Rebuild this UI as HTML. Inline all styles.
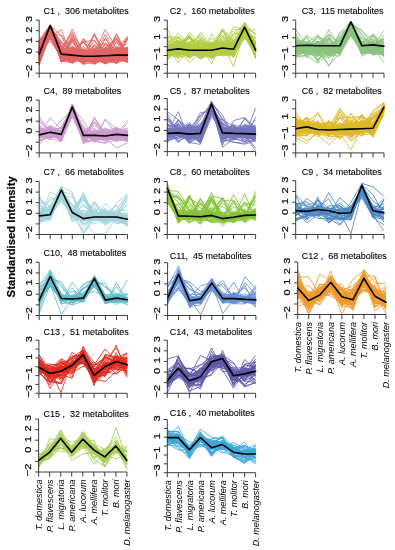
<!DOCTYPE html>
<html><head><meta charset="utf-8"><style>
html,body{margin:0;padding:0;background:#fff;}
svg{display:block;filter:blur(0.35px);}
text{font-family:"Liberation Sans",sans-serif;fill:#000;stroke:#000;stroke-width:0.2px;}
.tt{font-size:9px;stroke-width:0.1px;}
.yl{font-size:9.6px;text-anchor:middle;}
.xl{font-size:9px;font-style:italic;text-anchor:end;stroke:none;}
.ylab{font-size:11.3px;font-weight:bold;text-anchor:middle;}
</style></head><body>
<svg width="395" height="550" viewBox="0 0 395 550">
<rect width="395" height="550" fill="#fff"/>
<g>
<g fill="none" stroke="#E06563" stroke-width="0.85" stroke-linejoin="round"><polyline points="39.2,50.9 50.2,28.7 61.3,57.2 72.3,40.4 83.4,58.4 94.4,55 105.4,58.9 116.5,52.7 127.5,56.7"/><polyline points="39.2,62.3 50.2,25.2 61.3,58.5 72.3,54.6 83.4,64.3 94.4,56.4 105.4,61 116.5,54.6 127.5,58"/><polyline points="39.2,52.7 50.2,29.2 61.3,56.1 72.3,54.8 83.4,60.5 94.4,51.4 105.4,52.7 116.5,57.4 127.5,52.5"/><polyline points="39.2,49.4 50.2,31.5 61.3,51.7 72.3,52.8 83.4,58.6 94.4,57.8 105.4,59.8 116.5,55.8 127.5,51.1"/><polyline points="39.2,49.1 50.2,32.2 61.3,55.7 72.3,50.7 83.4,57.4 94.4,57.1 105.4,57.2 116.5,53.9 127.5,55.8"/><polyline points="39.2,54.8 50.2,28.4 61.3,51.8 72.3,52.8 83.4,52.5 94.4,54.2 105.4,54.5 116.5,62.3 127.5,58.3"/><polyline points="39.2,56.9 50.2,26.4 61.3,53.4 72.3,55.8 83.4,53.7 94.4,41.5 105.4,54.8 116.5,33.5 127.5,55.6"/><polyline points="39.2,50.6 50.2,38.2 61.3,51.1 72.3,52.5 83.4,53.5 94.4,61.6 105.4,50.6 116.5,56.1 127.5,58.6"/><polyline points="39.2,52.8 50.2,32.5 61.3,56.3 72.3,50.7 83.4,52.8 94.4,58.6 105.4,57.6 116.5,50 127.5,56.2"/><polyline points="39.2,43.7 50.2,37 61.3,57.8 72.3,57.8 83.4,61.3 94.4,58.4 105.4,53.1 116.5,54.9 127.5,53.6"/><polyline points="39.2,58.4 50.2,29.2 61.3,49.4 72.3,54.1 83.4,57.8 94.4,54 105.4,56.2 116.5,51 127.5,53.8"/><polyline points="39.2,47.4 50.2,26.2 61.3,54.6 72.3,52.4 83.4,53 94.4,50.9 105.4,52.7 116.5,52.1 127.5,49.9"/><polyline points="39.2,48.2 50.2,34.1 61.3,54.1 72.3,60.9 83.4,55.3 94.4,57.1 105.4,58.7 116.5,55.7 127.5,60.9"/><polyline points="39.2,50.3 50.2,30.3 61.3,56.4 72.3,58.3 83.4,46.3 94.4,61.1 105.4,56 116.5,60.2 127.5,52.5"/><polyline points="39.2,54 50.2,31.6 61.3,54.2 72.3,57.6 83.4,64.3 94.4,51.5 105.4,59.8 116.5,51.2 127.5,55"/><polyline points="39.2,48.2 50.2,33 61.3,53.3 72.3,53.4 83.4,52.4 94.4,56.7 105.4,60.3 116.5,50 127.5,52.4"/><polyline points="39.2,51.2 50.2,31.5 61.3,53.8 72.3,56.1 83.4,52 94.4,56.2 105.4,57.6 116.5,61.5 127.5,51.8"/><polyline points="39.2,51.9 50.2,25.6 61.3,55 72.3,55 83.4,54.3 94.4,58.2 105.4,50.1 116.5,54.9 127.5,59"/><polyline points="39.2,54.6 50.2,26 61.3,54.9 72.3,60.7 83.4,59.2 94.4,58.9 105.4,60.5 116.5,56.2 127.5,54.5"/><polyline points="39.2,50 50.2,28.8 61.3,55 72.3,58.8 83.4,60.6 94.4,51.7 105.4,51.9 116.5,54.2 127.5,48.3"/><polyline points="39.2,59.7 50.2,33 61.3,48.9 72.3,58.4 83.4,58 94.4,56.9 105.4,54.6 116.5,55.3 127.5,55.4"/><polyline points="39.2,49.3 50.2,25.2 61.3,60 72.3,62 83.4,53.2 94.4,56.7 105.4,57 116.5,52.9 127.5,54.4"/><polyline points="39.2,52.8 50.2,30.5 61.3,58.1 72.3,59.2 83.4,52.5 94.4,57.9 105.4,56.1 116.5,56.3 127.5,60.2"/><polyline points="39.2,51.3 50.2,31.7 61.3,60.2 72.3,54.5 83.4,57.5 94.4,55.5 105.4,58.9 116.5,53.5 127.5,50.4"/><polyline points="39.2,54.5 50.2,34.1 61.3,58 72.3,55.8 83.4,58.5 94.4,62.1 105.4,52.2 116.5,51.4 127.5,58.8"/><polyline points="39.2,52.8 50.2,31.5 61.3,57 72.3,58.7 83.4,56.4 94.4,61.6 105.4,58 116.5,52.2 127.5,49.9"/><polyline points="39.2,53.7 50.2,29.2 61.3,52 72.3,53 83.4,60 94.4,56 105.4,58.9 116.5,61.2 127.5,58.9"/><polyline points="39.2,52 50.2,32.9 61.3,59.4 72.3,57.8 83.4,54.9 94.4,58.7 105.4,58.3 116.5,58.6 127.5,61.6"/><polyline points="39.2,51.2 50.2,25.2 61.3,53.5 72.3,48.5 83.4,61.7 94.4,60.6 105.4,60.4 116.5,52.3 127.5,60"/><polyline points="39.2,64.7 50.2,28.9 61.3,57.9 72.3,58.9 83.4,61.5 94.4,51.4 105.4,57.1 116.5,61.8 127.5,55.3"/><polyline points="39.2,58.4 50.2,32.9 61.3,54.2 72.3,48.6 83.4,58.9 94.4,58.3 105.4,55.9 116.5,53 127.5,54.3"/><polyline points="39.2,57.5 50.2,30.4 61.3,56 72.3,55.2 83.4,56 94.4,58.4 105.4,63 116.5,54.6 127.5,56.6"/><polyline points="39.2,53.9 50.2,25.2 61.3,53.8 72.3,54.3 83.4,54.7 94.4,57.7 105.4,61.5 116.5,54.3 127.5,53.8"/><polyline points="39.2,49.1 50.2,25.2 61.3,53.4 72.3,53.3 83.4,52.7 94.4,61.7 105.4,56.2 116.5,53.8 127.5,59.7"/><polyline points="39.2,54.5 50.2,26.7 61.3,48 72.3,38.3 83.4,54.7 94.4,55.8 105.4,58.4 116.5,52.6 127.5,51.4"/><polyline points="39.2,50.6 50.2,34.9 61.3,59.8 72.3,55.3 83.4,62.2 94.4,58.3 105.4,63.6 116.5,52 127.5,57.3"/><polyline points="39.2,64.7 50.2,25.9 61.3,52.2 72.3,49.2 83.4,55.1 94.4,53.5 105.4,55.8 116.5,48.3 127.5,55.3"/><polyline points="39.2,52.7 50.2,25.2 61.3,57.5 72.3,55.8 83.4,52.5 94.4,59.4 105.4,58 116.5,51.5 127.5,53.4"/><polyline points="39.2,53.8 50.2,30.6 61.3,57.3 72.3,54.4 83.4,53.8 94.4,59.4 105.4,56.9 116.5,54.4 127.5,57.4"/><polyline points="39.2,40.6 50.2,25.2 61.3,53.9 72.3,49.8 83.4,59.6 94.4,54.6 105.4,61.4 116.5,52.8 127.5,55.6"/><polyline points="39.2,54.3 50.2,33.8 61.3,57.2 72.3,58.7 83.4,56.3 94.4,57.4 105.4,53.2 116.5,58.8 127.5,47.1"/><polyline points="39.2,48.7 50.2,29.4 61.3,54.9 72.3,50.9 83.4,53.9 94.4,49.5 105.4,53.7 116.5,62.3 127.5,55.8"/><polyline points="39.2,54.3 50.2,35.8 61.3,52.8 72.3,56.3 83.4,57.4 94.4,51.9 105.4,51.8 116.5,55.1 127.5,58.3"/><polyline points="39.2,52.1 50.2,30.9 61.3,52.9 72.3,54.1 83.4,57.3 94.4,58.1 105.4,61.6 116.5,48.7 127.5,50.5"/><polyline points="39.2,44.8 50.2,35.7 61.3,54.3 72.3,54.8 83.4,56.5 94.4,57.5 105.4,55.9 116.5,53.3 127.5,59"/><polyline points="39.2,51.1 50.2,26.7 61.3,48.6 72.3,54.9 83.4,51 94.4,58.6 105.4,53.4 116.5,50.3 127.5,52.5"/><polyline points="39.2,49.6 50.2,31 61.3,61.4 72.3,60.4 83.4,54.9 94.4,50.6 105.4,61.1 116.5,58.4 127.5,53.6"/><polyline points="39.2,52.8 50.2,36 61.3,51.6 72.3,53.9 83.4,54 94.4,51.9 105.4,54.3 116.5,60.3 127.5,56.1"/><polyline points="39.2,43.8 50.2,31 61.3,58.3 72.3,56.1 83.4,58.7 94.4,58.5 105.4,58.2 116.5,51.7 127.5,58.7"/><polyline points="39.2,48.3 50.2,29.8 61.3,55.8 72.3,58.6 83.4,57.9 94.4,61.3 105.4,55.2 116.5,61.4 127.5,52.3"/><polyline points="39.2,57.2 50.2,34.5 61.3,56.1 72.3,58 83.4,55.4 94.4,57.9 105.4,38 116.5,56.9 127.5,54"/><polyline points="39.2,61.7 50.2,36.3 61.3,54 72.3,50.5 83.4,53.4 94.4,53.2 105.4,53 116.5,54.6 127.5,58.4"/><polyline points="39.2,48.5 50.2,29.6 61.3,53 72.3,54.7 83.4,60.2 94.4,53.1 105.4,56.5 116.5,58.9 127.5,58.9"/><polyline points="39.2,41.8 50.2,33.4 61.3,51.5 72.3,54.8 83.4,60.8 94.4,56.4 105.4,55 116.5,54.2 127.5,55"/><polyline points="39.2,63.8 50.2,33.3 61.3,51.6 72.3,54.9 83.4,57.8 94.4,56.9 105.4,60.5 116.5,57.4 127.5,38.3"/><polyline points="39.2,46.2 50.2,31 61.3,52.7 72.3,57.4 83.4,42.1 94.4,56.1 105.4,57.2 116.5,54.4 127.5,50.9"/><polyline points="39.2,56.9 50.2,25.2 61.3,55.2 72.3,49.2 83.4,59.6 94.4,53.4 105.4,55.9 116.5,52.9 127.5,51.5"/><polyline points="39.2,58 50.2,25.2 61.3,54.9 72.3,53.8 83.4,59.4 94.4,56.3 105.4,56.2 116.5,55.6 127.5,55.1"/><polyline points="39.2,46.9 50.2,26.6 61.3,54.9 72.3,54.9 83.4,52.6 94.4,54.6 105.4,54.4 116.5,56.6 127.5,53.8"/><polyline points="39.2,56 50.2,27.8 61.3,52.6 72.3,55 83.4,62.5 94.4,44.2 105.4,56.4 116.5,60.2 127.5,58.9"/><polyline points="39.2,44 50.2,34.5 61.3,51.8 72.3,54.1 83.4,56.4 94.4,50.1 105.4,55.2 116.5,53.1 127.5,52.2"/><polyline points="39.2,63 50.2,25.2 61.3,51 72.3,57.9 83.4,61 94.4,48.1 105.4,59.6 116.5,56.6 127.5,58"/><polyline points="39.2,47.9 50.2,25.2 61.3,58 72.3,57.6 83.4,53.6 94.4,54.5 105.4,51.6 116.5,52.1 127.5,57.8"/><polyline points="39.2,61 50.2,32.4 61.3,62.1 72.3,56.1 83.4,55.6 94.4,57 105.4,63.2 116.5,57.7 127.5,54.4"/><polyline points="39.2,48.3 50.2,28.2 61.3,56.5 72.3,47.1 83.4,55.2 94.4,53.5 105.4,56.4 116.5,55.9 127.5,52.5"/><polyline points="39.2,58.9 50.2,32 61.3,43.1 72.3,53.4 83.4,56 94.4,57.3 105.4,59.5 116.5,55 127.5,56.9"/><polyline points="39.2,56.3 50.2,28.4 61.3,56.8 72.3,57.7 83.4,56.3 94.4,53.9 105.4,58.3 116.5,54 127.5,56.9"/><polyline points="39.2,45.6 50.2,25.2 61.3,52.8 72.3,57.3 83.4,56 94.4,56.4 105.4,47.6 116.5,60.3 127.5,55.6"/><polyline points="39.2,46.9 50.2,25.5 61.3,57 72.3,58.4 83.4,56 94.4,57.5 105.4,53.9 116.5,56 127.5,59.2"/><polyline points="39.2,54.3 50.2,26.4 61.3,55.4 72.3,35.5 83.4,56.7 94.4,58.1 105.4,53.4 116.5,56.9 127.5,51"/><polyline points="39.2,53.3 50.2,27.2 61.3,51.2 72.3,54.4 83.4,57.5 94.4,58.2 105.4,58.8 116.5,52 127.5,55.4"/><polyline points="39.2,50.4 50.2,29 61.3,52 72.3,55.9 83.4,61.5 94.4,61.3 105.4,51.1 116.5,60.5 127.5,50.7"/><polyline points="39.2,54.3 50.2,33.2 61.3,51.8 72.3,50.9 83.4,51.4 94.4,49.3 105.4,52.5 116.5,58.4 127.5,52.8"/><polyline points="39.2,46.8 50.2,26.1 61.3,62.1 72.3,56.7 83.4,55.5 94.4,57.9 105.4,48.6 116.5,59.5 127.5,53.7"/><polyline points="39.2,55.1 50.2,32.6 61.3,53.5 72.3,57.4 83.4,56.5 94.4,58.7 105.4,55.9 116.5,52.6 127.5,50.7"/><polyline points="39.2,55.3 50.2,25.2 61.3,52 72.3,53.7 83.4,50.9 94.4,61.4 105.4,60.7 116.5,58.1 127.5,53.1"/><polyline points="39.2,53 50.2,25.2 61.3,53.8 72.3,57 83.4,50.6 94.4,55.3 105.4,55 116.5,55.3 127.5,60.7"/><polyline points="39.2,49.2 50.2,29.7 61.3,62.1 72.3,54.4 83.4,55.2 94.4,61.2 105.4,49.3 116.5,55.9 127.5,52.1"/><polyline points="39.2,45.8 50.2,33.2 61.3,57.5 72.3,59.5 83.4,55.2 94.4,54.8 105.4,58.3 116.5,54.9 127.5,59.7"/><polyline points="39.2,62.3 50.2,31.5 61.3,59.8 72.3,53.7 83.4,61.5 94.4,53 105.4,56.8 116.5,56.3 127.5,59.8"/><polyline points="39.2,59.8 50.2,29.8 61.3,52.2 72.3,57.4 83.4,54.2 94.4,57.3 105.4,57.7 116.5,56.1 127.5,49.6"/><polyline points="39.2,58.5 50.2,25.2 61.3,49.8 72.3,54.6 83.4,54 94.4,64.3 105.4,53.2 116.5,58.3 127.5,49.6"/><polyline points="39.2,58.9 50.2,30 61.3,61.8 72.3,54.8 83.4,56.8 94.4,49.4 105.4,55.8 116.5,57.9 127.5,52"/><polyline points="39.2,59.5 50.2,32.8 61.3,48.4 72.3,54.4 83.4,60.2 94.4,51.1 105.4,54 116.5,52.7 127.5,52.3"/><polyline points="39.2,49.3 50.2,36.9 61.3,55.5 72.3,56.7 83.4,56.7 94.4,55.9 105.4,60.7 116.5,58.5 127.5,49.2"/><polyline points="39.2,44.7 50.2,38.8 61.3,48.8 72.3,63.2 83.4,50.7 94.4,55.6 105.4,55.3 116.5,57.5 127.5,54.4"/><polyline points="39.2,40.3 50.2,34.2 61.3,53.2 72.3,59.5 83.4,59.5 94.4,56.4 105.4,56.9 116.5,56.9 127.5,52.9"/><polyline points="39.2,51 50.2,31.8 61.3,50.5 72.3,33.4 83.4,59.4 94.4,57.6 105.4,53.1 116.5,55.8 127.5,49.4"/><polyline points="39.2,48.3 50.2,25.2 61.3,55 72.3,47.1 83.4,52.1 94.4,54.7 105.4,51.2 116.5,53.7 127.5,57.6"/><polyline points="39.2,51.7 50.2,29.3 61.3,59.2 72.3,51 83.4,57.5 94.4,54.2 105.4,61.7 116.5,47.1 127.5,51.6"/><polyline points="39.2,45 50.2,35.6 61.3,53.5 72.3,55.9 83.4,55.8 94.4,50.6 105.4,52.5 116.5,52.7 127.5,49.9"/><polyline points="39.2,58.6 50.2,37.6 61.3,29.7 72.3,58.3 83.4,51.8 94.4,56.2 105.4,56.1 116.5,48.2 127.5,48.6"/><polyline points="39.2,48.5 50.2,29.3 61.3,54.6 72.3,55.1 83.4,60.9 94.4,57.9 105.4,51.3 116.5,55.1 127.5,52.7"/><polyline points="39.2,50.3 50.2,28.9 61.3,53.8 72.3,62.2 83.4,57.2 94.4,62.1 105.4,55.8 116.5,59.2 127.5,59.5"/><polyline points="39.2,56.3 50.2,31.4 61.3,50.2 72.3,56.2 83.4,52.4 94.4,59.2 105.4,59.6 116.5,58.2 127.5,58.3"/><polyline points="39.2,56.5 50.2,29.1 61.3,48.2 72.3,57.4 83.4,59.4 94.4,55.2 105.4,58.6 116.5,51.2 127.5,54.5"/><polyline points="39.2,55.3 50.2,28.5 61.3,55.5 72.3,57.1 83.4,38.4 94.4,51.1 105.4,53.6 116.5,55.6 127.5,56"/><polyline points="39.2,54.5 50.2,34.2 61.3,55 72.3,53.7 83.4,59.5 94.4,55.7 105.4,57.7 116.5,55.4 127.5,58.9"/><polyline points="39.2,54.9 50.2,28.1 61.3,59.2 72.3,59.7 83.4,57.3 94.4,55.9 105.4,53.9 116.5,57.5 127.5,59.2"/><polyline points="39.2,52.6 50.2,29.9 61.3,52.1 72.3,57.9 83.4,54.6 94.4,51.9 105.4,58.4 116.5,51.5 127.5,51.5"/><polyline points="39.2,45.9 50.2,28.7 61.3,49 72.3,54.8 83.4,57.2 94.4,60.8 105.4,54.5 116.5,50.3 127.5,54.8"/><polyline points="39.2,56 50.2,33 61.3,60.5 72.3,56 83.4,59.5 94.4,48.3 105.4,58.2 116.5,58.7 127.5,49.1"/><polyline points="39.2,46.3 50.2,30.4 61.3,51.2 72.3,58.2 83.4,61.1 94.4,52.8 105.4,29.2 116.5,48.8 127.5,59.4"/><polyline points="39.2,55.1 50.2,30.3 61.3,50.5 72.3,59 83.4,58.9 94.4,55.8 105.4,53.2 116.5,53.7 127.5,53.5"/><polyline points="39.2,57.5 50.2,26.4 61.3,57.8 72.3,51.6 83.4,57.3 94.4,60.9 105.4,56.9 116.5,63.2 127.5,59.3"/><polyline points="39.2,52.9 50.2,29.8 61.3,47.6 72.3,54.3 83.4,51.3 94.4,52.7 105.4,51.7 116.5,56.4 127.5,54"/><polyline points="39.2,53.9 50.2,25.2 61.3,52.8 72.3,52.6 83.4,52.3 94.4,58.2 105.4,55.1 116.5,58.6 127.5,62.3"/><polyline points="39.2,53.9 50.2,28.4 61.3,58.4 72.3,55.8 83.4,61 94.4,54.9 105.4,55.5 116.5,51.5 127.5,56.2"/><polyline points="39.2,50.8 50.2,26.1 61.3,54 72.3,52.2 83.4,54.4 94.4,55.4 105.4,52.2 116.5,49.1 127.5,60.6"/><polyline points="39.2,53 50.2,26.2 61.3,47 72.3,59.6 83.4,57.3 94.4,55.5 105.4,59.2 116.5,52.8 127.5,57.6"/><polyline points="39.2,57.9 50.2,26.3 61.3,55 72.3,53 83.4,57.7 94.4,51 105.4,52.1 116.5,57 127.5,56"/><polyline points="39.2,52.5 50.2,25.2 61.3,53.7 72.3,56.1 83.4,59.3 94.4,56.4 105.4,56.1 116.5,48.1 127.5,53.6"/><polyline points="39.2,50.8 50.2,26.8 61.3,53 72.3,50.2 83.4,48.9 94.4,53.8 105.4,49.3 116.5,55.3 127.5,50.7"/><polyline points="39.2,59.9 50.2,27.4 61.3,54.4 72.3,57.5 83.4,58.8 94.4,50.9 105.4,56.1 116.5,53.4 127.5,55.7"/><polyline points="39.2,52 50.2,34.2 61.3,52.8 72.3,60.6 83.4,55.2 94.4,52.8 105.4,59.5 116.5,49.7 127.5,57.7"/><polyline points="39.2,55.1 50.2,32.6 61.3,54 72.3,59.4 83.4,58.6 94.4,54 105.4,56.9 116.5,58 127.5,52.9"/><polyline points="39.2,48.7 50.2,26.9 61.3,47.7 72.3,57 83.4,60.7 94.4,55.7 105.4,55.3 116.5,57.5 127.5,59.5"/><polyline points="39.2,50.7 50.2,31.3 61.3,57.2 72.3,57 83.4,61 94.4,53.9 105.4,55.9 116.5,38.8 127.5,51.3"/><polyline points="39.2,58 50.2,25.2 61.3,48.1 72.3,50.8 83.4,56.9 94.4,54.7 105.4,52.4 116.5,59.2 127.5,53.9"/><polyline points="39.2,48.2 50.2,34.2 61.3,55.8 72.3,54.7 83.4,55.9 94.4,58.9 105.4,57.6 116.5,49.3 127.5,52.3"/><polyline points="39.2,44.8 50.2,32.4 61.3,47.6 72.3,56 83.4,57.4 94.4,51.1 105.4,55.7 116.5,57.7 127.5,54.9"/><polyline points="39.2,52.4 50.2,29.5 61.3,57.6 72.3,48.6 83.4,50.7 94.4,57.5 105.4,52 116.5,58.4 127.5,39.1"/><polyline points="39.2,59.1 50.2,25.2 61.3,56.6 72.3,55.6 83.4,49.5 94.4,56.3 105.4,50.1 116.5,51.5 127.5,56.2"/><polyline points="39.2,57.4 50.2,25.2 61.3,58.9 72.3,51.8 83.4,58.9 94.4,54.6 105.4,54.7 116.5,57.1 127.5,60.6"/><polyline points="39.2,54.7 50.2,25.2 61.3,51.7 72.3,55 83.4,52.5 94.4,58 105.4,56.6 116.5,52.9 127.5,58.6"/><polyline points="39.2,51 50.2,25.2 61.3,51.6 72.3,57.6 83.4,56.4 94.4,60.7 105.4,53.5 116.5,53.5 127.5,53.4"/><polyline points="39.2,43 50.2,37 61.3,49.6 72.3,56.1 83.4,62.8 94.4,58.6 105.4,60.8 116.5,54.2 127.5,57.6"/><polyline points="39.2,55.4 50.2,29.9 61.3,54.7 72.3,56.1 83.4,55.6 94.4,54 105.4,61.4 116.5,61.1 127.5,57.8"/><polyline points="39.2,52 50.2,25.2 61.3,56.5 72.3,58 83.4,59.8 94.4,61.1 105.4,54 116.5,58.6 127.5,54.3"/><polyline points="39.2,53.7 50.2,29.5 61.3,47.3 72.3,53.8 83.4,58.2 94.4,53.1 105.4,54.2 116.5,62.3 127.5,47.2"/><polyline points="39.2,60 50.2,27.3 61.3,56.9 72.3,50.3 83.4,52.8 94.4,56.7 105.4,44.7 116.5,48.5 127.5,58.8"/><polyline points="39.2,41.3 50.2,28.9 61.3,56.6 72.3,51.4 83.4,51.1 94.4,56 105.4,53 116.5,58.8 127.5,56.5"/><polyline points="39.2,53.6 50.2,30.3 61.3,59.7 72.3,50.1 83.4,53.9 94.4,58 105.4,54.7 116.5,58.6 127.5,56.3"/><polyline points="39.2,53.9 50.2,31.4 61.3,54.1 72.3,54.7 83.4,58.5 94.4,53.6 105.4,51.2 116.5,56.5 127.5,54.5"/><polyline points="39.2,48.3 50.2,27.7 61.3,58.2 72.3,51.7 83.4,53.3 94.4,52.3 105.4,58.5 116.5,57.8 127.5,54.5"/><polyline points="39.2,64.7 50.2,33.6 61.3,60.7 72.3,51.2 83.4,57.6 94.4,56.7 105.4,57.7 116.5,51 127.5,51.8"/><polyline points="39.2,53.4 50.2,33.3 61.3,51.2 72.3,57.5 83.4,50.4 94.4,57.2 105.4,51.9 116.5,56.5 127.5,53.8"/><polyline points="39.2,60 50.2,34.2 61.3,35.4 72.3,60.2 83.4,61.3 94.4,52.2 105.4,52.6 116.5,58.2 127.5,56.5"/><polyline points="39.2,47.4 50.2,31.2 61.3,52 72.3,52.8 83.4,59.9 94.4,61.1 105.4,55.5 116.5,52.5 127.5,54.5"/><polyline points="39.2,53.5 50.2,31.5 61.3,55.5 72.3,54.3 83.4,56.6 94.4,53.4 105.4,54.6 116.5,60.4 127.5,58.9"/><polyline points="39.2,61.3 50.2,36.2 61.3,55.9 72.3,59.3 83.4,57 94.4,57.7 105.4,58.3 116.5,53.1 127.5,56.7"/><polyline points="39.2,50.7 50.2,27 61.3,56.8 72.3,47.1 83.4,55 94.4,64.3 105.4,58.2 116.5,56 127.5,55.9"/><polyline points="39.2,55.5 50.2,33 61.3,58.8 72.3,52.4 83.4,53.7 94.4,52.1 105.4,49.8 116.5,55.6 127.5,54.5"/><polyline points="39.2,56.6 50.2,33 61.3,56.4 72.3,54.9 83.4,62.1 94.4,34.3 105.4,59.9 116.5,53.6 127.5,51.9"/><polyline points="39.2,56.9 50.2,29.3 61.3,54.4 72.3,58.8 83.4,39 94.4,58.2 105.4,57.7 116.5,55.4 127.5,55.1"/><polyline points="39.2,46.5 50.2,25.9 61.3,35 72.3,51.8 83.4,53.1 94.4,51.8 105.4,62.9 116.5,54.8 127.5,55.8"/><polyline points="39.2,49.8 50.2,36.9 61.3,52.2 72.3,48.4 83.4,64.1 94.4,57.4 105.4,63.2 116.5,49.3 127.5,51"/><polyline points="39.2,50.2 50.2,28.7 61.3,50.2 72.3,57.2 83.4,58 94.4,49.1 105.4,57.8 116.5,60.6 127.5,56.9"/><polyline points="39.2,46.5 50.2,32.3 61.3,52.4 72.3,58.9 83.4,59.5 94.4,54.6 105.4,60.4 116.5,57.8 127.5,55.6"/><polyline points="39.2,48.7 50.2,31.5 61.3,50 72.3,56.2 83.4,58.8 94.4,56.8 105.4,50.4 116.5,49.5 127.5,53.8"/><polyline points="39.2,40.3 50.2,33.5 61.3,58.3 72.3,36.4 83.4,53.3 94.4,52.8 105.4,55.8 116.5,57.8 127.5,51.4"/><polyline points="39.2,50.6 50.2,30.4 61.3,41.8 72.3,59 83.4,61.5 94.4,54.1 105.4,60 116.5,54.7 127.5,57.4"/><polyline points="39.2,46.6 50.2,25.2 61.3,56.2 72.3,54.8 83.4,60.6 94.4,56.8 105.4,54.9 116.5,56.6 127.5,60.1"/><polyline points="39.2,51 50.2,25.2 61.3,58.3 72.3,54.3 83.4,48.8 94.4,59.3 105.4,58.6 116.5,47.1 127.5,52.6"/><polyline points="39.2,51 50.2,25.2 61.3,57.7 72.3,50.1 83.4,54.4 94.4,55.6 105.4,50.3 116.5,53.4 127.5,51.5"/><polyline points="39.2,58.7 50.2,29.2 61.3,46.4 72.3,55.6 83.4,52.9 94.4,61.9 105.4,59.8 116.5,53.2 127.5,52.3"/><polyline points="39.2,48.4 50.2,28.3 61.3,57.2 72.3,58.9 83.4,60 94.4,56.9 105.4,60.7 116.5,42.2 127.5,56.3"/><polyline points="39.2,40.4 50.2,30.6 61.3,54.8 72.3,53.8 83.4,58.9 94.4,55.9 105.4,52.3 116.5,54.1 127.5,58.1"/><polyline points="39.2,42.4 50.2,30.3 61.3,47.1 72.3,53 83.4,60.9 94.4,53.8 105.4,51.5 116.5,54.7 127.5,53.1"/><polyline points="39.2,49.5 50.2,30.9 61.3,57.7 72.3,59.9 83.4,57.4 94.4,58.1 105.4,56.8 116.5,50.4 127.5,55"/><polyline points="39.2,58.7 50.2,29.7 61.3,54.9 72.3,53.2 83.4,55.4 94.4,63.8 105.4,59 116.5,56.1 127.5,59"/><polyline points="39.2,56 50.2,29.9 61.3,54.9 72.3,55 83.4,58.6 94.4,51.4 105.4,58.6 116.5,54.7 127.5,56"/><polyline points="39.2,53.4 50.2,28.1 61.3,56.6 72.3,52.4 83.4,52.4 94.4,52.4 105.4,49.5 116.5,54.4 127.5,60.7"/><polyline points="39.2,55 50.2,35.2 61.3,51 72.3,51.7 83.4,56.4 94.4,58.5 105.4,52.8 116.5,59.2 127.5,60.2"/><polyline points="39.2,49.2 50.2,33 61.3,56.5 72.3,58.5 83.4,58.5 94.4,53.3 105.4,59.2 116.5,60.9 127.5,57.7"/><polyline points="39.2,56.7 50.2,35.5 61.3,58.2 72.3,55.9 83.4,58.4 94.4,55.3 105.4,62.7 116.5,52.5 127.5,54.4"/><polyline points="39.2,54.5 50.2,27.2 61.3,50.7 72.3,56 83.4,54.3 94.4,59.1 105.4,54.8 116.5,50 127.5,55.5"/><polyline points="39.2,55.9 50.2,33.9 61.3,49.8 72.3,52.8 83.4,59.6 94.4,55.3 105.4,49.5 116.5,52.1 127.5,52.6"/><polyline points="39.2,53 50.2,25.7 61.3,53.4 72.3,56.9 83.4,53.6 94.4,58.4 105.4,63.7 116.5,52.7 127.5,47.1"/><polyline points="39.2,44.2 50.2,25.2 61.3,54.9 72.3,58.3 83.4,60.1 94.4,52.7 105.4,45.2 116.5,54 127.5,55.3"/><polyline points="39.2,52.1 50.2,29.2 61.3,50.7 72.3,51.7 83.4,53.2 94.4,58 105.4,53.7 116.5,47.7 127.5,37.6"/><polyline points="39.2,47.5 50.2,32.4 61.3,56.5 72.3,54.1 83.4,52.1 94.4,57.2 105.4,62.6 116.5,59.4 127.5,57.8"/><polyline points="39.2,52.4 50.2,35.1 61.3,54.4 72.3,54.1 83.4,56.3 94.4,54.4 105.4,55.2 116.5,51.8 127.5,59.7"/><polyline points="39.2,47.4 50.2,31.4 61.3,58.4 72.3,48.8 83.4,61.2 94.4,57.5 105.4,63.7 116.5,54.2 127.5,56"/><polyline points="39.2,63.7 50.2,28.2 61.3,57 72.3,40.8 83.4,57.9 94.4,59.9 105.4,54.7 116.5,53.5 127.5,51.6"/><polyline points="39.2,55.7 50.2,27.5 61.3,51.6 72.3,55.2 83.4,55.9 94.4,61.1 105.4,53 116.5,56.2 127.5,56.9"/><polyline points="39.2,64.7 50.2,25.2 61.3,46 72.3,55.2 83.4,49.8 94.4,55.9 105.4,34.2 116.5,55 127.5,57.5"/><polyline points="39.2,58.7 50.2,27.4 61.3,54.6 72.3,51.3 83.4,41.3 94.4,58.2 105.4,48.6 116.5,54.9 127.5,58.8"/><polyline points="39.2,54.5 50.2,25.2 61.3,52.2 72.3,53.5 83.4,52.1 94.4,55.7 105.4,50.9 116.5,58.7 127.5,54"/><polyline points="39.2,57.6 50.2,36.4 61.3,52.6 72.3,55.1 83.4,56.5 94.4,52.7 105.4,57.4 116.5,55.7 127.5,53.5"/><polyline points="39.2,59.8 50.2,25.2 61.3,55 72.3,63.2 83.4,57.4 94.4,55.9 105.4,52.4 116.5,53.1 127.5,51.3"/><polyline points="39.2,59.8 50.2,25.2 61.3,51.6 72.3,56.7 83.4,56.1 94.4,58.7 105.4,54.9 116.5,59.7 127.5,56.1"/><polyline points="39.2,48.5 50.2,25.2 61.3,53.9 72.3,59 83.4,54.9 94.4,58.9 105.4,52.6 116.5,60 127.5,54.8"/><polyline points="39.2,47.2 50.2,25.2 61.3,53 72.3,56.6 83.4,54.3 94.4,56 105.4,56.8 116.5,58.7 127.5,53.6"/><polyline points="39.2,47.9 50.2,25.2 61.3,50.6 72.3,55.8 83.4,59.7 94.4,52.6 105.4,48.8 116.5,55.9 127.5,57.6"/><polyline points="39.2,43.7 50.2,34.6 61.3,52.2 72.3,60.1 83.4,59.2 94.4,56.3 105.4,53.1 116.5,54.3 127.5,52.9"/><polyline points="39.2,49.9 50.2,25.6 61.3,54.4 72.3,57.6 83.4,52 94.4,55.2 105.4,47.6 116.5,51.5 127.5,53.7"/><polyline points="39.2,44 50.2,34.5 61.3,52.9 72.3,52 83.4,55.1 94.4,54.4 105.4,58.7 116.5,41.2 127.5,55.1"/><polyline points="39.2,57.5 50.2,29.2 61.3,56.5 72.3,58.9 83.4,55.3 94.4,52.1 105.4,59.9 116.5,58.3 127.5,61.4"/><polyline points="39.2,53.3 50.2,32.6 61.3,57.4 72.3,57.4 83.4,52.6 94.4,52 105.4,50.4 116.5,56.7 127.5,57.9"/><polyline points="39.2,51.1 50.2,26.9 61.3,54.4 72.3,50.1 83.4,58.7 94.4,51.2 105.4,61.8 116.5,53 127.5,49.7"/><polyline points="39.2,55.8 50.2,25.2 61.3,54.3 72.3,57.4 83.4,60.1 94.4,59.8 105.4,51 116.5,58.8 127.5,57.6"/><polyline points="39.2,49.9 50.2,28.2 61.3,61.1 72.3,59.1 83.4,55.9 94.4,57.6 105.4,59 116.5,55.9 127.5,56.6"/><polyline points="39.2,61.9 50.2,25.2 61.3,53.9 72.3,52.9 83.4,56.9 94.4,52.7 105.4,56.1 116.5,54.8 127.5,36.2"/><polyline points="39.2,56.9 50.2,27.5 61.3,53.4 72.3,58.9 83.4,54.4 94.4,33.3 105.4,55.4 116.5,47.5 127.5,55.5"/><polyline points="39.2,53 50.2,33.9 61.3,46 72.3,55.3 83.4,55.9 94.4,54.8 105.4,54.1 116.5,51.6 127.5,54.1"/><polyline points="39.2,51.3 50.2,30.5 61.3,53.7 72.3,49.8 83.4,57.6 94.4,57 105.4,54.2 116.5,55.9 127.5,58.7"/><polyline points="39.2,49.7 50.2,25.4 61.3,50.2 72.3,51.6 83.4,54.1 94.4,35.4 105.4,54.5 116.5,50.9 127.5,58.7"/><polyline points="39.2,51.4 50.2,35.9 61.3,53.7 72.3,61.5 83.4,53.9 94.4,52.9 105.4,55.7 116.5,53.9 127.5,53.9"/><polyline points="39.2,56.5 50.2,30 61.3,58 72.3,42.6 83.4,54.9 94.4,60.1 105.4,54.2 116.5,58.4 127.5,51.7"/><polyline points="39.2,64.2 50.2,25.2 61.3,54.8 72.3,55.3 83.4,57.8 94.4,51.2 105.4,59 116.5,56.4 127.5,55.1"/><polyline points="39.2,55 50.2,30.3 61.3,55.7 72.3,58 83.4,56.7 94.4,54.9 105.4,53.8 116.5,51.3 127.5,57.1"/><polyline points="39.2,45.4 50.2,31.9 61.3,55.5 72.3,53.3 83.4,61.4 94.4,55 105.4,52.9 116.5,51.5 127.5,53.8"/><polyline points="39.2,55.6 50.2,30.9 61.3,57.3 72.3,53.6 83.4,53 94.4,58.4 105.4,57 116.5,54 127.5,55.1"/><polyline points="39.2,47.7 50.2,31.1 61.3,55.4 72.3,63 83.4,57.7 94.4,55.2 105.4,58.2 116.5,58.5 127.5,60.5"/><polyline points="39.2,52.2 50.2,25.2 61.3,54.6 72.3,55.3 83.4,59.8 94.4,51.8 105.4,61.2 116.5,60.8 127.5,53"/><polyline points="39.2,58.7 50.2,25.5 61.3,53.7 72.3,54.6 83.4,55.4 94.4,63.6 105.4,55.1 116.5,56.6 127.5,52.6"/><polyline points="39.2,57.6 50.2,27.9 61.3,53.5 72.3,59.6 83.4,52 94.4,51.1 105.4,52.2 116.5,60 127.5,50.1"/><polyline points="39.2,48.7 50.2,32.2 61.3,54.8 72.3,52.8 83.4,54.5 94.4,46.4 105.4,63 116.5,47.1 127.5,59.1"/><polyline points="39.2,53.3 50.2,28.7 61.3,53.7 72.3,47.1 83.4,58.1 94.4,54.9 105.4,53 116.5,60.2 127.5,56.2"/><polyline points="39.2,55.5 50.2,27 61.3,54.2 72.3,55 83.4,60.1 94.4,59.2 105.4,63.7 116.5,61 127.5,52.2"/><polyline points="39.2,57 50.2,25.2 61.3,50.9 72.3,59.8 83.4,52.4 94.4,57.1 105.4,60.1 116.5,55.1 127.5,57.5"/><polyline points="39.2,47.4 50.2,27.5 61.3,50.9 72.3,52.9 83.4,53.3 94.4,55.9 105.4,60.6 116.5,52.8 127.5,57.3"/><polyline points="39.2,57.2 50.2,26.5 61.3,53.9 72.3,51.7 83.4,61.2 94.4,57.2 105.4,57 116.5,53.4 127.5,47.8"/><polyline points="39.2,53.8 50.2,31.9 61.3,55.1 72.3,56.1 83.4,55.6 94.4,48.1 105.4,57.4 116.5,59.4 127.5,61.7"/><polyline points="39.2,58.7 50.2,30.9 61.3,50.8 72.3,53.8 83.4,58.4 94.4,53 105.4,59.6 116.5,58.4 127.5,54.3"/><polyline points="39.2,48.8 50.2,25.2 61.3,57.3 72.3,52.9 83.4,51.3 94.4,55.1 105.4,52.2 116.5,55.4 127.5,51.7"/><polyline points="39.2,60 50.2,29.7 61.3,57.7 72.3,60.7 83.4,57.6 94.4,59 105.4,57.4 116.5,54.1 127.5,59"/><polyline points="39.2,57.8 50.2,27.4 61.3,56.5 72.3,60.6 83.4,52.7 94.4,62.3 105.4,57.4 116.5,51.2 127.5,58.9"/><polyline points="39.2,57.4 50.2,26.8 61.3,53.3 72.3,49.1 83.4,53.2 94.4,57.6 105.4,57.1 116.5,53.6 127.5,53.9"/><polyline points="39.2,51.5 50.2,41.1 61.3,56.3 72.3,51.8 83.4,57.1 94.4,53.9 105.4,57.8 116.5,53.2 127.5,61"/><polyline points="39.2,50.6 50.2,34.7 61.3,49.9 72.3,57.2 83.4,60.7 94.4,54.7 105.4,56.8 116.5,49.8 127.5,43.4"/><polyline points="39.2,46.7 50.2,34.8 61.3,55.7 72.3,51.9 83.4,62.7 94.4,54.3 105.4,60 116.5,59.5 127.5,52.3"/><polyline points="39.2,51.2 50.2,25.2 61.3,43.9 72.3,52.1 83.4,56.1 94.4,56.3 105.4,48.3 116.5,39.6 127.5,53"/><polyline points="39.2,57.7 50.2,36 61.3,57.6 72.3,60 83.4,56.9 94.4,52.1 105.4,57.4 116.5,53.8 127.5,53.6"/><polyline points="39.2,53.1 50.2,32 61.3,55.4 72.3,51.7 83.4,53.5 94.4,57.6 105.4,54.6 116.5,56.9 127.5,55.9"/><polyline points="39.2,42.7 50.2,32.3 61.3,49.8 72.3,56.9 83.4,56.7 94.4,53.3 105.4,59.7 116.5,58.7 127.5,52.2"/><polyline points="39.2,61.2 50.2,31.6 61.3,57.7 72.3,55.9 83.4,60.2 94.4,60.7 105.4,56.6 116.5,57.5 127.5,50.6"/><polyline points="39.2,50.3 50.2,35.8 61.3,55.6 72.3,58 83.4,58.6 94.4,51.6 105.4,56.4 116.5,54.4 127.5,60.2"/><polyline points="39.2,57.1 50.2,29.3 61.3,46.7 72.3,54.3 83.4,52.5 94.4,56.1 105.4,57 116.5,52.8 127.5,55.1"/><polyline points="39.2,50.5 50.2,35.1 61.3,53 72.3,50 83.4,57.1 94.4,53.7 105.4,58.9 116.5,59.1 127.5,58.9"/><polyline points="39.2,46 50.2,35.9 61.3,54.4 72.3,49.4 83.4,56.5 94.4,59 105.4,58.2 116.5,34.6 127.5,58.1"/><polyline points="39.2,58.9 50.2,25.2 61.3,50.3 72.3,58 83.4,54.3 94.4,51.3 105.4,52 116.5,54.6 127.5,54.5"/><polyline points="39.2,57.7 50.2,25.5 61.3,55.7 72.3,55.7 83.4,58.3 94.4,55.2 105.4,53.8 116.5,55.1 127.5,55"/><polyline points="39.2,53 50.2,25.2 61.3,59.9 72.3,56.2 83.4,54.9 94.4,51.6 105.4,55.7 116.5,58.5 127.5,54.2"/><polyline points="39.2,53.3 50.2,28.1 61.3,53.4 72.3,54.1 83.4,59.8 94.4,54.7 105.4,47.6 116.5,56.6 127.5,57.8"/><polyline points="39.2,58.6 50.2,33.9 61.3,47.8 72.3,52.9 83.4,55.8 94.4,56.8 105.4,55.3 116.5,54 127.5,62.2"/><polyline points="39.2,45.4 50.2,32.1 61.3,57.1 72.3,58.6 83.4,58 94.4,51.4 105.4,54.7 116.5,60.1 127.5,55.9"/><polyline points="39.2,46.9 50.2,28.6 61.3,52 72.3,55.2 83.4,54.3 94.4,53.6 105.4,53.1 116.5,49.7 127.5,59.2"/><polyline points="39.2,48.8 50.2,31.2 61.3,48 72.3,52.4 83.4,54 94.4,59.9 105.4,38 116.5,58 127.5,58.1"/><polyline points="39.2,47.6 50.2,25.8 61.3,50.7 72.3,60.2 83.4,56.8 94.4,54.7 105.4,49.3 116.5,50.2 127.5,52.1"/><polyline points="39.2,52.4 50.2,35 61.3,48.3 72.3,55 83.4,52.1 94.4,54.6 105.4,53.3 116.5,37.4 127.5,52.1"/><polyline points="39.2,63.5 50.2,34.2 61.3,58.9 72.3,55.1 83.4,56.4 94.4,57.9 105.4,60 116.5,63.2 127.5,50"/><polyline points="39.2,52.5 50.2,27.2 61.3,49.8 72.3,52.5 83.4,52.3 94.4,57.4 105.4,54.3 116.5,52.7 127.5,47.1"/><polyline points="39.2,55.5 50.2,32 61.3,53.8 72.3,45.6 83.4,57.8 94.4,60 105.4,52 116.5,53 127.5,56.4"/><polyline points="39.2,51.6 50.2,27.9 61.3,61.1 72.3,62.7 83.4,52.6 94.4,56.3 105.4,53 116.5,53.8 127.5,62.8"/><polyline points="39.2,54.6 50.2,33.5 61.3,56.2 72.3,51.2 83.4,59.8 94.4,58.2 105.4,62.1 116.5,52.7 127.5,52.2"/><polyline points="39.2,48.6 50.2,38.9 61.3,58.3 72.3,59 83.4,60.9 94.4,59.5 105.4,56.9 116.5,57.6 127.5,37.7"/><polyline points="39.2,55.6 50.2,25.2 61.3,49.4 72.3,58.2 83.4,54.9 94.4,56.8 105.4,51.3 116.5,60.1 127.5,54.9"/><polyline points="39.2,56 50.2,26.6 61.3,60.4 72.3,57.3 83.4,59.9 94.4,59.7 105.4,53.3 116.5,53.7 127.5,54.9"/><polyline points="39.2,55.4 50.2,25.2 61.3,53.6 72.3,52.4 83.4,54.5 94.4,56.6 105.4,54.7 116.5,53.9 127.5,52.3"/><polyline points="39.2,53 50.2,28.8 61.3,50.4 72.3,56 83.4,58 94.4,50.4 105.4,42.7 116.5,55.1 127.5,57.1"/><polyline points="39.2,51.1 50.2,25.2 61.3,53 72.3,58.7 83.4,59.1 94.4,55 105.4,54.9 116.5,60.3 127.5,58.3"/><polyline points="39.2,46.2 50.2,25.5 61.3,54.9 72.3,57.5 83.4,54.1 94.4,52.9 105.4,54.7 116.5,55.5 127.5,59.2"/><polyline points="39.2,57.3 50.2,27.6 61.3,57.7 72.3,54.4 83.4,59.2 94.4,59.8 105.4,54.7 116.5,52.5 127.5,53.3"/><polyline points="39.2,55.4 50.2,31.8 61.3,48.9 72.3,54.6 83.4,53.3 94.4,56.7 105.4,53.2 116.5,54.9 127.5,50.6"/><polyline points="39.2,52.9 50.2,26.6 61.3,54.1 72.3,54.4 83.4,57.6 94.4,55.3 105.4,60.4 116.5,57.6 127.5,53.9"/><polyline points="39.2,51.8 50.2,31.9 61.3,59.2 72.3,55.5 83.4,59.4 94.4,51 105.4,53.1 116.5,55.7 127.5,54"/><polyline points="39.2,43.5 50.2,25.2 61.3,54.6 72.3,48.2 83.4,52.2 94.4,59.7 105.4,57.1 116.5,54.2 127.5,53.3"/><polyline points="39.2,54.2 50.2,26.4 61.3,46.4 72.3,57.1 83.4,60.1 94.4,52.7 105.4,57.8 116.5,58.8 127.5,54.8"/><polyline points="39.2,48.8 50.2,28.9 61.3,54.4 72.3,52.6 83.4,56.3 94.4,58.5 105.4,53.9 116.5,59.5 127.5,57.8"/><polyline points="39.2,51.5 50.2,25.2 61.3,54.2 72.3,61.8 83.4,59.7 94.4,56.4 105.4,53.8 116.5,63.2 127.5,48.5"/><polyline points="39.2,52.3 50.2,27.3 61.3,58.2 72.3,52 83.4,57.4 94.4,62.5 105.4,50.2 116.5,55.7 127.5,57.2"/><polyline points="39.2,47.7 50.2,27.6 61.3,46.1 72.3,54.7 83.4,51.2 94.4,57 105.4,52.6 116.5,57.5 127.5,54"/><polyline points="39.2,43.6 50.2,28.7 61.3,56.4 72.3,63.2 83.4,52.9 94.4,46 105.4,54 116.5,58.1 127.5,48.8"/><polyline points="39.2,61 50.2,35.3 61.3,52.1 72.3,54.6 83.4,57.4 94.4,50.4 105.4,61.6 116.5,53.2 127.5,54.7"/><polyline points="39.2,50 50.2,37.3 61.3,56.3 72.3,55.4 83.4,59 94.4,60.1 105.4,55 116.5,53.3 127.5,56.4"/><polyline points="39.2,51.3 50.2,27.3 61.3,60.1 72.3,56.5 83.4,53.7 94.4,60.4 105.4,51.2 116.5,57.1 127.5,52.2"/><polyline points="39.2,63.6 50.2,28.4 61.3,52.9 72.3,51 83.4,57 94.4,54.9 105.4,55.7 116.5,52.8 127.5,55.3"/><polyline points="39.2,54 50.2,29 61.3,55.7 72.3,39.3 83.4,60 94.4,56.9 105.4,59.7 116.5,58.8 127.5,55.4"/><polyline points="39.2,59.8 50.2,36.2 61.3,55.1 72.3,52.3 83.4,53.1 94.4,52.8 105.4,53.1 116.5,56.3 127.5,59.1"/><polyline points="39.2,40.3 50.2,25.2 61.3,53.9 72.3,51.6 83.4,59.2 94.4,60.6 105.4,52 116.5,51.6 127.5,57.3"/><polyline points="39.2,50.4 50.2,25.2 61.3,53 72.3,57.3 83.4,61.5 94.4,51.2 105.4,57.5 116.5,50.5 127.5,60.6"/><polyline points="39.2,46.2 50.2,28.4 61.3,52 72.3,29.1 83.4,52.7 94.4,60.2 105.4,60.5 116.5,59.9 127.5,57.7"/><polyline points="39.2,48.5 50.2,25.2 61.3,58.2 72.3,62.4 83.4,53.8 94.4,52.9 105.4,60.3 116.5,53.3 127.5,57.8"/><polyline points="39.2,48.2 50.2,25.7 61.3,58.3 72.3,57.3 83.4,60.5 94.4,63.9 105.4,54.4 116.5,59.4 127.5,52.5"/><polyline points="39.2,50 50.2,31.8 61.3,50.3 72.3,57.3 83.4,56.6 94.4,59.8 105.4,61.4 116.5,54.3 127.5,53.4"/><polyline points="39.2,54.9 50.2,25.2 61.3,55.1 72.3,52 83.4,57.5 94.4,56.3 105.4,47.8 116.5,38.6 127.5,57"/><polyline points="39.2,60.8 50.2,25.2 61.3,55.5 72.3,53.8 83.4,54.4 94.4,56.1 105.4,53.4 116.5,47.9 127.5,56"/><polyline points="39.2,53.9 50.2,26.9 61.3,49.2 72.3,50.3 83.4,53.6 94.4,55 105.4,55 116.5,57.1 127.5,54.8"/><polyline points="39.2,64.7 50.2,27.1 61.3,53.2 72.3,55 83.4,51.1 94.4,53.8 105.4,60 116.5,63.2 127.5,53.7"/><polyline points="39.2,53.2 50.2,35 61.3,46.6 72.3,55.8 83.4,58.9 94.4,54.3 105.4,58.2 116.5,61.2 127.5,56.1"/><polyline points="39.2,56.1 50.2,33 61.3,47.8 72.3,32.6 83.4,52 94.4,57 105.4,55.9 116.5,60.1 127.5,53"/><polyline points="39.2,45.7 50.2,25.2 61.3,49.1 72.3,53.5 83.4,51.1 94.4,57.5 105.4,57.6 116.5,52.4 127.5,53.1"/><polyline points="39.2,47.8 50.2,35.3 61.3,46 72.3,57.2 83.4,53.6 94.4,57 105.4,52.7 116.5,56.2 127.5,52.2"/><polyline points="39.2,57.2 50.2,36.6 61.3,54.9 72.3,51.9 83.4,56.7 94.4,50 105.4,54.6 116.5,53.9 127.5,53.8"/><polyline points="39.2,46.9 50.2,25.2 61.3,55 72.3,53.6 83.4,55.2 94.4,57.4 105.4,55.6 116.5,59.6 127.5,56"/><polyline points="39.2,52.4 50.2,35.8 61.3,53.9 72.3,51.9 83.4,52.6 94.4,59.9 105.4,56.2 116.5,53.8 127.5,54.9"/><polyline points="39.2,55.9 50.2,30.5 61.3,51 72.3,49.5 83.4,63.4 94.4,50.8 105.4,57.9 116.5,59 127.5,55.4"/><polyline points="39.2,64.7 50.2,27.3 61.3,55.4 72.3,49.7 83.4,52.1 94.4,58.8 105.4,59.7 116.5,57.3 127.5,38.4"/><polyline points="39.2,47.7 50.2,26.7 61.3,51.9 72.3,54.8 83.4,59 94.4,58.1 105.4,58.2 116.5,49.8 127.5,60.8"/><polyline points="39.2,54 50.2,28.9 61.3,51.9 72.3,56 83.4,57.1 94.4,54.3 105.4,56.7 116.5,53.8 127.5,57.8"/><polyline points="39.2,53.9 50.2,28 61.3,57.1 72.3,54.1 83.4,56.1 94.4,50.2 105.4,57 116.5,55.8 127.5,49.7"/><polyline points="39.2,46.4 50.2,28.9 61.3,48.1 72.3,51.7 83.4,53.3 94.4,58 105.4,53.6 116.5,54.4 127.5,51.1"/><polyline points="39.2,44.6 50.2,35.9 61.3,55.7 72.3,54.7 83.4,53.8 94.4,57.2 105.4,43.5 116.5,52.3 127.5,53.1"/><polyline points="39.2,55.6 50.2,33.2 61.3,53.8 72.3,48.8 83.4,58.7 94.4,50.1 105.4,59 116.5,50.2 127.5,57"/><polyline points="39.2,57 50.2,27 61.3,55.4 72.3,56.6 83.4,57.8 94.4,50.9 105.4,57.9 116.5,60 127.5,50.7"/><polyline points="39.2,58.3 50.2,26.7 61.3,41.5 72.3,50.4 83.4,41.7 94.4,40.3 105.4,55.4 116.5,56.2 127.5,62.5"/><polyline points="39.2,64 50.2,35.4 61.3,56.9 72.3,58.3 83.4,59.5 94.4,54.2 105.4,59.2 116.5,58.4 127.5,52.7"/><polyline points="39.2,58.6 50.2,28.8 61.3,56.6 72.3,60.2 83.4,54.2 94.4,58.1 105.4,56.4 116.5,52.3 127.5,52.7"/><polyline points="39.2,43.2 50.2,29.1 61.3,54.5 72.3,57.9 83.4,56 94.4,57 105.4,57.5 116.5,47.1 127.5,50.8"/><polyline points="39.2,45.7 50.2,32.1 61.3,50.8 72.3,53.6 83.4,60.3 94.4,54.7 105.4,60.5 116.5,50 127.5,56.8"/><polyline points="39.2,54.5 50.2,36.4 61.3,52.9 72.3,54.6 83.4,55.1 94.4,54.5 105.4,55.2 116.5,55.9 127.5,50.7"/><polyline points="39.2,56.5 50.2,33.1 61.3,54.7 72.3,54 83.4,58.9 94.4,55.2 105.4,55.3 116.5,55.7 127.5,50.8"/><polyline points="39.2,53.1 50.2,26 61.3,55 72.3,38.6 83.4,64.3 94.4,62.5 105.4,58.8 116.5,50.4 127.5,40.7"/><polyline points="39.2,55.2 50.2,34.5 61.3,46 72.3,61.5 83.4,57.5 94.4,56.5 105.4,53.8 116.5,59.9 127.5,56.5"/></g>
<polyline points="39.2,54.1 50.2,25.4 61.3,54.1 72.3,55.1 83.4,56.2 94.4,56.2 105.4,55.7 116.5,55.1 127.5,55.1" fill="none" stroke="#000" stroke-width="1.6" stroke-linejoin="round" stroke-linecap="round"/>
<g stroke="#333" stroke-width="0.95" fill="none"><path d="M39.2 20.1V73.2" /><path d="M35.7 73.2H39.2" /><path d="M35.7 62.6H39.2" /><path d="M35.7 52H39.2" /><path d="M35.7 41.3H39.2" /><path d="M35.7 30.7H39.2" /><path d="M35.7 20.1H39.2" /><path d="M39.2 73.2H127.5" /><path d="M39.2 73.2V77.8" /><path d="M50.2 73.2V77.8" /><path d="M61.3 73.2V77.8" /><path d="M72.3 73.2V77.8" /><path d="M83.4 73.2V77.8" /><path d="M94.4 73.2V77.8" /><path d="M105.4 73.2V77.8" /><path d="M116.5 73.2V77.8" /><path d="M127.5 73.2V77.8" /></g>
<text class="yl" transform="translate(31.8 19) rotate(-90) scale(1.14 1)">3</text>
<text class="yl" transform="translate(31.8 29.6) rotate(-90) scale(1.14 1)">2</text>
<text class="yl" transform="translate(31.8 40.2) rotate(-90) scale(1.14 1)">1</text>
<text class="yl" transform="translate(31.8 50.9) rotate(-90) scale(1.14 1)">0</text>
<text class="yl" transform="translate(31.8 71.2) rotate(-90) scale(1.14 1)">−2</text>
<text class="tt" x="43.6" y="13.5">C1 ,  306 metabolites</text>
</g>
<g>
<g fill="none" stroke="#B0CD42" stroke-width="0.85" stroke-linejoin="round"><polyline points="167.3,35.8 178.3,37.8 189.4,49.5 200.4,51.9 211.5,46.4 222.5,48.7 233.5,26.5 244.6,29.6 255.6,38.5"/><polyline points="167.3,49.5 178.3,50.4 189.4,54.4 200.4,43.9 211.5,45.4 222.5,42.3 233.5,49.5 244.6,32.5 255.6,47.1"/><polyline points="167.3,53.4 178.3,50.6 189.4,45.6 200.4,52.1 211.5,54.6 222.5,47.6 233.5,47.5 244.6,31.1 255.6,44.3"/><polyline points="167.3,55.2 178.3,53.3 189.4,51.9 200.4,58.7 211.5,54.7 222.5,48.6 233.5,47.5 244.6,29 255.6,51.4"/><polyline points="167.3,49.6 178.3,49 189.4,53.6 200.4,51.3 211.5,46.7 222.5,44.7 233.5,47.2 244.6,27.8 255.6,53.4"/><polyline points="167.3,52.9 178.3,48.8 189.4,44 200.4,49.8 211.5,47.4 222.5,49.2 233.5,55.8 244.6,24.3 255.6,51.2"/><polyline points="167.3,44.6 178.3,52.8 189.4,55.9 200.4,49.2 211.5,42.9 222.5,48.9 233.5,35.6 244.6,25.5 255.6,57.1"/><polyline points="167.3,37.9 178.3,49.4 189.4,43.4 200.4,52.6 211.5,54.7 222.5,54.7 233.5,45.4 244.6,34.4 255.6,51.7"/><polyline points="167.3,52.8 178.3,50.7 189.4,45.4 200.4,48.1 211.5,58.6 222.5,53 233.5,55.1 244.6,32.7 255.6,48.6"/><polyline points="167.3,46.9 178.3,50.6 189.4,51.6 200.4,52.5 211.5,47.6 222.5,52.3 233.5,51.5 244.6,35 255.6,47.5"/><polyline points="167.3,55.3 178.3,50.9 189.4,50.5 200.4,51.8 211.5,58.7 222.5,46.2 233.5,46.6 244.6,32.3 255.6,53.6"/><polyline points="167.3,50.6 178.3,40.9 189.4,44.5 200.4,47.1 211.5,43.5 222.5,44 233.5,49.3 244.6,33.1 255.6,52.3"/><polyline points="167.3,52.2 178.3,46.7 189.4,56.7 200.4,47 211.5,50.3 222.5,43.1 233.5,57.9 244.6,31.9 255.6,51.3"/><polyline points="167.3,51 178.3,48 189.4,51.3 200.4,40 211.5,48.4 222.5,43.7 233.5,66.7 244.6,30.6 255.6,46.9"/><polyline points="167.3,48.1 178.3,47 189.4,49 200.4,56.4 211.5,47.1 222.5,45 233.5,52.2 244.6,22.3 255.6,35.3"/><polyline points="167.3,55.7 178.3,47 189.4,54.4 200.4,55.8 211.5,34.1 222.5,50.4 233.5,53 244.6,27.8 255.6,58.6"/><polyline points="167.3,50.2 178.3,47.6 189.4,53.8 200.4,54.8 211.5,55.1 222.5,49.2 233.5,46.4 244.6,27.4 255.6,51.6"/><polyline points="167.3,36.3 178.3,45.3 189.4,48.9 200.4,53.9 211.5,51 222.5,53.4 233.5,47.2 244.6,26 255.6,45.3"/><polyline points="167.3,48.7 178.3,47 189.4,35.2 200.4,51.4 211.5,51.9 222.5,44.8 233.5,46.5 244.6,25.9 255.6,47.3"/><polyline points="167.3,50 178.3,40.3 189.4,51.1 200.4,50.3 211.5,54.4 222.5,46.9 233.5,48.3 244.6,29.7 255.6,44"/><polyline points="167.3,54.6 178.3,48.7 189.4,49.9 200.4,47.8 211.5,49.8 222.5,49.7 233.5,48.8 244.6,28.4 255.6,48.8"/><polyline points="167.3,53 178.3,48.5 189.4,46.4 200.4,49.5 211.5,50.3 222.5,46.2 233.5,49.1 244.6,37.6 255.6,52.7"/><polyline points="167.3,45.8 178.3,48.4 189.4,38.3 200.4,49.6 211.5,50.6 222.5,40 233.5,52.5 244.6,27.7 255.6,51.6"/><polyline points="167.3,47.8 178.3,52.7 189.4,49.6 200.4,39.3 211.5,47.8 222.5,53.7 233.5,45.8 244.6,27.2 255.6,48.8"/><polyline points="167.3,51.3 178.3,42.4 189.4,48.8 200.4,56.3 211.5,53.5 222.5,46.8 233.5,48.7 244.6,32.8 255.6,52.8"/><polyline points="167.3,52.9 178.3,50.3 189.4,48.9 200.4,43.2 211.5,46.4 222.5,43 233.5,46.7 244.6,29.5 255.6,51.9"/><polyline points="167.3,54.8 178.3,48.9 189.4,48.9 200.4,52.4 211.5,56.2 222.5,55.2 233.5,56.1 244.6,25.6 255.6,51.9"/><polyline points="167.3,46.7 178.3,46.5 189.4,34.8 200.4,55 211.5,49.7 222.5,38.6 233.5,48.2 244.6,25.7 255.6,43.4"/><polyline points="167.3,55.1 178.3,56.8 189.4,44.1 200.4,45.9 211.5,55.2 222.5,49.4 233.5,41.9 244.6,32.1 255.6,50.6"/><polyline points="167.3,49.8 178.3,47.3 189.4,50.5 200.4,46.7 211.5,51.1 222.5,50 233.5,55.8 244.6,31.2 255.6,49.1"/><polyline points="167.3,48 178.3,52.9 189.4,49 200.4,57.8 211.5,52.1 222.5,49 233.5,46.5 244.6,30.7 255.6,51.9"/><polyline points="167.3,56.9 178.3,49.9 189.4,49.9 200.4,42.1 211.5,54.6 222.5,50.3 233.5,51.4 244.6,28.6 255.6,49.9"/><polyline points="167.3,50.9 178.3,47 189.4,58.7 200.4,46.1 211.5,50 222.5,45.7 233.5,55.8 244.6,28.6 255.6,45.6"/><polyline points="167.3,41.6 178.3,49 189.4,45.2 200.4,46.7 211.5,50.3 222.5,54.9 233.5,45.8 244.6,30.8 255.6,48.9"/><polyline points="167.3,49.9 178.3,54.3 189.4,49.8 200.4,49.7 211.5,48.4 222.5,45.4 233.5,49.3 244.6,31.3 255.6,45.4"/><polyline points="167.3,50 178.3,48.6 189.4,32.2 200.4,46.3 211.5,49.1 222.5,49.3 233.5,42.4 244.6,26.2 255.6,45.5"/><polyline points="167.3,49.4 178.3,45.1 189.4,51 200.4,49.2 211.5,52.4 222.5,46.2 233.5,57.4 244.6,35.2 255.6,51"/><polyline points="167.3,50.8 178.3,50.4 189.4,36.2 200.4,53.7 211.5,49.2 222.5,42.5 233.5,51.4 244.6,32.8 255.6,52.8"/><polyline points="167.3,55.2 178.3,49.1 189.4,45.3 200.4,43.4 211.5,53.5 222.5,30.3 233.5,41.7 244.6,30.7 255.6,49.9"/><polyline points="167.3,51.1 178.3,46.4 189.4,44.1 200.4,47.5 211.5,45.5 222.5,28.6 233.5,41.1 244.6,28.5 255.6,48.2"/><polyline points="167.3,48.3 178.3,53.7 189.4,55.7 200.4,50.9 211.5,49.6 222.5,36.3 233.5,44.8 244.6,33.5 255.6,50.7"/><polyline points="167.3,46.8 178.3,45.6 189.4,49.6 200.4,48.8 211.5,51.7 222.5,45.7 233.5,50.7 244.6,28.2 255.6,49.6"/><polyline points="167.3,49.3 178.3,48.2 189.4,44.2 200.4,50.6 211.5,45.7 222.5,46.4 233.5,50.7 244.6,26.3 255.6,54.4"/><polyline points="167.3,29 178.3,52.6 189.4,44.4 200.4,46.5 211.5,48.8 222.5,52.9 233.5,44.7 244.6,34.9 255.6,53.5"/><polyline points="167.3,50.5 178.3,48.1 189.4,51.1 200.4,52.8 211.5,51.2 222.5,45.3 233.5,56.4 244.6,37.2 255.6,53"/><polyline points="167.3,48.6 178.3,41.4 189.4,54.3 200.4,53.3 211.5,49.9 222.5,47.1 233.5,47.8 244.6,25.3 255.6,47"/><polyline points="167.3,56.5 178.3,47.6 189.4,37 200.4,43.4 211.5,50.9 222.5,42.9 233.5,40.8 244.6,33.8 255.6,54"/><polyline points="167.3,50 178.3,47.9 189.4,44.2 200.4,46.4 211.5,49.2 222.5,47.3 233.5,52 244.6,29.8 255.6,50.4"/><polyline points="167.3,39.9 178.3,51.1 189.4,55.1 200.4,50.2 211.5,53.6 222.5,45.5 233.5,48.1 244.6,37.2 255.6,55.9"/><polyline points="167.3,47.2 178.3,47.8 189.4,50.6 200.4,51.4 211.5,42.7 222.5,47 233.5,48.7 244.6,31.5 255.6,51.9"/><polyline points="167.3,51.7 178.3,46.3 189.4,48.5 200.4,48.6 211.5,49.3 222.5,50.9 233.5,48.7 244.6,25.5 255.6,52.1"/><polyline points="167.3,58.4 178.3,51.4 189.4,56.8 200.4,53.2 211.5,41.6 222.5,49.2 233.5,52.2 244.6,36.2 255.6,43"/><polyline points="167.3,45.1 178.3,47.7 189.4,52.1 200.4,38.6 211.5,52.7 222.5,50.2 233.5,48 244.6,24.8 255.6,44"/><polyline points="167.3,52.5 178.3,58.2 189.4,53 200.4,41.3 211.5,48.5 222.5,49.8 233.5,49.8 244.6,33.2 255.6,37.3"/><polyline points="167.3,54.3 178.3,46.8 189.4,53.8 200.4,53.6 211.5,46.4 222.5,56.3 233.5,49.3 244.6,24.5 255.6,56.8"/><polyline points="167.3,44.6 178.3,42.3 189.4,46.5 200.4,48.6 211.5,51.4 222.5,51.7 233.5,46.5 244.6,29.1 255.6,45.8"/><polyline points="167.3,53.4 178.3,48.6 189.4,45.1 200.4,51.1 211.5,46.5 222.5,40.9 233.5,50.6 244.6,36.3 255.6,47.6"/><polyline points="167.3,55.5 178.3,54.6 189.4,45.8 200.4,49 211.5,47.5 222.5,50.8 233.5,46.8 244.6,36.2 255.6,47.2"/><polyline points="167.3,48.9 178.3,56.2 189.4,52.8 200.4,55.3 211.5,53.4 222.5,49.2 233.5,50.9 244.6,36.7 255.6,54.5"/><polyline points="167.3,55 178.3,47.8 189.4,52.9 200.4,56.3 211.5,47.1 222.5,48.8 233.5,47.8 244.6,28.2 255.6,53.2"/><polyline points="167.3,53 178.3,47.2 189.4,46.8 200.4,52.8 211.5,54.2 222.5,50.2 233.5,33.4 244.6,23.9 255.6,49.4"/><polyline points="167.3,50.1 178.3,43.4 189.4,44 200.4,35.4 211.5,50.1 222.5,48.2 233.5,53.2 244.6,31.8 255.6,51.4"/><polyline points="167.3,53.4 178.3,53.2 189.4,49.4 200.4,56.5 211.5,46.7 222.5,49.7 233.5,54 244.6,28.6 255.6,53.2"/><polyline points="167.3,50.7 178.3,48.2 189.4,53.8 200.4,48.7 211.5,45.3 222.5,34.4 233.5,46.4 244.6,31.4 255.6,48.1"/><polyline points="167.3,46.1 178.3,52.7 189.4,49.5 200.4,47.1 211.5,49.7 222.5,41.4 233.5,50.7 244.6,32.4 255.6,52.2"/><polyline points="167.3,49.3 178.3,48.4 189.4,53.2 200.4,48.7 211.5,44.3 222.5,49.9 233.5,44.3 244.6,32.6 255.6,29.3"/><polyline points="167.3,56.4 178.3,49.3 189.4,53.1 200.4,49 211.5,52.2 222.5,48.8 233.5,52 244.6,32.4 255.6,47.3"/><polyline points="167.3,56.8 178.3,44.5 189.4,48 200.4,57.1 211.5,37.9 222.5,50.2 233.5,50.1 244.6,32.8 255.6,52.5"/><polyline points="167.3,52.1 178.3,44.9 189.4,56 200.4,46.9 211.5,53.2 222.5,46.2 233.5,41.6 244.6,29.4 255.6,50.3"/><polyline points="167.3,55.2 178.3,43.2 189.4,47.3 200.4,46.7 211.5,63.4 222.5,41.5 233.5,41.1 244.6,35.9 255.6,55"/><polyline points="167.3,50.8 178.3,49.2 189.4,46.8 200.4,50.2 211.5,49.8 222.5,48 233.5,54.2 244.6,24.4 255.6,49.6"/><polyline points="167.3,51.5 178.3,49.7 189.4,48.8 200.4,48 211.5,57.5 222.5,47.4 233.5,53.1 244.6,32.1 255.6,57.3"/><polyline points="167.3,49.3 178.3,57.3 189.4,55.1 200.4,50.6 211.5,47.9 222.5,45 233.5,47.9 244.6,28.1 255.6,46.9"/><polyline points="167.3,50.5 178.3,50.9 189.4,46.3 200.4,49.8 211.5,49.8 222.5,45 233.5,51.3 244.6,29.5 255.6,55.2"/><polyline points="167.3,53.6 178.3,54.2 189.4,54.5 200.4,54.1 211.5,50.8 222.5,46.1 233.5,51.5 244.6,27.1 255.6,50.3"/><polyline points="167.3,52.7 178.3,50.1 189.4,41.6 200.4,43.6 211.5,51.9 222.5,54.2 233.5,54.9 244.6,26.1 255.6,48.2"/><polyline points="167.3,50.7 178.3,46.4 189.4,49.6 200.4,54.1 211.5,56.1 222.5,50.5 233.5,48.3 244.6,36.1 255.6,53.4"/><polyline points="167.3,41.6 178.3,49 189.4,46.7 200.4,58.7 211.5,54.3 222.5,53.1 233.5,51.2 244.6,26.1 255.6,52.5"/><polyline points="167.3,59.6 178.3,49.4 189.4,50 200.4,32.3 211.5,45.8 222.5,40.5 233.5,54 244.6,29.6 255.6,48.4"/><polyline points="167.3,36.8 178.3,41 189.4,45.4 200.4,53.3 211.5,48 222.5,45.7 233.5,51.7 244.6,29.2 255.6,52.1"/><polyline points="167.3,51.3 178.3,49.1 189.4,50 200.4,54.1 211.5,43.2 222.5,53.1 233.5,48.6 244.6,35.9 255.6,50.3"/><polyline points="167.3,51.8 178.3,50.5 189.4,43.4 200.4,52 211.5,50.3 222.5,50.9 233.5,47.4 244.6,26.1 255.6,55.5"/><polyline points="167.3,49.1 178.3,50.8 189.4,48.6 200.4,54.4 211.5,47 222.5,44.2 233.5,52.6 244.6,29.9 255.6,48"/><polyline points="167.3,47.9 178.3,54 189.4,49.9 200.4,49.1 211.5,54.8 222.5,51.1 233.5,44.5 244.6,26.5 255.6,51.3"/><polyline points="167.3,54.2 178.3,46.6 189.4,52.4 200.4,41.8 211.5,49 222.5,44 233.5,48.5 244.6,25.7 255.6,34.3"/><polyline points="167.3,49.3 178.3,50 189.4,49.5 200.4,51 211.5,50.4 222.5,50.1 233.5,50.7 244.6,28.1 255.6,53.3"/><polyline points="167.3,46.3 178.3,45.8 189.4,51.6 200.4,54.6 211.5,45.3 222.5,49.5 233.5,53.8 244.6,34.7 255.6,41.7"/><polyline points="167.3,47.1 178.3,48.4 189.4,62.3 200.4,52.4 211.5,44.6 222.5,48.6 233.5,40.8 244.6,26.8 255.6,47.7"/><polyline points="167.3,49.5 178.3,52.1 189.4,48.4 200.4,58 211.5,45.7 222.5,47.2 233.5,46.4 244.6,30.6 255.6,51.5"/><polyline points="167.3,54.9 178.3,48.1 189.4,54.9 200.4,51.5 211.5,49 222.5,53.5 233.5,49.9 244.6,29 255.6,51.8"/><polyline points="167.3,46.8 178.3,49.6 189.4,54.7 200.4,52.8 211.5,53.5 222.5,48.3 233.5,47 244.6,27.4 255.6,33.4"/><polyline points="167.3,48.2 178.3,44.8 189.4,46.1 200.4,56.1 211.5,49.7 222.5,48.8 233.5,43.9 244.6,26.8 255.6,47"/><polyline points="167.3,52.3 178.3,55.7 189.4,48.8 200.4,49.3 211.5,51.5 222.5,53.7 233.5,47.8 244.6,30.8 255.6,50.7"/><polyline points="167.3,46.4 178.3,43.6 189.4,45 200.4,57.1 211.5,46.5 222.5,43.7 233.5,52.1 244.6,29.8 255.6,48.8"/><polyline points="167.3,47.1 178.3,40.6 189.4,54.5 200.4,55.1 211.5,48.3 222.5,51.9 233.5,46.5 244.6,28.8 255.6,46.9"/><polyline points="167.3,46.8 178.3,48.2 189.4,46.6 200.4,54.1 211.5,54.6 222.5,47.3 233.5,53.5 244.6,32.4 255.6,52.9"/><polyline points="167.3,50.3 178.3,47.4 189.4,49.2 200.4,58.7 211.5,51.1 222.5,49.9 233.5,44.2 244.6,23.3 255.6,49"/><polyline points="167.3,46.8 178.3,49.9 189.4,47.8 200.4,55.1 211.5,47.7 222.5,30 233.5,47.6 244.6,31.4 255.6,57.3"/><polyline points="167.3,45.8 178.3,44.9 189.4,55.2 200.4,46.9 211.5,58.3 222.5,45.3 233.5,50.3 244.6,24.4 255.6,49.3"/><polyline points="167.3,50.3 178.3,46.3 189.4,46.5 200.4,45.9 211.5,46.2 222.5,45 233.5,51.5 244.6,32.8 255.6,49.5"/><polyline points="167.3,51.2 178.3,49.7 189.4,45.2 200.4,35.1 211.5,47.7 222.5,47.2 233.5,56.2 244.6,37.9 255.6,50"/><polyline points="167.3,45.5 178.3,51.4 189.4,51.5 200.4,54.7 211.5,48.2 222.5,49.5 233.5,49.4 244.6,32.3 255.6,39.2"/><polyline points="167.3,52.4 178.3,46.5 189.4,52 200.4,45.7 211.5,56.4 222.5,50.5 233.5,54.5 244.6,31.3 255.6,51.3"/><polyline points="167.3,54 178.3,48.3 189.4,36.3 200.4,53.7 211.5,55.9 222.5,51.5 233.5,37.4 244.6,27.8 255.6,54.8"/><polyline points="167.3,48.5 178.3,38.2 189.4,46.7 200.4,48.1 211.5,58 222.5,47.1 233.5,52.4 244.6,38.1 255.6,50"/><polyline points="167.3,53.9 178.3,49.2 189.4,50.9 200.4,55.3 211.5,48.3 222.5,53.5 233.5,48.6 244.6,31.6 255.6,45.9"/><polyline points="167.3,49 178.3,44.8 189.4,47 200.4,46.8 211.5,49.1 222.5,52 233.5,51.3 244.6,33.3 255.6,44.9"/><polyline points="167.3,49 178.3,33 189.4,45.9 200.4,52.1 211.5,50.1 222.5,54.1 233.5,47.3 244.6,29.7 255.6,43.4"/><polyline points="167.3,52.6 178.3,49.5 189.4,58.2 200.4,50.9 211.5,50.1 222.5,49.8 233.5,47.1 244.6,29 255.6,54.1"/><polyline points="167.3,50.3 178.3,50.5 189.4,50.4 200.4,53.7 211.5,49.3 222.5,51.4 233.5,51.9 244.6,32.9 255.6,50"/><polyline points="167.3,51.2 178.3,50.8 189.4,50.1 200.4,50 211.5,46.4 222.5,48.5 233.5,48 244.6,29.8 255.6,52.1"/><polyline points="167.3,53.9 178.3,53.1 189.4,51.4 200.4,49.1 211.5,52.4 222.5,48.6 233.5,49.1 244.6,31.8 255.6,50.8"/><polyline points="167.3,48.4 178.3,50.9 189.4,47.6 200.4,48.5 211.5,49.1 222.5,47.4 233.5,48.5 244.6,27.7 255.6,48.5"/><polyline points="167.3,50.1 178.3,42.4 189.4,48.1 200.4,54.6 211.5,50.5 222.5,47.8 233.5,47.5 244.6,32.8 255.6,50.5"/><polyline points="167.3,44.7 178.3,48.2 189.4,57.8 200.4,50.6 211.5,53.2 222.5,50.5 233.5,50.8 244.6,27.6 255.6,54.9"/><polyline points="167.3,45.6 178.3,49.3 189.4,52.5 200.4,49.1 211.5,49.1 222.5,46.3 233.5,47.4 244.6,31.5 255.6,52.4"/><polyline points="167.3,49.9 178.3,44 189.4,46.9 200.4,49.3 211.5,47.1 222.5,51.2 233.5,53.7 244.6,26.2 255.6,57"/><polyline points="167.3,44 178.3,49.7 189.4,47.7 200.4,53.1 211.5,52.5 222.5,46.1 233.5,44.6 244.6,33.4 255.6,51.7"/><polyline points="167.3,43.6 178.3,48 189.4,50.1 200.4,46.2 211.5,53.5 222.5,49.4 233.5,48.7 244.6,28.2 255.6,44.6"/><polyline points="167.3,57 178.3,45.2 189.4,51.9 200.4,53.1 211.5,54 222.5,40.6 233.5,54 244.6,27.8 255.6,48.3"/><polyline points="167.3,52.1 178.3,51.3 189.4,36.4 200.4,49.4 211.5,48.6 222.5,36.7 233.5,48.7 244.6,35.6 255.6,53.1"/><polyline points="167.3,49.1 178.3,46.3 189.4,48.1 200.4,53.3 211.5,52.3 222.5,41 233.5,55.5 244.6,34.5 255.6,46.2"/><polyline points="167.3,49.7 178.3,48.8 189.4,50.7 200.4,54.1 211.5,50.6 222.5,45.4 233.5,50.6 244.6,30.3 255.6,51.8"/><polyline points="167.3,55.7 178.3,51.5 189.4,42.7 200.4,40 211.5,44.6 222.5,50 233.5,48.4 244.6,27.7 255.6,58.7"/><polyline points="167.3,41.4 178.3,42 189.4,54.4 200.4,52.9 211.5,50.1 222.5,45.7 233.5,44.7 244.6,33.7 255.6,56.5"/><polyline points="167.3,54.6 178.3,36.7 189.4,45.2 200.4,56.6 211.5,47.1 222.5,49.2 233.5,33.8 244.6,32.3 255.6,47.2"/><polyline points="167.3,53 178.3,48.7 189.4,45.5 200.4,44.3 211.5,45.4 222.5,48.9 233.5,43.2 244.6,30.1 255.6,43.8"/><polyline points="167.3,50.9 178.3,50.3 189.4,47.1 200.4,49.8 211.5,52.2 222.5,47 233.5,49.7 244.6,30.6 255.6,45.5"/><polyline points="167.3,55.2 178.3,51.3 189.4,47.6 200.4,43.7 211.5,47.7 222.5,53 233.5,42.4 244.6,23.2 255.6,54.2"/><polyline points="167.3,47.5 178.3,62.6 189.4,50 200.4,53.4 211.5,44.9 222.5,50 233.5,46.9 244.6,22.3 255.6,50.6"/><polyline points="167.3,47.2 178.3,46.2 189.4,52 200.4,46.5 211.5,51.8 222.5,41.8 233.5,50.2 244.6,28.5 255.6,50.5"/><polyline points="167.3,55.8 178.3,52.3 189.4,52 200.4,47.9 211.5,52.9 222.5,30.6 233.5,49.4 244.6,29.3 255.6,47.1"/><polyline points="167.3,46.5 178.3,53.5 189.4,54.3 200.4,51.3 211.5,48.1 222.5,43.1 233.5,44.3 244.6,28 255.6,58.7"/><polyline points="167.3,49.9 178.3,53.2 189.4,51.1 200.4,58.7 211.5,50.1 222.5,46.9 233.5,49.5 244.6,29.7 255.6,40.9"/><polyline points="167.3,51.7 178.3,52 189.4,45.7 200.4,52.9 211.5,41.6 222.5,52.8 233.5,53.8 244.6,29.5 255.6,41.6"/><polyline points="167.3,51.6 178.3,45.1 189.4,57 200.4,49.2 211.5,49.3 222.5,50.2 233.5,43.6 244.6,35.9 255.6,46.9"/><polyline points="167.3,48.3 178.3,45.7 189.4,47 200.4,51.9 211.5,46.5 222.5,46.1 233.5,54.8 244.6,30.3 255.6,48.4"/><polyline points="167.3,52.2 178.3,52.1 189.4,51.7 200.4,47.5 211.5,43.4 222.5,46.3 233.5,44.6 244.6,24.2 255.6,45.7"/><polyline points="167.3,52.7 178.3,50.5 189.4,52.7 200.4,48.1 211.5,43.8 222.5,48.7 233.5,55.2 244.6,28.7 255.6,48.5"/><polyline points="167.3,48.6 178.3,49.2 189.4,53.3 200.4,50.3 211.5,45.7 222.5,51.4 233.5,46.2 244.6,26.3 255.6,43.5"/><polyline points="167.3,48.7 178.3,49.3 189.4,50.6 200.4,50.9 211.5,57.9 222.5,50.3 233.5,52.4 244.6,28.6 255.6,48.3"/><polyline points="167.3,45.8 178.3,53.3 189.4,45.8 200.4,47.2 211.5,52.1 222.5,43.2 233.5,45.9 244.6,26.1 255.6,49.1"/><polyline points="167.3,46.9 178.3,45.8 189.4,54.3 200.4,55.2 211.5,43.9 222.5,44.5 233.5,46.8 244.6,32.4 255.6,37.5"/><polyline points="167.3,47.6 178.3,48.1 189.4,49.3 200.4,52 211.5,45.6 222.5,45 233.5,53.3 244.6,31.8 255.6,51.9"/><polyline points="167.3,52.4 178.3,48.9 189.4,52.4 200.4,52.1 211.5,50.3 222.5,43 233.5,49.4 244.6,30.8 255.6,44"/><polyline points="167.3,55.2 178.3,40.5 189.4,55.1 200.4,49.4 211.5,50.2 222.5,47.4 233.5,50.6 244.6,24.5 255.6,42.8"/><polyline points="167.3,52.1 178.3,50.2 189.4,56.4 200.4,39.5 211.5,50.7 222.5,45.2 233.5,49.4 244.6,30.7 255.6,51.8"/><polyline points="167.3,51 178.3,43.7 189.4,47.1 200.4,44.1 211.5,44.4 222.5,48.2 233.5,50.6 244.6,32.3 255.6,48.2"/><polyline points="167.3,50.3 178.3,47.3 189.4,36.3 200.4,50.9 211.5,48 222.5,48.3 233.5,40.8 244.6,30.9 255.6,53.8"/><polyline points="167.3,41.8 178.3,37 189.4,46.8 200.4,46.6 211.5,51 222.5,29.8 233.5,47 244.6,30.4 255.6,46.2"/><polyline points="167.3,44.4 178.3,47 189.4,41.6 200.4,49.7 211.5,51.8 222.5,50.7 233.5,50.6 244.6,31.3 255.6,52.2"/><polyline points="167.3,51.9 178.3,46.3 189.4,54.4 200.4,54.7 211.5,49.9 222.5,48.9 233.5,52.2 244.6,30.4 255.6,51"/><polyline points="167.3,48.6 178.3,53.2 189.4,41.6 200.4,37.9 211.5,49.1 222.5,45.5 233.5,51.1 244.6,35 255.6,46.6"/><polyline points="167.3,44.1 178.3,46.6 189.4,37.5 200.4,51 211.5,51.3 222.5,51.9 233.5,46.5 244.6,27.3 255.6,47.7"/><polyline points="167.3,49.7 178.3,49 189.4,52.3 200.4,49 211.5,47.8 222.5,43.6 233.5,51.1 244.6,29.1 255.6,46.4"/><polyline points="167.3,60.3 178.3,45.5 189.4,45 200.4,47.4 211.5,53.4 222.5,41.6 233.5,50 244.6,26.7 255.6,46.6"/><polyline points="167.3,46.8 178.3,47.9 189.4,49.9 200.4,46.9 211.5,50.5 222.5,46.3 233.5,44 244.6,33.3 255.6,49.2"/><polyline points="167.3,44.1 178.3,47.2 189.4,46.9 200.4,52.4 211.5,45.8 222.5,47.8 233.5,30 244.6,28.9 255.6,51"/><polyline points="167.3,45 178.3,51.9 189.4,44.8 200.4,55.1 211.5,48.4 222.5,36.6 233.5,49.3 244.6,33.4 255.6,47.8"/><polyline points="167.3,50.9 178.3,54.6 189.4,46.6 200.4,42.8 211.5,56.4 222.5,44.2 233.5,54.9 244.6,29.8 255.6,54.1"/></g>
<polyline points="167.3,50.2 178.3,48.9 189.4,50.2 200.4,50.2 211.5,50.2 222.5,48 233.5,49.3 244.6,27.2 255.6,50.2" fill="none" stroke="#000" stroke-width="1.6" stroke-linejoin="round" stroke-linecap="round"/>
<g stroke="#333" stroke-width="0.95" fill="none"><path d="M167.3 20.1V73.2" /><path d="M163.8 73.2H167.3" /><path d="M163.8 64.4H167.3" /><path d="M163.8 55.5H167.3" /><path d="M163.8 46.7H167.3" /><path d="M163.8 37.8H167.3" /><path d="M163.8 29H167.3" /><path d="M163.8 20.1H167.3" /><path d="M167.3 73.2H255.6" /><path d="M167.3 73.2V77.8" /><path d="M178.3 73.2V77.8" /><path d="M189.4 73.2V77.8" /><path d="M200.4 73.2V77.8" /><path d="M211.5 73.2V77.8" /><path d="M222.5 73.2V77.8" /><path d="M233.5 73.2V77.8" /><path d="M244.6 73.2V77.8" /><path d="M255.6 73.2V77.8" /></g>
<text class="yl" transform="translate(159.9 19) rotate(-90) scale(1.14 1)">3</text>
<text class="yl" transform="translate(159.9 36.7) rotate(-90) scale(1.14 1)">1</text>
<text class="yl" transform="translate(159.9 53.5) rotate(-90) scale(1.14 1)">−1</text>
<text class="yl" transform="translate(159.9 71.2) rotate(-90) scale(1.14 1)">−3</text>
<text class="tt" x="169.7" y="13.5">C2 ,  160 metabolites</text>
</g>
<g>
<g fill="none" stroke="#89C47C" stroke-width="0.85" stroke-linejoin="round"><polyline points="295.7,52.4 306.7,47.9 317.8,50.8 328.8,43.5 339.9,49.2 350.9,23.4 361.9,53.4 373,48.5 384,52.6"/><polyline points="295.7,42.4 306.7,47.5 317.8,47.9 328.8,48.4 339.9,48 350.9,34.2 361.9,53.9 373,50.3 384,47"/><polyline points="295.7,45.5 306.7,47.1 317.8,49.1 328.8,47.2 339.9,45.7 350.9,26.6 361.9,46 373,44.2 384,49"/><polyline points="295.7,50.4 306.7,50.5 317.8,47.8 328.8,49.6 339.9,32.8 350.9,21.4 361.9,51 373,49.3 384,43.7"/><polyline points="295.7,51.3 306.7,49.4 317.8,44.9 328.8,51.6 339.9,48.3 350.9,30.6 361.9,50.5 373,41.1 384,49"/><polyline points="295.7,44.6 306.7,48.9 317.8,49.4 328.8,54 339.9,50.9 350.9,32.7 361.9,48.1 373,54.8 384,47.9"/><polyline points="295.7,45.3 306.7,46.6 317.8,51.3 328.8,65.5 339.9,53.3 350.9,31 361.9,52.3 373,47.3 384,30.5"/><polyline points="295.7,49.9 306.7,48.5 317.8,53.1 328.8,51.4 339.9,39.3 350.9,32.9 361.9,49.7 373,45.9 384,39.6"/><polyline points="295.7,52.9 306.7,46.3 317.8,46.5 328.8,48.3 339.9,51 350.9,22.2 361.9,53 373,48.5 384,47.1"/><polyline points="295.7,48.4 306.7,49.3 317.8,48.3 328.8,38.1 339.9,48.1 350.9,28.9 361.9,50 373,47.4 384,49.6"/><polyline points="295.7,44.1 306.7,38.4 317.8,49.7 328.8,53.1 339.9,48.3 350.9,25.4 361.9,47.4 373,47.2 384,50.1"/><polyline points="295.7,48.3 306.7,55.7 317.8,49 328.8,47.8 339.9,52.2 350.9,22.9 361.9,42.1 373,49.5 384,48.4"/><polyline points="295.7,52 306.7,45.2 317.8,54.4 328.8,38.8 339.9,48.3 350.9,28.3 361.9,50.5 373,48.2 384,49.1"/><polyline points="295.7,47.5 306.7,47.9 317.8,55.6 328.8,43.9 339.9,49.5 350.9,27.6 361.9,56.2 373,49.7 384,48.2"/><polyline points="295.7,46.8 306.7,51.6 317.8,41.5 328.8,46.4 339.9,45.9 350.9,28.4 361.9,50.1 373,41.3 384,48.3"/><polyline points="295.7,49.2 306.7,48 317.8,49.3 328.8,50.2 339.9,46.9 350.9,31.8 361.9,50.3 373,44.4 384,46.3"/><polyline points="295.7,53.4 306.7,49.5 317.8,50.3 328.8,44.6 339.9,51.5 350.9,28.5 361.9,48.5 373,51.9 384,52.4"/><polyline points="295.7,43.3 306.7,48.7 317.8,47.3 328.8,48 339.9,50.2 350.9,26 361.9,50.9 373,45.5 384,49"/><polyline points="295.7,53.2 306.7,48.7 317.8,48 328.8,50.1 339.9,50.1 350.9,21.4 361.9,44.7 373,50.8 384,48.2"/><polyline points="295.7,44.3 306.7,46.4 317.8,51.7 328.8,49.3 339.9,48.9 350.9,22.7 361.9,50.3 373,45.4 384,52.2"/><polyline points="295.7,48.7 306.7,43.2 317.8,50 328.8,38.4 339.9,46.8 350.9,31.8 361.9,50.9 373,45 384,49.9"/><polyline points="295.7,49.9 306.7,49.4 317.8,51.1 328.8,47.2 339.9,45.8 350.9,27.9 361.9,53.6 373,44.8 384,45.2"/><polyline points="295.7,38.7 306.7,47.5 317.8,47.4 328.8,51.3 339.9,53.1 350.9,30.9 361.9,46.3 373,40.6 384,57.3"/><polyline points="295.7,56.2 306.7,51.4 317.8,48.2 328.8,48.3 339.9,43.9 350.9,28.3 361.9,47.2 373,50.4 384,44.6"/><polyline points="295.7,49.7 306.7,53.8 317.8,47.2 328.8,52.5 339.9,49.7 350.9,23.5 361.9,52.4 373,44.8 384,51.6"/><polyline points="295.7,47.4 306.7,45.3 317.8,45.2 328.8,57.9 339.9,50.2 350.9,24.8 361.9,48.8 373,53.5 384,47.4"/><polyline points="295.7,56.2 306.7,50.9 317.8,52.9 328.8,51.1 339.9,46.7 350.9,34.3 361.9,49.4 373,49.4 384,46.2"/><polyline points="295.7,44.7 306.7,51.7 317.8,51.2 328.8,47.7 339.9,50.8 350.9,24.9 361.9,45.2 373,47 384,62.5"/><polyline points="295.7,48.6 306.7,52.5 317.8,49.3 328.8,52.9 339.9,48.9 350.9,26.9 361.9,47.9 373,47.7 384,50.5"/><polyline points="295.7,53.6 306.7,51.6 317.8,52.7 328.8,51.5 339.9,48.5 350.9,22.3 361.9,49 373,51.1 384,41"/><polyline points="295.7,49.6 306.7,46.2 317.8,49.8 328.8,47.5 339.9,51.6 350.9,29.6 361.9,50 373,50.6 384,47.3"/><polyline points="295.7,49.4 306.7,49.7 317.8,47.7 328.8,44.9 339.9,49.6 350.9,29.1 361.9,41.5 373,46.3 384,53.8"/><polyline points="295.7,52.1 306.7,50.2 317.8,46.7 328.8,48.9 339.9,46.7 350.9,28.6 361.9,48.3 373,49.7 384,51.6"/><polyline points="295.7,40.1 306.7,42 317.8,45.1 328.8,48.7 339.9,49.7 350.9,31.6 361.9,49.3 373,45.4 384,56.6"/><polyline points="295.7,48.3 306.7,47.2 317.8,46.2 328.8,48.9 339.9,54.1 350.9,28.8 361.9,44.5 373,46.3 384,49.7"/><polyline points="295.7,45.5 306.7,55.7 317.8,63.1 328.8,53.3 339.9,48.8 350.9,29 361.9,49.5 373,42.9 384,44.7"/><polyline points="295.7,49.7 306.7,50 317.8,59.2 328.8,49.8 339.9,49.7 350.9,26.8 361.9,50.8 373,45.9 384,49.9"/><polyline points="295.7,47.7 306.7,53.7 317.8,56.2 328.8,45.4 339.9,48.5 350.9,26.9 361.9,49.3 373,50.5 384,46.5"/><polyline points="295.7,47.7 306.7,47.3 317.8,51.4 328.8,51.3 339.9,49.9 350.9,32.9 361.9,49.5 373,51 384,41"/><polyline points="295.7,46.9 306.7,46 317.8,37.2 328.8,40.3 339.9,48.3 350.9,31.5 361.9,51.9 373,35 384,48.9"/><polyline points="295.7,52.2 306.7,45.5 317.8,55.6 328.8,57.5 339.9,52.1 350.9,28.2 361.9,53.4 373,38.9 384,45.2"/><polyline points="295.7,48.7 306.7,49.2 317.8,43.6 328.8,41.4 339.9,47.7 350.9,34.6 361.9,48.1 373,49 384,55.6"/><polyline points="295.7,53.5 306.7,43.6 317.8,47.1 328.8,51.5 339.9,50.2 350.9,28.2 361.9,51.2 373,48.5 384,48"/><polyline points="295.7,44.9 306.7,46.8 317.8,49 328.8,50.3 339.9,49.3 350.9,24.6 361.9,49.2 373,50.3 384,53"/><polyline points="295.7,41.5 306.7,47.1 317.8,52.1 328.8,50.7 339.9,45.5 350.9,21.4 361.9,53.5 373,49.7 384,55.4"/><polyline points="295.7,52 306.7,51.2 317.8,49.2 328.8,47.4 339.9,48.2 350.9,26.2 361.9,46.2 373,47.8 384,49"/><polyline points="295.7,50 306.7,50.2 317.8,47 328.8,49.7 339.9,51.5 350.9,23.2 361.9,46.4 373,48.9 384,48.3"/><polyline points="295.7,29.5 306.7,44.7 317.8,44.6 328.8,47.5 339.9,50.9 350.9,30.8 361.9,51.3 373,46.6 384,47.4"/><polyline points="295.7,47.8 306.7,49.5 317.8,41.1 328.8,46.5 339.9,50.6 350.9,30.4 361.9,51.3 373,45.9 384,46.6"/><polyline points="295.7,44.3 306.7,50.6 317.8,47.3 328.8,42.8 339.9,46.1 350.9,27.6 361.9,47.3 373,50 384,43.7"/><polyline points="295.7,50 306.7,48.9 317.8,50.4 328.8,47.2 339.9,46.9 350.9,21.4 361.9,52.4 373,45.2 384,50.6"/><polyline points="295.7,50.6 306.7,46.5 317.8,50.8 328.8,47 339.9,41.5 350.9,30.9 361.9,45.6 373,44.4 384,48.2"/><polyline points="295.7,47.9 306.7,48.5 317.8,46.2 328.8,33.9 339.9,43.5 350.9,31.4 361.9,38.8 373,49.2 384,47.1"/><polyline points="295.7,47.4 306.7,50.6 317.8,51.4 328.8,48.5 339.9,40.9 350.9,25.9 361.9,51.1 373,49.1 384,49.4"/><polyline points="295.7,49 306.7,44.1 317.8,46.1 328.8,50 339.9,53.2 350.9,22.9 361.9,41.3 373,51.6 384,44.8"/><polyline points="295.7,45.7 306.7,55.7 317.8,45.8 328.8,43.3 339.9,46.8 350.9,28.6 361.9,43.9 373,47.3 384,50.3"/><polyline points="295.7,51 306.7,51.4 317.8,45 328.8,51.4 339.9,45.6 350.9,24.5 361.9,48 373,41.9 384,50.6"/><polyline points="295.7,52.4 306.7,49 317.8,44.3 328.8,44.8 339.9,40.4 350.9,21.4 361.9,51.1 373,44.9 384,54.3"/><polyline points="295.7,47.3 306.7,48.5 317.8,48.4 328.8,47.1 339.9,39.5 350.9,21.4 361.9,48.8 373,50.2 384,34.8"/><polyline points="295.7,48.2 306.7,44.3 317.8,55 328.8,54.5 339.9,37.2 350.9,23.5 361.9,54.2 373,48.9 384,52.5"/><polyline points="295.7,45.5 306.7,45.9 317.8,51.3 328.8,47.2 339.9,43.7 350.9,30.1 361.9,50 373,49 384,53.4"/><polyline points="295.7,49.6 306.7,47.2 317.8,43.1 328.8,34.9 339.9,44.3 350.9,35.5 361.9,51.1 373,47.4 384,56.6"/><polyline points="295.7,53.8 306.7,52.2 317.8,46.2 328.8,46 339.9,46.9 350.9,21.4 361.9,50.8 373,48.5 384,48.9"/><polyline points="295.7,48.5 306.7,48.2 317.8,52.5 328.8,47.5 339.9,46.7 350.9,21.4 361.9,35.1 373,48.7 384,42"/><polyline points="295.7,44.8 306.7,44.2 317.8,62.2 328.8,38.8 339.9,48.2 350.9,34 361.9,50.1 373,52.2 384,47.6"/><polyline points="295.7,49.3 306.7,41.7 317.8,43.1 328.8,47.2 339.9,49.8 350.9,25.7 361.9,49.5 373,41.1 384,48.6"/><polyline points="295.7,48.3 306.7,51.2 317.8,51.1 328.8,29.6 339.9,49.5 350.9,21.4 361.9,47 373,43 384,42.1"/><polyline points="295.7,48.6 306.7,45.4 317.8,59.7 328.8,49.6 339.9,41.5 350.9,23.7 361.9,51.3 373,49.9 384,45.5"/><polyline points="295.7,54.4 306.7,43.9 317.8,53.8 328.8,45.1 339.9,47.9 350.9,30.4 361.9,50.3 373,47.7 384,50.5"/><polyline points="295.7,45.1 306.7,44.5 317.8,47.4 328.8,51.3 339.9,52.6 350.9,25.5 361.9,49.1 373,51.5 384,45.6"/><polyline points="295.7,33.4 306.7,51 317.8,42.6 328.8,49.1 339.9,47.9 350.9,26.5 361.9,50.7 373,46.2 384,38.8"/><polyline points="295.7,46.6 306.7,48.7 317.8,51.4 328.8,45.7 339.9,38.5 350.9,32.1 361.9,47.3 373,44.7 384,52.2"/><polyline points="295.7,52.4 306.7,43.5 317.8,52.7 328.8,44.6 339.9,47.5 350.9,23.6 361.9,30.2 373,47 384,49.8"/><polyline points="295.7,36.2 306.7,48 317.8,47.7 328.8,47 339.9,47.3 350.9,33.8 361.9,52 373,52.7 384,45.3"/><polyline points="295.7,48.9 306.7,48.7 317.8,37.5 328.8,49.8 339.9,52.6 350.9,35.7 361.9,48.1 373,45.2 384,48.9"/><polyline points="295.7,48.4 306.7,44.7 317.8,46 328.8,45.8 339.9,46.6 350.9,26.2 361.9,48.8 373,48.4 384,50.5"/><polyline points="295.7,48.3 306.7,49.7 317.8,51.4 328.8,49.3 339.9,51 350.9,28.9 361.9,49.1 373,45.5 384,53"/><polyline points="295.7,46.7 306.7,48.2 317.8,43.6 328.8,66.3 339.9,44.3 350.9,28.7 361.9,48.2 373,42.2 384,49"/><polyline points="295.7,53.2 306.7,45.6 317.8,46.7 328.8,55.7 339.9,50.3 350.9,25.9 361.9,41.5 373,45.1 384,48.8"/><polyline points="295.7,52.5 306.7,50.8 317.8,47.1 328.8,47.9 339.9,44.1 350.9,21.4 361.9,50.7 373,40.8 384,52.3"/><polyline points="295.7,50.2 306.7,50.5 317.8,52.5 328.8,56.2 339.9,42.7 350.9,34.5 361.9,41.5 373,44.1 384,47.1"/><polyline points="295.7,36.4 306.7,57.7 317.8,50 328.8,46.7 339.9,44.9 350.9,23.9 361.9,54.4 373,48.8 384,50"/><polyline points="295.7,56.2 306.7,51.1 317.8,47.2 328.8,48.1 339.9,51.1 350.9,23.7 361.9,31.2 373,40.6 384,42"/><polyline points="295.7,50.5 306.7,52.2 317.8,55.7 328.8,52.4 339.9,47.6 350.9,25.3 361.9,49 373,47.6 384,52.4"/><polyline points="295.7,48.3 306.7,43.4 317.8,34.8 328.8,47.4 339.9,48.7 350.9,34.5 361.9,48.7 373,44.6 384,50.1"/><polyline points="295.7,57.3 306.7,55.7 317.8,47.2 328.8,52.2 339.9,50.8 350.9,32.1 361.9,43.9 373,55 384,48.6"/><polyline points="295.7,54.7 306.7,55.7 317.8,44.2 328.8,38.3 339.9,48 350.9,36.4 361.9,46.1 373,43 384,52.4"/><polyline points="295.7,46.3 306.7,47.1 317.8,47.2 328.8,55.1 339.9,56.2 350.9,23 361.9,49.2 373,48.6 384,54.2"/><polyline points="295.7,45.7 306.7,49.2 317.8,35.8 328.8,48.2 339.9,54.5 350.9,29.1 361.9,51.1 373,34.9 384,47.1"/><polyline points="295.7,53.6 306.7,35.8 317.8,42.3 328.8,51.4 339.9,46 350.9,21.7 361.9,34.3 373,47.4 384,48.1"/><polyline points="295.7,49.8 306.7,48 317.8,41.5 328.8,51.6 339.9,49.1 350.9,26.3 361.9,46.9 373,55.1 384,48.1"/><polyline points="295.7,51.4 306.7,50.4 317.8,47.2 328.8,37.1 339.9,50.5 350.9,21.4 361.9,52.3 373,48.7 384,55.6"/><polyline points="295.7,48 306.7,47.7 317.8,52.2 328.8,50.6 339.9,47.9 350.9,21.8 361.9,43 373,47.4 384,45.1"/><polyline points="295.7,52.7 306.7,45.6 317.8,53.2 328.8,49.6 339.9,35.8 350.9,24.9 361.9,50.5 373,46.2 384,45.3"/><polyline points="295.7,48.2 306.7,49.5 317.8,47.7 328.8,50 339.9,50.2 350.9,21.4 361.9,48.5 373,44.3 384,38.4"/><polyline points="295.7,41.7 306.7,43.3 317.8,51 328.8,53 339.9,51.9 350.9,29.1 361.9,52.9 373,52.7 384,53.7"/><polyline points="295.7,47.5 306.7,48.5 317.8,48.9 328.8,49.8 339.9,45.3 350.9,32.6 361.9,50.6 373,51.6 384,54.4"/><polyline points="295.7,53.1 306.7,43.5 317.8,51.5 328.8,52.6 339.9,47.5 350.9,32 361.9,44.8 373,33.5 384,50"/><polyline points="295.7,44.9 306.7,50 317.8,52 328.8,45.3 339.9,44.4 350.9,24.8 361.9,52.6 373,43.8 384,38.6"/><polyline points="295.7,47 306.7,49.6 317.8,48 328.8,49.1 339.9,45.3 350.9,31.5 361.9,53 373,53.6 384,50.1"/><polyline points="295.7,44.1 306.7,42.6 317.8,46.4 328.8,35.6 339.9,55 350.9,35 361.9,48.5 373,49.2 384,53.1"/><polyline points="295.7,47.4 306.7,43.9 317.8,45.1 328.8,47.1 339.9,46.6 350.9,25.2 361.9,46.7 373,42.5 384,45.1"/><polyline points="295.7,47.3 306.7,42.9 317.8,48.7 328.8,55.1 339.9,52.1 350.9,29.3 361.9,48.9 373,46.2 384,48.7"/><polyline points="295.7,49.8 306.7,35.3 317.8,61 328.8,49.3 339.9,49.7 350.9,21.4 361.9,53.2 373,45.5 384,49"/><polyline points="295.7,49.4 306.7,51.2 317.8,51.9 328.8,48.9 339.9,46.3 350.9,22.5 361.9,37.9 373,44.3 384,50.6"/><polyline points="295.7,42.4 306.7,46.6 317.8,49.9 328.8,53 339.9,45 350.9,21.8 361.9,52.1 373,45.2 384,54.1"/><polyline points="295.7,46.8 306.7,54.6 317.8,49.3 328.8,49 339.9,49.5 350.9,32.8 361.9,48.7 373,47.1 384,42"/><polyline points="295.7,53.1 306.7,51.2 317.8,41.6 328.8,50.6 339.9,44.9 350.9,21.4 361.9,47.8 373,51.8 384,46.1"/><polyline points="295.7,47.1 306.7,42.5 317.8,46.5 328.8,53.6 339.9,33.3 350.9,26.9 361.9,44.5 373,49.1 384,48.3"/><polyline points="295.7,42.9 306.7,46.7 317.8,44.7 328.8,51.7 339.9,49.4 350.9,25.6 361.9,53.6 373,36 384,50.5"/><polyline points="295.7,41.5 306.7,49.5 317.8,50.1 328.8,54.9 339.9,49.8 350.9,35 361.9,47.4 373,54.4 384,54.6"/><polyline points="295.7,48.9 306.7,50.7 317.8,45.2 328.8,49.3 339.9,46.2 350.9,21.4 361.9,51.1 373,44.6 384,45.1"/><polyline points="295.7,39.4 306.7,52.4 317.8,50.3 328.8,49.7 339.9,48.1 350.9,21.4 361.9,53.5 373,43.3 384,47.9"/><polyline points="295.7,58.8 306.7,47.4 317.8,43.8 328.8,50.1 339.9,46.9 350.9,21.4 361.9,45.9 373,50 384,47.4"/><polyline points="295.7,45.8 306.7,45.2 317.8,46.6 328.8,46.5 339.9,47.5 350.9,23.6 361.9,42.6 373,35.2 384,42"/></g>
<polyline points="295.7,45.8 306.7,45.3 317.8,45.8 328.8,45.8 339.9,45.8 350.9,21.9 361.9,45.8 373,44.9 384,46.2" fill="none" stroke="#000" stroke-width="1.6" stroke-linejoin="round" stroke-linecap="round"/>
<g stroke="#333" stroke-width="0.95" fill="none"><path d="M295.7 20.1V73.2" /><path d="M292.2 73.2H295.7" /><path d="M292.2 64.4H295.7" /><path d="M292.2 55.5H295.7" /><path d="M292.2 46.7H295.7" /><path d="M292.2 37.8H295.7" /><path d="M292.2 29H295.7" /><path d="M292.2 20.1H295.7" /><path d="M295.7 73.2H384" /><path d="M295.7 73.2V77.8" /><path d="M306.7 73.2V77.8" /><path d="M317.8 73.2V77.8" /><path d="M328.8 73.2V77.8" /><path d="M339.9 73.2V77.8" /><path d="M350.9 73.2V77.8" /><path d="M361.9 73.2V77.8" /><path d="M373 73.2V77.8" /><path d="M384 73.2V77.8" /></g>
<text class="yl" transform="translate(288.3 19) rotate(-90) scale(1.14 1)">3</text>
<text class="yl" transform="translate(288.3 36.7) rotate(-90) scale(1.14 1)">1</text>
<text class="yl" transform="translate(288.3 53.5) rotate(-90) scale(1.14 1)">−1</text>
<text class="yl" transform="translate(288.3 71.2) rotate(-90) scale(1.14 1)">−3</text>
<text class="tt" x="301.7" y="13.5">C3,  115 metabolites</text>
</g>
<g>
<g fill="none" stroke="#CB99CC" stroke-width="0.85" stroke-linejoin="round"><polyline points="39.2,132.3 50.2,131.7 61.3,132.4 72.3,108.8 83.4,139.9 94.4,121.7 105.4,139.3 116.5,136.7 127.5,136.2"/><polyline points="39.2,141.5 50.2,133.7 61.3,127.1 72.3,105.3 83.4,132.3 94.4,122.2 105.4,130.7 116.5,136.3 127.5,135.9"/><polyline points="39.2,131.7 50.2,133.1 61.3,133.8 72.3,113 83.4,129.8 94.4,141.3 105.4,143.3 116.5,129.8 127.5,136.4"/><polyline points="39.2,133.6 50.2,127.7 61.3,130.9 72.3,108.2 83.4,138.7 94.4,129.4 105.4,135.4 116.5,127.7 127.5,131.5"/><polyline points="39.2,141 50.2,134.6 61.3,133.5 72.3,104.2 83.4,137.5 94.4,134.4 105.4,133.6 116.5,130.3 127.5,140"/><polyline points="39.2,136.5 50.2,133.3 61.3,120.2 72.3,110.8 83.4,138.1 94.4,133.8 105.4,139.7 116.5,134.1 127.5,132.8"/><polyline points="39.2,135.5 50.2,130.2 61.3,135.1 72.3,110.7 83.4,137.5 94.4,135.5 105.4,137.7 116.5,131.2 127.5,135.4"/><polyline points="39.2,134.1 50.2,133.1 61.3,130.6 72.3,111.2 83.4,132.7 94.4,128.1 105.4,138.7 116.5,140.3 127.5,132.1"/><polyline points="39.2,133 50.2,134.1 61.3,140.9 72.3,109.9 83.4,135.9 94.4,136.8 105.4,131.9 116.5,133.5 127.5,139.6"/><polyline points="39.2,135.3 50.2,133 61.3,138.3 72.3,110.5 83.4,135.4 94.4,141 105.4,133.3 116.5,130.3 127.5,139.9"/><polyline points="39.2,133.9 50.2,125.2 61.3,132 72.3,111.4 83.4,142.7 94.4,134.4 105.4,138.3 116.5,130.7 127.5,136.1"/><polyline points="39.2,130.9 50.2,133.7 61.3,136.8 72.3,109.8 83.4,134.3 94.4,134.1 105.4,139.2 116.5,133.9 127.5,136.5"/><polyline points="39.2,136.3 50.2,133.2 61.3,139.2 72.3,113.7 83.4,132.6 94.4,136.7 105.4,136.2 116.5,131.5 127.5,136.6"/><polyline points="39.2,135.2 50.2,126.6 61.3,134 72.3,110 83.4,131.2 94.4,132.1 105.4,137 116.5,135.4 127.5,134.1"/><polyline points="39.2,130.4 50.2,132 61.3,133.2 72.3,113.2 83.4,134.1 94.4,135.1 105.4,139.2 116.5,132 127.5,137.4"/><polyline points="39.2,131.5 50.2,130.7 61.3,138 72.3,116.2 83.4,141.7 94.4,140.3 105.4,132.7 116.5,134.7 127.5,136.2"/><polyline points="39.2,136.3 50.2,133.8 61.3,135.6 72.3,109.5 83.4,130.9 94.4,137.6 105.4,134.3 116.5,127.7 127.5,134.4"/><polyline points="39.2,132.1 50.2,137.4 61.3,135.8 72.3,109.6 83.4,137.7 94.4,132.5 105.4,136.9 116.5,136.4 127.5,132.2"/><polyline points="39.2,134.8 50.2,139.6 61.3,130.5 72.3,106.7 83.4,134.7 94.4,138.1 105.4,136.6 116.5,133.6 127.5,137.8"/><polyline points="39.2,140.1 50.2,137.7 61.3,133.2 72.3,113.2 83.4,131.3 94.4,135.6 105.4,137.5 116.5,130.2 127.5,136.9"/><polyline points="39.2,119.4 50.2,130.7 61.3,137 72.3,110 83.4,133.2 94.4,136.3 105.4,130.8 116.5,136.8 127.5,135.1"/><polyline points="39.2,132.6 50.2,129.8 61.3,135.8 72.3,110.7 83.4,134.9 94.4,134.6 105.4,133 116.5,138.4 127.5,130.5"/><polyline points="39.2,138 50.2,126.4 61.3,134.2 72.3,113.6 83.4,134.4 94.4,137.5 105.4,136.4 116.5,130.8 127.5,136"/><polyline points="39.2,136.8 50.2,129.8 61.3,132.2 72.3,109.4 83.4,140.8 94.4,134.5 105.4,135.5 116.5,137 127.5,135"/><polyline points="39.2,136.4 50.2,133.7 61.3,141.3 72.3,116.3 83.4,133.9 94.4,134.9 105.4,139.2 116.5,133.1 127.5,130.7"/><polyline points="39.2,135.5 50.2,132.8 61.3,135.3 72.3,104.2 83.4,131.1 94.4,138.8 105.4,139.6 116.5,133.2 127.5,134.6"/><polyline points="39.2,130.1 50.2,133.2 61.3,133.8 72.3,110.1 83.4,130.8 94.4,138.9 105.4,132.3 116.5,130.1 127.5,136.6"/><polyline points="39.2,125.5 50.2,133.4 61.3,138.5 72.3,109 83.4,133.8 94.4,138 105.4,127.8 116.5,135.7 127.5,134.2"/><polyline points="39.2,134.5 50.2,136.7 61.3,132.3 72.3,113 83.4,130 94.4,138.1 105.4,139.4 116.5,129 127.5,139.4"/><polyline points="39.2,135.4 50.2,131 61.3,139.9 72.3,108.5 83.4,136.5 94.4,132.4 105.4,133.2 116.5,134 127.5,135.4"/><polyline points="39.2,134.9 50.2,129.6 61.3,137.5 72.3,116 83.4,138.9 94.4,130.7 105.4,135 116.5,133.6 127.5,140.8"/><polyline points="39.2,131.2 50.2,133.2 61.3,136.1 72.3,116.1 83.4,135 94.4,136.1 105.4,134.1 116.5,132.5 127.5,132.1"/><polyline points="39.2,133.1 50.2,133.7 61.3,127.7 72.3,109.1 83.4,126 94.4,136.3 105.4,131.1 116.5,140.7 127.5,138.3"/><polyline points="39.2,136.4 50.2,134.8 61.3,136.1 72.3,111.8 83.4,133.5 94.4,136.8 105.4,138.3 116.5,137.6 127.5,131.1"/><polyline points="39.2,141.6 50.2,135.5 61.3,136.2 72.3,115.2 83.4,135.1 94.4,135.6 105.4,135.4 116.5,130.2 127.5,140.8"/><polyline points="39.2,137.5 50.2,133.8 61.3,132 72.3,104.7 83.4,135 94.4,137.8 105.4,136.8 116.5,139.2 127.5,135.7"/><polyline points="39.2,135.9 50.2,130.3 61.3,132.5 72.3,106.3 83.4,135.9 94.4,133.7 105.4,138.2 116.5,138.1 127.5,136.7"/><polyline points="39.2,144.8 50.2,131.9 61.3,132.8 72.3,105.4 83.4,139.4 94.4,117.4 105.4,137.4 116.5,137.9 127.5,135.6"/><polyline points="39.2,137.1 50.2,117.7 61.3,129.7 72.3,107.6 83.4,142.7 94.4,133.9 105.4,131.9 116.5,134 127.5,120.2"/><polyline points="39.2,139.7 50.2,129.6 61.3,135.6 72.3,112.1 83.4,135 94.4,137 105.4,138.2 116.5,128.1 127.5,135.3"/><polyline points="39.2,131.3 50.2,135 61.3,130 72.3,108.4 83.4,131.8 94.4,135.5 105.4,132.1 116.5,131 127.5,133"/><polyline points="39.2,139 50.2,130.4 61.3,133.6 72.3,109.3 83.4,136 94.4,134.8 105.4,132.4 116.5,133.2 127.5,136.6"/><polyline points="39.2,134.4 50.2,131.6 61.3,136.7 72.3,106.3 83.4,136.3 94.4,137.4 105.4,138.5 116.5,135.1 127.5,135.8"/><polyline points="39.2,128.2 50.2,130.5 61.3,134.8 72.3,114.8 83.4,133.9 94.4,135.5 105.4,138.1 116.5,139.5 127.5,141.3"/><polyline points="39.2,135.8 50.2,132.2 61.3,130.8 72.3,109.5 83.4,135.6 94.4,137.4 105.4,141.2 116.5,135.1 127.5,128.1"/><polyline points="39.2,128.9 50.2,133.9 61.3,137.8 72.3,108.6 83.4,130.8 94.4,133 105.4,139.8 116.5,133.8 127.5,138.2"/><polyline points="39.2,121.5 50.2,130.7 61.3,138.6 72.3,109.4 83.4,135.1 94.4,140.8 105.4,132.3 116.5,133.1 127.5,134.6"/><polyline points="39.2,131.3 50.2,129.1 61.3,137.3 72.3,112.4 83.4,128 94.4,132.8 105.4,139.1 116.5,136.3 127.5,134.5"/><polyline points="39.2,134.4 50.2,126.5 61.3,133.5 72.3,108.7 83.4,135.4 94.4,136.3 105.4,118.9 116.5,135 127.5,134.6"/><polyline points="39.2,134.8 50.2,129.4 61.3,136 72.3,110.2 83.4,130.9 94.4,131.3 105.4,132.1 116.5,133.7 127.5,133.3"/><polyline points="39.2,137.2 50.2,136.9 61.3,137.1 72.3,104.2 83.4,136.8 94.4,134.7 105.4,136.8 116.5,133.6 127.5,137.2"/><polyline points="39.2,134.5 50.2,134.1 61.3,135.6 72.3,105.2 83.4,139.8 94.4,132.2 105.4,131.2 116.5,136.8 127.5,122.7"/><polyline points="39.2,136.5 50.2,134 61.3,139.5 72.3,108.4 83.4,130.9 94.4,140.8 105.4,134.6 116.5,133.4 127.5,135.9"/><polyline points="39.2,133.7 50.2,133.1 61.3,134.3 72.3,107.3 83.4,134.2 94.4,136.6 105.4,138.7 116.5,137.4 127.5,136.8"/><polyline points="39.2,116.3 50.2,132.6 61.3,136 72.3,106.9 83.4,120.8 94.4,139.8 105.4,139.5 116.5,134 127.5,139.5"/><polyline points="39.2,135.9 50.2,132.5 61.3,132.6 72.3,107 83.4,138.7 94.4,122.7 105.4,131.5 116.5,131.3 127.5,128.1"/><polyline points="39.2,133.7 50.2,128.9 61.3,133.4 72.3,104.2 83.4,135 94.4,136.1 105.4,134.4 116.5,138.4 127.5,136.4"/><polyline points="39.2,129.3 50.2,134.2 61.3,133.2 72.3,104.2 83.4,131.8 94.4,136.9 105.4,135.2 116.5,128.1 127.5,142.1"/><polyline points="39.2,122 50.2,131.1 61.3,134.9 72.3,113.6 83.4,134.4 94.4,138.8 105.4,138.6 116.5,135.2 127.5,136.3"/><polyline points="39.2,135 50.2,131.8 61.3,127.1 72.3,112.4 83.4,137 94.4,134.2 105.4,137.4 116.5,137.4 127.5,129.8"/><polyline points="39.2,134.3 50.2,137.7 61.3,134 72.3,109.5 83.4,141.2 94.4,118.2 105.4,136.1 116.5,134.8 127.5,138.4"/><polyline points="39.2,135.7 50.2,130.2 61.3,134.5 72.3,105 83.4,128.1 94.4,140.4 105.4,139 116.5,138.2 127.5,132.8"/><polyline points="39.2,136.5 50.2,134.3 61.3,138.2 72.3,109.7 83.4,137 94.4,135.4 105.4,133.4 116.5,133.2 127.5,136.5"/><polyline points="39.2,130.6 50.2,128.8 61.3,131.5 72.3,113.2 83.4,142.7 94.4,139.5 105.4,134.8 116.5,135.4 127.5,136"/><polyline points="39.2,136.4 50.2,131.6 61.3,135.4 72.3,113.7 83.4,133.4 94.4,136.6 105.4,129 116.5,136.3 127.5,137.1"/><polyline points="39.2,134.1 50.2,136.5 61.3,135.3 72.3,112.3 83.4,140.7 94.4,140.4 105.4,133.3 116.5,139.6 127.5,138.9"/><polyline points="39.2,136.4 50.2,129.1 61.3,136.2 72.3,111 83.4,138.9 94.4,134.3 105.4,135 116.5,137.9 127.5,132.7"/><polyline points="39.2,131 50.2,130.5 61.3,132.5 72.3,104.2 83.4,136.7 94.4,134.1 105.4,133.1 116.5,135.8 127.5,138"/><polyline points="39.2,131.9 50.2,131.5 61.3,134.2 72.3,111.3 83.4,136.1 94.4,132.4 105.4,142 116.5,135.8 127.5,135.2"/><polyline points="39.2,137.9 50.2,126.5 61.3,138.2 72.3,108 83.4,136.3 94.4,140.2 105.4,143.3 116.5,139.5 127.5,131.9"/><polyline points="39.2,133.9 50.2,129 61.3,128.4 72.3,117.6 83.4,132.8 94.4,136.4 105.4,136.8 116.5,141.7 127.5,137"/><polyline points="39.2,137.9 50.2,133.6 61.3,138.5 72.3,111.2 83.4,137 94.4,139.4 105.4,138.1 116.5,129.2 127.5,140.5"/><polyline points="39.2,129.4 50.2,133.1 61.3,130.3 72.3,106.9 83.4,132.8 94.4,142.7 105.4,131.6 116.5,127.1 127.5,138.8"/><polyline points="39.2,132.3 50.2,128.2 61.3,131.6 72.3,106.6 83.4,139.5 94.4,134.9 105.4,137.5 116.5,133.7 127.5,133.1"/><polyline points="39.2,136.7 50.2,133.5 61.3,140.3 72.3,113.2 83.4,134.4 94.4,136.3 105.4,136 116.5,128.8 127.5,140.1"/><polyline points="39.2,134.8 50.2,137.2 61.3,127.3 72.3,113.6 83.4,133.3 94.4,137.7 105.4,139.3 116.5,131.6 127.5,142.4"/><polyline points="39.2,133.7 50.2,126 61.3,134.1 72.3,108.4 83.4,140 94.4,132.5 105.4,133.2 116.5,136.1 127.5,136.4"/><polyline points="39.2,137.6 50.2,129.5 61.3,140.8 72.3,106.6 83.4,137.4 94.4,138 105.4,137 116.5,136.6 127.5,139.3"/><polyline points="39.2,127.6 50.2,130.5 61.3,134.5 72.3,107.4 83.4,141.2 94.4,117.4 105.4,135 116.5,130.9 127.5,133.9"/><polyline points="39.2,134.8 50.2,133.5 61.3,134.3 72.3,105.2 83.4,133.5 94.4,136.8 105.4,137.5 116.5,134.3 127.5,129.9"/><polyline points="39.2,133.9 50.2,138.5 61.3,141.7 72.3,112.4 83.4,129.6 94.4,132 105.4,129.3 116.5,132 127.5,139.1"/><polyline points="39.2,137.5 50.2,136.3 61.3,132.1 72.3,107.5 83.4,138.4 94.4,129.7 105.4,136.4 116.5,132.9 127.5,139.9"/><polyline points="39.2,136.9 50.2,132.3 61.3,130.1 72.3,107.6 83.4,138.8 94.4,137.9 105.4,138.2 116.5,148 127.5,142.7"/><polyline points="39.2,133.2 50.2,128.6 61.3,134.4 72.3,109 83.4,133.6 94.4,134 105.4,133.7 116.5,129.9 127.5,132.6"/><polyline points="39.2,138 50.2,130.5 61.3,134.7 72.3,106.5 83.4,143.6 94.4,139.7 105.4,119.6 116.5,128.9 127.5,135.1"/><polyline points="39.2,136.3 50.2,132.3 61.3,134.2 72.3,106.7 83.4,142.4 94.4,132.5 105.4,140.5 116.5,134.3 127.5,138.1"/><polyline points="39.2,134.7 50.2,126.8 61.3,139.5 72.3,104.2 83.4,134.5 94.4,135.6 105.4,139 116.5,138.9 127.5,140.4"/><polyline points="39.2,127 50.2,135.1 61.3,133.3 72.3,104.2 83.4,137.8 94.4,133.6 105.4,130.1 116.5,132.4 127.5,134"/><polyline points="39.2,134.5 50.2,127.5 61.3,132.7 72.3,105.8 83.4,136.7 94.4,125.2 105.4,134 116.5,138.1 127.5,139.8"/></g>
<polyline points="39.2,134.9 50.2,132.3 61.3,134.4 72.3,106.9 83.4,135.4 94.4,135.4 105.4,136 116.5,134.4 127.5,135.4" fill="none" stroke="#000" stroke-width="1.6" stroke-linejoin="round" stroke-linecap="round"/>
<g stroke="#333" stroke-width="0.95" fill="none"><path d="M39.2 100V152.9" /><path d="M35.7 152.9H39.2" /><path d="M35.7 142.3H39.2" /><path d="M35.7 131.7H39.2" /><path d="M35.7 121.2H39.2" /><path d="M35.7 110.6H39.2" /><path d="M35.7 100H39.2" /><path d="M39.2 152.9H127.5" /><path d="M39.2 152.9V157.5" /><path d="M50.2 152.9V157.5" /><path d="M61.3 152.9V157.5" /><path d="M72.3 152.9V157.5" /><path d="M83.4 152.9V157.5" /><path d="M94.4 152.9V157.5" /><path d="M105.4 152.9V157.5" /><path d="M116.5 152.9V157.5" /><path d="M127.5 152.9V157.5" /></g>
<text class="yl" transform="translate(31.8 98.9) rotate(-90) scale(1.14 1)">3</text>
<text class="yl" transform="translate(31.8 109.5) rotate(-90) scale(1.14 1)">2</text>
<text class="yl" transform="translate(31.8 120.1) rotate(-90) scale(1.14 1)">1</text>
<text class="yl" transform="translate(31.8 130.6) rotate(-90) scale(1.14 1)">0</text>
<text class="yl" transform="translate(31.8 150.8) rotate(-90) scale(1.14 1)">−2</text>
<text class="tt" x="43.6" y="93.9">C4,  89 metabolites</text>
</g>
<g>
<g fill="none" stroke="#7273BE" stroke-width="0.85" stroke-linejoin="round"><polyline points="167.3,123.6 178.3,132.9 189.4,137.3 200.4,135.8 211.5,107.7 222.5,129.5 233.5,134.9 244.6,134.2 255.6,148.1"/><polyline points="167.3,137.1 178.3,138.9 189.4,129.2 200.4,138.5 211.5,107.2 222.5,139.8 233.5,142.2 244.6,143.3 255.6,138.2"/><polyline points="167.3,111.5 178.3,119.8 189.4,137.5 200.4,133.3 211.5,104.3 222.5,133.4 233.5,128.9 244.6,129.8 255.6,128.1"/><polyline points="167.3,140.7 178.3,134 189.4,135.9 200.4,118.8 211.5,102.4 222.5,132.3 233.5,138.6 244.6,132.3 255.6,136.9"/><polyline points="167.3,129.9 178.3,130.5 189.4,137.7 200.4,136.7 211.5,108.7 222.5,128.9 233.5,132.9 244.6,135.4 255.6,133.4"/><polyline points="167.3,132 178.3,135.1 189.4,138.8 200.4,130.6 211.5,107.8 222.5,131.6 233.5,138.3 244.6,125.1 255.6,136.9"/><polyline points="167.3,133.5 178.3,136.3 189.4,137.4 200.4,137.2 211.5,104.4 222.5,147.3 233.5,138.4 244.6,124.2 255.6,128.4"/><polyline points="167.3,141.4 178.3,132.5 189.4,128.6 200.4,128.8 211.5,105.9 222.5,123.4 233.5,132.6 244.6,132.8 255.6,134.6"/><polyline points="167.3,133 178.3,111.7 189.4,140.4 200.4,131.5 211.5,105.4 222.5,132.7 233.5,130.9 244.6,129.4 255.6,125.3"/><polyline points="167.3,132.5 178.3,133.4 189.4,138.9 200.4,134.6 211.5,107.5 222.5,134.2 233.5,134.2 244.6,129.4 255.6,134.2"/><polyline points="167.3,141.4 178.3,130.9 189.4,128.2 200.4,135 211.5,106.3 222.5,137.5 233.5,133.3 244.6,137.3 255.6,132.8"/><polyline points="167.3,132.6 178.3,135.4 189.4,127.6 200.4,140.6 211.5,110.4 222.5,140 233.5,130.9 244.6,136.7 255.6,136.7"/><polyline points="167.3,127.9 178.3,133.4 189.4,131.1 200.4,133.7 211.5,111.1 222.5,128.4 233.5,130.9 244.6,133.2 255.6,119.9"/><polyline points="167.3,127.6 178.3,134.6 189.4,124.6 200.4,128.6 211.5,106.8 222.5,127.2 233.5,136.8 244.6,136.5 255.6,140.8"/><polyline points="167.3,129.2 178.3,131.4 189.4,129 200.4,131.8 211.5,115.9 222.5,119.9 233.5,126.2 244.6,142.3 255.6,139.9"/><polyline points="167.3,137.6 178.3,134.1 189.4,128.2 200.4,130.3 211.5,107.6 222.5,138 233.5,133.7 244.6,118.7 255.6,129.2"/><polyline points="167.3,138.3 178.3,132.4 189.4,136.9 200.4,129.4 211.5,110.8 222.5,133.2 233.5,133.3 244.6,127.5 255.6,137.7"/><polyline points="167.3,143.1 178.3,124.1 189.4,133.9 200.4,133.6 211.5,101.2 222.5,133.9 233.5,129.8 244.6,130.1 255.6,136.1"/><polyline points="167.3,131.5 178.3,133.9 189.4,136.9 200.4,127.8 211.5,107.8 222.5,133.7 233.5,131.6 244.6,139 255.6,136.7"/><polyline points="167.3,129.5 178.3,141 189.4,135.1 200.4,142.9 211.5,108.9 222.5,133.8 233.5,136.9 244.6,132.3 255.6,130.3"/><polyline points="167.3,137.2 178.3,132.6 189.4,138.1 200.4,137 211.5,110.5 222.5,123.2 233.5,130.3 244.6,128.7 255.6,129.6"/><polyline points="167.3,127.5 178.3,131.7 189.4,143.5 200.4,135.3 211.5,102.1 222.5,140.6 233.5,130.1 244.6,135 255.6,136.1"/><polyline points="167.3,124.9 178.3,126.7 189.4,134.8 200.4,131.1 211.5,108 222.5,126.6 233.5,131.7 244.6,133.8 255.6,132.6"/><polyline points="167.3,129.8 178.3,131 189.4,136.1 200.4,136 211.5,107.1 222.5,132.2 233.5,131.9 244.6,128.8 255.6,138"/><polyline points="167.3,128.5 178.3,136.4 189.4,136.9 200.4,130.8 211.5,107.6 222.5,141.6 233.5,138.9 244.6,141.4 255.6,135.7"/><polyline points="167.3,136.8 178.3,130.4 189.4,130.9 200.4,133.5 211.5,112.5 222.5,130.9 233.5,134.3 244.6,136.7 255.6,130.7"/><polyline points="167.3,137.7 178.3,135.4 189.4,124.4 200.4,128.9 211.5,104.3 222.5,132.4 233.5,134.2 244.6,137.8 255.6,117.4"/><polyline points="167.3,133.5 178.3,120.5 189.4,128.2 200.4,134.4 211.5,106.8 222.5,130.4 233.5,131.2 244.6,131.9 255.6,132.3"/><polyline points="167.3,133.9 178.3,130.3 189.4,126.8 200.4,127 211.5,105.3 222.5,130 233.5,130.7 244.6,136.2 255.6,129.2"/><polyline points="167.3,133.2 178.3,133.2 189.4,130.5 200.4,128.2 211.5,103.2 222.5,129.3 233.5,130.6 244.6,135.7 255.6,133.2"/><polyline points="167.3,134.7 178.3,130 189.4,131 200.4,137.8 211.5,113 222.5,137.9 233.5,129.5 244.6,129 255.6,136.2"/><polyline points="167.3,132.3 178.3,130.1 189.4,132.1 200.4,128.4 211.5,101.6 222.5,142.7 233.5,131.8 244.6,136.6 255.6,128"/><polyline points="167.3,133.5 178.3,134.5 189.4,129.8 200.4,128.5 211.5,113.6 222.5,128 233.5,130.8 244.6,130.9 255.6,138"/><polyline points="167.3,131.7 178.3,129.1 189.4,130.8 200.4,136.9 211.5,105.3 222.5,134.6 233.5,129.2 244.6,125.6 255.6,126.6"/><polyline points="167.3,133 178.3,127.2 189.4,135.8 200.4,131.5 211.5,111.1 222.5,133.9 233.5,132.3 244.6,128.7 255.6,134.5"/><polyline points="167.3,129.7 178.3,133.1 189.4,125.2 200.4,136.2 211.5,107.7 222.5,135.5 233.5,140.2 244.6,132.7 255.6,132"/><polyline points="167.3,118.4 178.3,130.7 189.4,127 200.4,143.1 211.5,111.7 222.5,139.4 233.5,130.3 244.6,130.8 255.6,127.8"/><polyline points="167.3,136.9 178.3,133.9 189.4,139.3 200.4,132.6 211.5,105.1 222.5,126.2 233.5,135.5 244.6,129.4 255.6,138.6"/><polyline points="167.3,136.2 178.3,133.5 189.4,130.8 200.4,124.9 211.5,110.2 222.5,138.3 233.5,133.5 244.6,136.6 255.6,130.6"/><polyline points="167.3,139.7 178.3,138.1 189.4,135.3 200.4,128.7 211.5,104.7 222.5,134.6 233.5,130.8 244.6,125.4 255.6,128.6"/><polyline points="167.3,132.6 178.3,131.8 189.4,135 200.4,128.2 211.5,111.1 222.5,137.5 233.5,142.1 244.6,144.3 255.6,140.7"/><polyline points="167.3,141.4 178.3,136.5 189.4,132.9 200.4,128.2 211.5,108.5 222.5,134.6 233.5,130.5 244.6,133.5 255.6,136"/><polyline points="167.3,132.3 178.3,136.1 189.4,130.3 200.4,141.4 211.5,101.2 222.5,136.6 233.5,127.6 244.6,131.3 255.6,135.8"/><polyline points="167.3,138.8 178.3,130.2 189.4,133.9 200.4,142.3 211.5,107.8 222.5,145.5 233.5,120.7 244.6,117.4 255.6,127.7"/><polyline points="167.3,130 178.3,134 189.4,124.4 200.4,138.6 211.5,106.6 222.5,135.6 233.5,132.1 244.6,133.1 255.6,138.7"/><polyline points="167.3,113.7 178.3,134.9 189.4,127.9 200.4,131.2 211.5,105.6 222.5,133.7 233.5,128.6 244.6,133 255.6,134.8"/><polyline points="167.3,130.2 178.3,131.5 189.4,133.3 200.4,134.9 211.5,103.6 222.5,134.1 233.5,132.8 244.6,131.7 255.6,127.6"/><polyline points="167.3,130.7 178.3,131.7 189.4,142.4 200.4,144.4 211.5,113.3 222.5,122.3 233.5,134.1 244.6,137.3 255.6,131.2"/><polyline points="167.3,136 178.3,132.7 189.4,140 200.4,136.1 211.5,106.6 222.5,129.1 233.5,133 244.6,141.8 255.6,134.5"/><polyline points="167.3,131.2 178.3,129.9 189.4,130.1 200.4,123.6 211.5,110.9 222.5,133.6 233.5,130.6 244.6,136.7 255.6,130.3"/><polyline points="167.3,128.8 178.3,128.6 189.4,135.1 200.4,131.7 211.5,108.3 222.5,128.9 233.5,134.3 244.6,136 255.6,136.3"/><polyline points="167.3,135.3 178.3,131.9 189.4,129.1 200.4,133.5 211.5,113.1 222.5,134.7 233.5,139.4 244.6,117.9 255.6,131.5"/><polyline points="167.3,133.5 178.3,134.3 189.4,138.7 200.4,131.5 211.5,101.4 222.5,130.8 233.5,124.1 244.6,135.1 255.6,137.3"/><polyline points="167.3,139.2 178.3,120.5 189.4,131.7 200.4,133.2 211.5,105.1 222.5,130.8 233.5,132.4 244.6,139.8 255.6,131.8"/><polyline points="167.3,134.8 178.3,127.6 189.4,134.3 200.4,133.2 211.5,108.6 222.5,132.5 233.5,125.4 244.6,132.8 255.6,130.3"/><polyline points="167.3,137.6 178.3,132.8 189.4,138.9 200.4,130.9 211.5,102.7 222.5,136.2 233.5,134.1 244.6,132.8 255.6,132.2"/><polyline points="167.3,135.8 178.3,130.9 189.4,122.2 200.4,143.1 211.5,117.2 222.5,128.9 233.5,127.1 244.6,129.4 255.6,129.5"/><polyline points="167.3,136.4 178.3,129.3 189.4,134.2 200.4,132.7 211.5,101.2 222.5,119.8 233.5,133.5 244.6,135.7 255.6,138.8"/><polyline points="167.3,137 178.3,129.6 189.4,134 200.4,135.1 211.5,108.4 222.5,139 233.5,133.1 244.6,133.7 255.6,140.1"/><polyline points="167.3,133.3 178.3,128.4 189.4,130.7 200.4,134.1 211.5,106.4 222.5,136.1 233.5,137.5 244.6,141.8 255.6,130"/><polyline points="167.3,134.5 178.3,132.7 189.4,133 200.4,112.4 211.5,111.9 222.5,124.7 233.5,133.2 244.6,133 255.6,130.7"/><polyline points="167.3,132.4 178.3,128.7 189.4,127 200.4,135.8 211.5,108.4 222.5,135.2 233.5,134.4 244.6,133.1 255.6,136.1"/><polyline points="167.3,131.9 178.3,133.8 189.4,129.7 200.4,125.5 211.5,108.3 222.5,134.3 233.5,133 244.6,132.3 255.6,135.5"/><polyline points="167.3,131.5 178.3,142.7 189.4,129.8 200.4,131.9 211.5,111.3 222.5,133.4 233.5,137.9 244.6,132.9 255.6,134"/><polyline points="167.3,123.3 178.3,142.1 189.4,133.7 200.4,126.4 211.5,111.1 222.5,128.8 233.5,131.4 244.6,137.5 255.6,107.9"/><polyline points="167.3,135.9 178.3,129.1 189.4,124.3 200.4,135 211.5,107.6 222.5,140.3 233.5,127.6 244.6,133.9 255.6,134.5"/><polyline points="167.3,139.4 178.3,125.4 189.4,133.4 200.4,136 211.5,104.3 222.5,138 233.5,128.7 244.6,135.8 255.6,138.5"/><polyline points="167.3,120.5 178.3,131.7 189.4,135.1 200.4,129.7 211.5,104.5 222.5,137.8 233.5,131.5 244.6,136.3 255.6,139.5"/><polyline points="167.3,132.7 178.3,129.4 189.4,135.9 200.4,135.1 211.5,108.1 222.5,142.7 233.5,131.6 244.6,137.5 255.6,132.2"/><polyline points="167.3,133.2 178.3,133.1 189.4,128.1 200.4,139 211.5,105.1 222.5,135.4 233.5,138.9 244.6,128.3 255.6,126"/><polyline points="167.3,126.2 178.3,125.4 189.4,142.8 200.4,132.7 211.5,105.1 222.5,128.9 233.5,136.3 244.6,133.4 255.6,128.4"/><polyline points="167.3,132.6 178.3,133 189.4,141.2 200.4,125.2 211.5,102.9 222.5,115 233.5,139.6 244.6,135.9 255.6,133.7"/><polyline points="167.3,138.6 178.3,123.2 189.4,137.5 200.4,134.2 211.5,105 222.5,133.8 233.5,131.4 244.6,135.2 255.6,150.8"/><polyline points="167.3,136.9 178.3,134.8 189.4,131 200.4,130.3 211.5,103.8 222.5,132.6 233.5,130.5 244.6,128.2 255.6,134"/><polyline points="167.3,135.2 178.3,133.7 189.4,135.7 200.4,115.1 211.5,107.1 222.5,133.1 233.5,126.3 244.6,136.7 255.6,129.3"/><polyline points="167.3,133.9 178.3,130.2 189.4,129 200.4,134.8 211.5,103.5 222.5,129.2 233.5,134.1 244.6,131.2 255.6,138.4"/><polyline points="167.3,135.2 178.3,134.8 189.4,132.8 200.4,142.5 211.5,102.2 222.5,118.8 233.5,130.7 244.6,125.5 255.6,130.7"/><polyline points="167.3,136.9 178.3,133 189.4,133.5 200.4,142.5 211.5,113.5 222.5,131.3 233.5,136 244.6,130.7 255.6,131.1"/><polyline points="167.3,119.4 178.3,132.8 189.4,128.3 200.4,116.1 211.5,105.5 222.5,132.5 233.5,130.5 244.6,134 255.6,127.6"/><polyline points="167.3,134.2 178.3,119.5 189.4,133.9 200.4,135.6 211.5,110.1 222.5,134.8 233.5,133.9 244.6,129.1 255.6,135.1"/><polyline points="167.3,129.6 178.3,133.1 189.4,135.5 200.4,133.2 211.5,112.3 222.5,126.8 233.5,136.8 244.6,137.2 255.6,138"/><polyline points="167.3,117.5 178.3,130 189.4,126.6 200.4,136.1 211.5,104.4 222.5,138.7 233.5,127.2 244.6,131.5 255.6,129.7"/><polyline points="167.3,128.2 178.3,133.9 189.4,135.3 200.4,133.3 211.5,110.1 222.5,129.7 233.5,125.7 244.6,126.4 255.6,135.1"/><polyline points="167.3,135 178.3,123.3 189.4,141.6 200.4,137.2 211.5,105.3 222.5,123.7 233.5,131.4 244.6,134 255.6,142"/><polyline points="167.3,134.3 178.3,131 189.4,128 200.4,132 211.5,106 222.5,127.9 233.5,131.2 244.6,134.5 255.6,133.1"/><polyline points="167.3,135.1 178.3,128.5 189.4,133 200.4,129.9 211.5,105.6 222.5,137.8 233.5,134.3 244.6,126.9 255.6,129.7"/><polyline points="167.3,135.3 178.3,138.4 189.4,134.4 200.4,140 211.5,112.5 222.5,126.9 233.5,132.2 244.6,134.5 255.6,136.7"/></g>
<polyline points="167.3,133.4 178.3,132.9 189.4,134.1 200.4,133.4 211.5,104 222.5,132.9 233.5,133.4 244.6,133.6 255.6,134.1" fill="none" stroke="#000" stroke-width="1.6" stroke-linejoin="round" stroke-linecap="round"/>
<g stroke="#333" stroke-width="0.95" fill="none"><path d="M167.3 98.6V151.6" /><path d="M163.8 151.6H167.3" /><path d="M163.8 141H167.3" /><path d="M163.8 130.4H167.3" /><path d="M163.8 119.8H167.3" /><path d="M163.8 109.2H167.3" /><path d="M163.8 98.6H167.3" /><path d="M167.3 151.6H255.6" /><path d="M167.3 151.6V156.2" /><path d="M178.3 151.6V156.2" /><path d="M189.4 151.6V156.2" /><path d="M200.4 151.6V156.2" /><path d="M211.5 151.6V156.2" /><path d="M222.5 151.6V156.2" /><path d="M233.5 151.6V156.2" /><path d="M244.6 151.6V156.2" /><path d="M255.6 151.6V156.2" /></g>
<text class="yl" transform="translate(159.9 97.5) rotate(-90) scale(1.14 1)">3</text>
<text class="yl" transform="translate(159.9 108.1) rotate(-90) scale(1.14 1)">2</text>
<text class="yl" transform="translate(159.9 118.7) rotate(-90) scale(1.14 1)">1</text>
<text class="yl" transform="translate(159.9 129.3) rotate(-90) scale(1.14 1)">0</text>
<text class="yl" transform="translate(159.9 149.5) rotate(-90) scale(1.14 1)">−2</text>
<text class="tt" x="169.7" y="93.9">C5 ,  87 metabolites</text>
</g>
<g>
<g fill="none" stroke="#DEB826" stroke-width="0.85" stroke-linejoin="round"><polyline points="295.7,128.5 306.7,123.5 317.8,127.3 328.8,125.2 339.9,135.3 350.9,124.7 361.9,130.2 373,116.7 384,108.4"/><polyline points="295.7,117.4 306.7,131.4 317.8,126.8 328.8,131.8 339.9,130.8 350.9,117.2 361.9,129.9 373,124.9 384,111.1"/><polyline points="295.7,115 306.7,126.4 317.8,135.2 328.8,134.9 339.9,111.8 350.9,131.2 361.9,131.2 373,128.1 384,104.4"/><polyline points="295.7,133.8 306.7,130.7 317.8,128.8 328.8,132.9 339.9,123.7 350.9,130.1 361.9,129.4 373,129.8 384,108.6"/><polyline points="295.7,117.9 306.7,123 317.8,135.3 328.8,127.7 339.9,132.8 350.9,127.6 361.9,123.7 373,132.1 384,107.3"/><polyline points="295.7,129.6 306.7,123.7 317.8,126.2 328.8,133.2 339.9,127.1 350.9,124.8 361.9,125.7 373,117.5 384,111.6"/><polyline points="295.7,127.5 306.7,123.8 317.8,124.9 328.8,130.1 339.9,137.8 350.9,125 361.9,121.6 373,133 384,103.5"/><polyline points="295.7,127.1 306.7,127.8 317.8,129.5 328.8,133 339.9,132.2 350.9,127.8 361.9,128 373,131.4 384,112.1"/><polyline points="295.7,125.9 306.7,122.6 317.8,134.5 328.8,128.1 339.9,127.3 350.9,131.8 361.9,127 373,134.8 384,114.2"/><polyline points="295.7,122.8 306.7,125.1 317.8,131.1 328.8,127.5 339.9,132.5 350.9,130.7 361.9,133.3 373,126.8 384,104.6"/><polyline points="295.7,120 306.7,127.8 317.8,133.4 328.8,126.8 339.9,131 350.9,126.4 361.9,116.3 373,136.2 384,105.2"/><polyline points="295.7,123.8 306.7,119.1 317.8,127.1 328.8,126.1 339.9,126 350.9,140.3 361.9,132.6 373,127 384,110.7"/><polyline points="295.7,119.6 306.7,122.1 317.8,113.6 328.8,131.8 339.9,127.2 350.9,125.7 361.9,124 373,119.5 384,107.4"/><polyline points="295.7,126.1 306.7,129 317.8,129.8 328.8,127.7 339.9,134.8 350.9,121.7 361.9,134.7 373,134 384,107.6"/><polyline points="295.7,124.8 306.7,131.6 317.8,129.5 328.8,128.1 339.9,137.7 350.9,129.9 361.9,120.5 373,125.9 384,108.8"/><polyline points="295.7,127.6 306.7,131.2 317.8,127.7 328.8,136.9 339.9,109.7 350.9,120 361.9,131.4 373,129.7 384,112.3"/><polyline points="295.7,128.4 306.7,126.7 317.8,126.6 328.8,132.2 339.9,117.4 350.9,124.9 361.9,128.7 373,128.8 384,109.1"/><polyline points="295.7,128.9 306.7,126 317.8,129 328.8,133.4 339.9,130.3 350.9,130.9 361.9,114.1 373,129.5 384,106.5"/><polyline points="295.7,128.1 306.7,130.2 317.8,127.9 328.8,131.5 339.9,126.4 350.9,138.2 361.9,126.6 373,126.4 384,105.4"/><polyline points="295.7,135.6 306.7,128 317.8,123.6 328.8,126.1 339.9,128.4 350.9,133.5 361.9,129.5 373,130.9 384,107.3"/><polyline points="295.7,124.1 306.7,129.4 317.8,129.2 328.8,122.1 339.9,123.4 350.9,134.5 361.9,132.1 373,127.7 384,110.1"/><polyline points="295.7,132.3 306.7,132 317.8,132.1 328.8,129.3 339.9,126.8 350.9,134.2 361.9,127.9 373,129.8 384,108.3"/><polyline points="295.7,125 306.7,128.8 317.8,129.7 328.8,136.2 339.9,136.8 350.9,126.4 361.9,128 373,130.9 384,104.6"/><polyline points="295.7,130.3 306.7,127.6 317.8,133 328.8,131.5 339.9,122.9 350.9,132.1 361.9,131.5 373,130.6 384,109.4"/><polyline points="295.7,127 306.7,126.9 317.8,133.6 328.8,132.6 339.9,126.8 350.9,131.6 361.9,121.4 373,128.8 384,107.1"/><polyline points="295.7,121.6 306.7,122.6 317.8,129.3 328.8,129.9 339.9,133 350.9,127 361.9,120.7 373,119.1 384,104.6"/><polyline points="295.7,126.6 306.7,128.2 317.8,127.3 328.8,125.6 339.9,133.3 350.9,135.9 361.9,132.8 373,124.6 384,103.5"/><polyline points="295.7,133.4 306.7,129.5 317.8,132 328.8,134.5 339.9,130.8 350.9,126.4 361.9,127.8 373,129.8 384,114.6"/><polyline points="295.7,141.6 306.7,127.9 317.8,131 328.8,128.3 339.9,128.3 350.9,133.6 361.9,133.7 373,112.3 384,102.6"/><polyline points="295.7,122.3 306.7,122.6 317.8,125.3 328.8,129.9 339.9,127.6 350.9,114.1 361.9,129.8 373,125.2 384,110.5"/><polyline points="295.7,128.9 306.7,134.3 317.8,127.3 328.8,122.4 339.9,125.6 350.9,127.8 361.9,115.9 373,127.4 384,104.3"/><polyline points="295.7,127.3 306.7,120.1 317.8,126.7 328.8,133 339.9,124.5 350.9,129.9 361.9,124.8 373,121.8 384,108.8"/><polyline points="295.7,132.3 306.7,122 317.8,127 328.8,133.6 339.9,128.1 350.9,141.6 361.9,128.4 373,123.1 384,108.9"/><polyline points="295.7,135.3 306.7,135.8 317.8,128.2 328.8,128.2 339.9,129.8 350.9,123.4 361.9,130.9 373,128 384,106.7"/><polyline points="295.7,130 306.7,122.4 317.8,135 328.8,144.8 339.9,134 350.9,129.8 361.9,122.7 373,121.9 384,108.8"/><polyline points="295.7,126.9 306.7,129.3 317.8,134.4 328.8,132.8 339.9,129.8 350.9,135.1 361.9,128.6 373,128.1 384,109.5"/><polyline points="295.7,132.7 306.7,136 317.8,125.1 328.8,125.9 339.9,130 350.9,122.9 361.9,131.9 373,133 384,114.6"/><polyline points="295.7,135.3 306.7,126.9 317.8,128.1 328.8,130.3 339.9,129.4 350.9,127.4 361.9,136.6 373,125.3 384,104.8"/><polyline points="295.7,119.5 306.7,123 317.8,125.5 328.8,133.2 339.9,127.4 350.9,126.1 361.9,134 373,127.2 384,105.7"/><polyline points="295.7,128.6 306.7,130.8 317.8,132.6 328.8,131.3 339.9,138.7 350.9,130.9 361.9,123.3 373,128 384,105.2"/><polyline points="295.7,137.8 306.7,125.7 317.8,122.4 328.8,126.6 339.9,131.9 350.9,126.1 361.9,126 373,126.4 384,108.7"/><polyline points="295.7,137.8 306.7,128.5 317.8,127.5 328.8,128.9 339.9,115 350.9,125.8 361.9,128.6 373,132.6 384,104.8"/><polyline points="295.7,133.1 306.7,129.4 317.8,137.4 328.8,125.5 339.9,130 350.9,125.6 361.9,126.2 373,134.8 384,109.3"/><polyline points="295.7,128 306.7,117.6 317.8,129.9 328.8,135.6 339.9,128.1 350.9,135.2 361.9,126.5 373,128.7 384,104.4"/><polyline points="295.7,132.4 306.7,133.3 317.8,126.5 328.8,131.5 339.9,127.4 350.9,132.2 361.9,128 373,110.5 384,102.5"/><polyline points="295.7,129.7 306.7,125.5 317.8,127.8 328.8,133.1 339.9,128.1 350.9,130.8 361.9,125.4 373,136.7 384,106.1"/><polyline points="295.7,130.8 306.7,121.4 317.8,122.8 328.8,123 339.9,134.2 350.9,121.9 361.9,129.4 373,127.1 384,108.4"/><polyline points="295.7,126.4 306.7,134.6 317.8,111.9 328.8,132 339.9,116.8 350.9,117.7 361.9,116.2 373,124.9 384,111.8"/><polyline points="295.7,126.4 306.7,123.8 317.8,130.6 328.8,128.2 339.9,108 350.9,125.3 361.9,120.7 373,124 384,110.1"/><polyline points="295.7,125.2 306.7,117.8 317.8,123.4 328.8,133.8 339.9,133.6 350.9,149.7 361.9,127.8 373,130 384,109.3"/><polyline points="295.7,123.4 306.7,123.6 317.8,127.1 328.8,132.1 339.9,134.6 350.9,126.9 361.9,129.8 373,125.3 384,112.2"/><polyline points="295.7,125.9 306.7,126.4 317.8,130.4 328.8,127 339.9,132.5 350.9,132.5 361.9,126.3 373,127.6 384,103.8"/><polyline points="295.7,130.1 306.7,131 317.8,133.1 328.8,128.9 339.9,134.4 350.9,134.8 361.9,122.2 373,129.2 384,105.2"/><polyline points="295.7,121.5 306.7,122.2 317.8,124.4 328.8,130.8 339.9,133.2 350.9,132.5 361.9,130.1 373,129.5 384,111.7"/><polyline points="295.7,132.4 306.7,122.9 317.8,127.7 328.8,120.9 339.9,134.1 350.9,128.3 361.9,132 373,129.3 384,109.8"/><polyline points="295.7,112.4 306.7,126.7 317.8,129.5 328.8,130.6 339.9,130.6 350.9,136.8 361.9,128.7 373,123.2 384,110.4"/><polyline points="295.7,123.5 306.7,129.3 317.8,128.7 328.8,122.9 339.9,130.5 350.9,122.3 361.9,122.7 373,127.7 384,109.5"/><polyline points="295.7,127.3 306.7,127.2 317.8,122.8 328.8,130.1 339.9,129.8 350.9,129.8 361.9,128.5 373,119.2 384,106.8"/><polyline points="295.7,133.8 306.7,140.7 317.8,133.4 328.8,130.5 339.9,132.9 350.9,122.9 361.9,128.7 373,135.4 384,106.1"/><polyline points="295.7,118 306.7,128 317.8,125.2 328.8,128.2 339.9,123.3 350.9,124.1 361.9,130.3 373,115.3 384,105.9"/><polyline points="295.7,127.4 306.7,125 317.8,133.8 328.8,131.2 339.9,129.1 350.9,131.4 361.9,129.3 373,124.7 384,111.3"/><polyline points="295.7,131.3 306.7,124.8 317.8,129.3 328.8,123.3 339.9,127.9 350.9,131.2 361.9,132.3 373,126.2 384,102.2"/><polyline points="295.7,133.5 306.7,127.1 317.8,133.1 328.8,126.1 339.9,129.2 350.9,128.7 361.9,130.1 373,126.6 384,107.2"/><polyline points="295.7,126.5 306.7,117 317.8,133.6 328.8,132.7 339.9,117.5 350.9,131.4 361.9,126 373,137.3 384,113.5"/><polyline points="295.7,130.5 306.7,134.2 317.8,125.8 328.8,133.2 339.9,128.4 350.9,126.4 361.9,129.2 373,132.8 384,112.1"/><polyline points="295.7,117.4 306.7,129.4 317.8,125.7 328.8,124.7 339.9,126.5 350.9,131 361.9,123 373,131 384,108"/><polyline points="295.7,128.6 306.7,121.6 317.8,128.3 328.8,131.6 339.9,127.1 350.9,127.1 361.9,124.3 373,113.8 384,107.3"/><polyline points="295.7,124.8 306.7,128.4 317.8,132.5 328.8,127.2 339.9,132.1 350.9,125.8 361.9,122.5 373,125.4 384,104.9"/><polyline points="295.7,125 306.7,128.6 317.8,126.3 328.8,126 339.9,131 350.9,113.1 361.9,126.9 373,119.1 384,108.4"/><polyline points="295.7,131.7 306.7,124.1 317.8,130.8 328.8,127.1 339.9,128.6 350.9,129.7 361.9,126.9 373,127.6 384,108.9"/><polyline points="295.7,125.4 306.7,133.1 317.8,128.5 328.8,125.9 339.9,127.3 350.9,137.3 361.9,129.2 373,116.1 384,110.7"/><polyline points="295.7,129.8 306.7,122.7 317.8,126.4 328.8,135.2 339.9,129.4 350.9,121.3 361.9,115.5 373,127.2 384,104"/><polyline points="295.7,125.9 306.7,131.1 317.8,129.4 328.8,126.8 339.9,111.6 350.9,124.1 361.9,117.9 373,119.1 384,110.3"/><polyline points="295.7,135.9 306.7,124.1 317.8,131.3 328.8,129.8 339.9,125.6 350.9,124.7 361.9,129.1 373,130.7 384,106.5"/><polyline points="295.7,123.7 306.7,130.9 317.8,124.6 328.8,123.5 339.9,126.7 350.9,120 361.9,133.5 373,125.7 384,107.7"/><polyline points="295.7,121.8 306.7,129.1 317.8,129.8 328.8,135 339.9,134.5 350.9,130.1 361.9,122.8 373,123.9 384,108.2"/><polyline points="295.7,128.9 306.7,125.8 317.8,131.9 328.8,121.9 339.9,134.1 350.9,133.8 361.9,119.4 373,127.1 384,109.9"/><polyline points="295.7,137.8 306.7,143.6 317.8,130.3 328.8,120.9 339.9,129.1 350.9,130 361.9,136 373,117.8 384,110.5"/><polyline points="295.7,130.3 306.7,126.6 317.8,129.1 328.8,139.7 339.9,131 350.9,134 361.9,127.5 373,128.2 384,105.6"/><polyline points="295.7,132.7 306.7,136.3 317.8,120.4 328.8,134.1 339.9,132 350.9,127.9 361.9,128 373,126.6 384,111"/><polyline points="295.7,127.1 306.7,117.8 317.8,132.6 328.8,132.1 339.9,129.9 350.9,123.6 361.9,124.3 373,133.9 384,108.7"/><polyline points="295.7,128.4 306.7,131.8 317.8,134.4 328.8,120.9 339.9,131 350.9,123.5 361.9,122.8 373,128.7 384,106.5"/></g>
<polyline points="295.7,128.7 306.7,126.9 317.8,129.5 328.8,130 339.9,129.5 350.9,129.1 361.9,128.7 373,128.2 384,107.1" fill="none" stroke="#000" stroke-width="1.6" stroke-linejoin="round" stroke-linecap="round"/>
<g stroke="#333" stroke-width="0.95" fill="none"><path d="M295.7 100V152.9" /><path d="M292.2 152.9H295.7" /><path d="M292.2 144.1H295.7" /><path d="M292.2 135.3H295.7" /><path d="M292.2 126.5H295.7" /><path d="M292.2 117.6H295.7" /><path d="M292.2 108.8H295.7" /><path d="M292.2 100H295.7" /><path d="M295.7 152.9H384" /><path d="M295.7 152.9V157.5" /><path d="M306.7 152.9V157.5" /><path d="M317.8 152.9V157.5" /><path d="M328.8 152.9V157.5" /><path d="M339.9 152.9V157.5" /><path d="M350.9 152.9V157.5" /><path d="M361.9 152.9V157.5" /><path d="M373 152.9V157.5" /><path d="M384 152.9V157.5" /></g>
<text class="yl" transform="translate(288.3 98.9) rotate(-90) scale(1.14 1)">3</text>
<text class="yl" transform="translate(288.3 116.5) rotate(-90) scale(1.14 1)">1</text>
<text class="yl" transform="translate(288.3 133.2) rotate(-90) scale(1.14 1)">−1</text>
<text class="yl" transform="translate(288.3 150.8) rotate(-90) scale(1.14 1)">−3</text>
<text class="tt" x="301.7" y="93.9">C6 ,  82 metabolites</text>
</g>
<g>
<g fill="none" stroke="#A0D4DC" stroke-width="0.85" stroke-linejoin="round"><polyline points="39.2,217.7 50.2,216.4 61.3,190.2 72.3,215.9 83.4,221 94.4,216.2 105.4,219.5 116.5,218.5 127.5,218.7"/><polyline points="39.2,214.7 50.2,210.6 61.3,193.9 72.3,222.2 83.4,217.4 94.4,214.6 105.4,212.5 116.5,214.2 127.5,205"/><polyline points="39.2,213.2 50.2,216 61.3,199.5 72.3,211.1 83.4,218.4 94.4,201 105.4,218.4 116.5,218.4 127.5,219"/><polyline points="39.2,197.1 50.2,214.4 61.3,192.2 72.3,220.5 83.4,219.4 94.4,215.4 105.4,210.9 116.5,219.9 127.5,221.4"/><polyline points="39.2,214 50.2,219.4 61.3,187.1 72.3,216.9 83.4,217.2 94.4,211.4 105.4,217.5 116.5,223.3 127.5,220.9"/><polyline points="39.2,211.2 50.2,213.4 61.3,191.7 72.3,194.3 83.4,231.3 94.4,217.1 105.4,223.7 116.5,217.6 127.5,225.4"/><polyline points="39.2,216.7 50.2,214.1 61.3,192.7 72.3,210.2 83.4,224.3 94.4,218.7 105.4,212.5 116.5,224 127.5,220.7"/><polyline points="39.2,207.9 50.2,214.8 61.3,196.9 72.3,209.3 83.4,233.7 94.4,214.5 105.4,211.1 116.5,216.2 127.5,216.8"/><polyline points="39.2,213.9 50.2,205 61.3,188.9 72.3,214.8 83.4,218.3 94.4,217.4 105.4,222.4 116.5,213.2 127.5,214.1"/><polyline points="39.2,195.7 50.2,213.6 61.3,188 72.3,210.3 83.4,214.5 94.4,215.6 105.4,217.4 116.5,215.4 127.5,216.1"/><polyline points="39.2,212 50.2,200.3 61.3,194.5 72.3,213.9 83.4,218.8 94.4,218.7 105.4,221.4 116.5,203 127.5,193.8"/><polyline points="39.2,210.8 50.2,210.5 61.3,197.2 72.3,216.8 83.4,220.7 94.4,233.7 105.4,233.7 116.5,217.4 127.5,214.8"/><polyline points="39.2,213 50.2,213.2 61.3,193.2 72.3,212.6 83.4,216.4 94.4,212 105.4,214 116.5,216.7 127.5,217.1"/><polyline points="39.2,217.2 50.2,207.2 61.3,197.1 72.3,213 83.4,218.7 94.4,206.1 105.4,223.3 116.5,215.7 127.5,215.9"/><polyline points="39.2,215.1 50.2,220.2 61.3,195.6 72.3,212.8 83.4,219.3 94.4,220.1 105.4,215.5 116.5,217 127.5,213.8"/><polyline points="39.2,224 50.2,212.2 61.3,188.4 72.3,219 83.4,220.3 94.4,218.6 105.4,220.5 116.5,218.8 127.5,217.8"/><polyline points="39.2,217.1 50.2,214.1 61.3,186.7 72.3,209.9 83.4,195.9 94.4,216.4 105.4,213.7 116.5,217.3 127.5,217"/><polyline points="39.2,215 50.2,210.3 61.3,198.6 72.3,204.4 83.4,224.1 94.4,218.9 105.4,217.5 116.5,214.2 127.5,195"/><polyline points="39.2,218.3 50.2,209.5 61.3,194.7 72.3,210.4 83.4,220.1 94.4,209.5 105.4,217.9 116.5,220.3 127.5,217.6"/><polyline points="39.2,219.9 50.2,213.5 61.3,201.3 72.3,211.4 83.4,220.7 94.4,216.2 105.4,215.6 116.5,216.7 127.5,216.8"/><polyline points="39.2,211.4 50.2,215.9 61.3,195.7 72.3,204.4 83.4,218.1 94.4,219.6 105.4,214.9 116.5,219.8 127.5,220.6"/><polyline points="39.2,216.6 50.2,210.3 61.3,191 72.3,211.4 83.4,210.3 94.4,212.9 105.4,222.2 116.5,212.3 127.5,222.1"/><polyline points="39.2,216.6 50.2,214.4 61.3,188 72.3,215 83.4,196.4 94.4,217.8 105.4,214.4 116.5,213.7 127.5,215.8"/><polyline points="39.2,212.7 50.2,206.6 61.3,187.5 72.3,216.8 83.4,214.5 94.4,219 105.4,219.3 116.5,209.4 127.5,194.7"/><polyline points="39.2,211.7 50.2,210.5 61.3,191.5 72.3,210.4 83.4,221.3 94.4,216.6 105.4,213 116.5,219.3 127.5,224.9"/><polyline points="39.2,205.2 50.2,213.1 61.3,186 72.3,216.4 83.4,214.3 94.4,214.9 105.4,213.5 116.5,217.8 127.5,218.9"/><polyline points="39.2,219.4 50.2,218.4 61.3,191.5 72.3,218.4 83.4,216.5 94.4,203 105.4,211.3 116.5,214.6 127.5,224.9"/><polyline points="39.2,218.5 50.2,191.7 61.3,198 72.3,216 83.4,220.1 94.4,208.6 105.4,219.7 116.5,217.5 127.5,220.2"/><polyline points="39.2,207.6 50.2,212.6 61.3,194.4 72.3,214.6 83.4,219.9 94.4,224.1 105.4,217 116.5,218.2 127.5,216.8"/><polyline points="39.2,222.9 50.2,215.7 61.3,191.5 72.3,204.8 83.4,225.2 94.4,219.6 105.4,203.6 116.5,214.7 127.5,212.5"/><polyline points="39.2,218.4 50.2,214.3 61.3,196.9 72.3,213.6 83.4,219.2 94.4,216.4 105.4,224.8 116.5,216.4 127.5,217.4"/><polyline points="39.2,219.1 50.2,218.2 61.3,186.8 72.3,192.2 83.4,220.7 94.4,217.8 105.4,220.3 116.5,217.8 127.5,224.9"/><polyline points="39.2,219.8 50.2,213.1 61.3,189.7 72.3,210.1 83.4,217 94.4,215.5 105.4,212.7 116.5,218.4 127.5,218.7"/><polyline points="39.2,201 50.2,219.5 61.3,195.2 72.3,213.4 83.4,192.3 94.4,217.7 105.4,214.3 116.5,220.7 127.5,220.7"/><polyline points="39.2,212.6 50.2,216.1 61.3,194.1 72.3,211.6 83.4,233.7 94.4,220 105.4,214.7 116.5,205.6 127.5,224.3"/><polyline points="39.2,222.5 50.2,219.5 61.3,188.8 72.3,213.5 83.4,221 94.4,211.6 105.4,214.5 116.5,205 127.5,227.2"/><polyline points="39.2,213.2 50.2,218.2 61.3,198 72.3,218.3 83.4,214.2 94.4,219.4 105.4,220.6 116.5,218.2 127.5,219.4"/><polyline points="39.2,213.2 50.2,215.9 61.3,196.3 72.3,212.3 83.4,212.1 94.4,218.4 105.4,215.2 116.5,220.4 127.5,217.4"/><polyline points="39.2,217 50.2,215.2 61.3,188.9 72.3,211.8 83.4,219.9 94.4,219.8 105.4,214.7 116.5,212 127.5,220"/><polyline points="39.2,217.3 50.2,197.3 61.3,202.1 72.3,213.4 83.4,218.1 94.4,209 105.4,210.3 116.5,219.6 127.5,222.1"/><polyline points="39.2,219.2 50.2,215.6 61.3,191.6 72.3,212.4 83.4,215.8 94.4,219.4 105.4,219 116.5,214.5 127.5,216.1"/><polyline points="39.2,221 50.2,216.4 61.3,197.6 72.3,212.6 83.4,205.8 94.4,212.4 105.4,212.7 116.5,210.6 127.5,210"/><polyline points="39.2,214.4 50.2,216.9 61.3,198 72.3,213.9 83.4,205.9 94.4,214.5 105.4,213.4 116.5,223.3 127.5,216.7"/><polyline points="39.2,217.6 50.2,219 61.3,192.4 72.3,216 83.4,217.9 94.4,219.3 105.4,220.1 116.5,221.3 127.5,225.2"/><polyline points="39.2,211.7 50.2,217.4 61.3,187.6 72.3,213 83.4,220.1 94.4,216.9 105.4,224.6 116.5,218.9 127.5,217.8"/><polyline points="39.2,204.8 50.2,215 61.3,187.7 72.3,212.3 83.4,215 94.4,209.4 105.4,220.7 116.5,213.3 127.5,196.7"/><polyline points="39.2,217.9 50.2,208.3 61.3,194.1 72.3,214.2 83.4,221 94.4,217.1 105.4,207.9 116.5,217.5 127.5,223.4"/><polyline points="39.2,199.7 50.2,212.4 61.3,191.6 72.3,209.3 83.4,213.4 94.4,219.1 105.4,211.5 116.5,220.2 127.5,220.5"/><polyline points="39.2,217.1 50.2,209.8 61.3,195.9 72.3,211 83.4,217 94.4,215.8 105.4,213 116.5,220.1 127.5,220.9"/><polyline points="39.2,215.7 50.2,206.6 61.3,198 72.3,210.7 83.4,200.4 94.4,215 105.4,212.4 116.5,219.3 127.5,219.4"/><polyline points="39.2,210 50.2,213 61.3,195.1 72.3,215.5 83.4,211.2 94.4,214.3 105.4,209.4 116.5,220.2 127.5,219.8"/><polyline points="39.2,199 50.2,206.6 61.3,186.9 72.3,215.5 83.4,194.5 94.4,213.1 105.4,211.6 116.5,214.2 127.5,220.2"/><polyline points="39.2,213.7 50.2,211 61.3,191.9 72.3,209.1 83.4,220.6 94.4,203.3 105.4,216 116.5,221 127.5,218.2"/><polyline points="39.2,214.3 50.2,211.4 61.3,195.6 72.3,210.4 83.4,219 94.4,220 105.4,220.4 116.5,219.7 127.5,216.7"/><polyline points="39.2,216.1 50.2,213.4 61.3,195.4 72.3,213 83.4,221.2 94.4,212.4 105.4,217.6 116.5,214.7 127.5,219.3"/><polyline points="39.2,220.9 50.2,218.7 61.3,196.6 72.3,207 83.4,198.9 94.4,214.3 105.4,212.4 116.5,214.7 127.5,218.9"/><polyline points="39.2,217.8 50.2,214.1 61.3,192 72.3,210.9 83.4,213.7 94.4,218.5 105.4,219 116.5,216.5 127.5,218.5"/><polyline points="39.2,207.9 50.2,213.1 61.3,191.8 72.3,209.7 83.4,203.9 94.4,216.1 105.4,215.5 116.5,218.2 127.5,224.4"/><polyline points="39.2,213.6 50.2,217.1 61.3,195.7 72.3,196.9 83.4,216.9 94.4,216 105.4,219.9 116.5,209.7 127.5,220.3"/><polyline points="39.2,212 50.2,209.2 61.3,201.3 72.3,209.2 83.4,195.1 94.4,218.3 105.4,213.1 116.5,217.7 127.5,219.3"/><polyline points="39.2,213.4 50.2,212.7 61.3,191.4 72.3,216.4 83.4,216.6 94.4,202.3 105.4,220 116.5,218.8 127.5,219"/><polyline points="39.2,213.1 50.2,218.2 61.3,195.2 72.3,204.7 83.4,217.5 94.4,217.5 105.4,214.9 116.5,217.1 127.5,218.1"/><polyline points="39.2,212 50.2,213.4 61.3,192.7 72.3,212.6 83.4,198.6 94.4,219.3 105.4,217.5 116.5,220.1 127.5,224.9"/><polyline points="39.2,217.6 50.2,211.7 61.3,186.8 72.3,214.9 83.4,216 94.4,221.2 105.4,217.3 116.5,214.6 127.5,205.1"/><polyline points="39.2,217.8 50.2,207.9 61.3,195.9 72.3,213.6 83.4,219.9 94.4,220.2 105.4,212.9 116.5,216.2 127.5,199.8"/><polyline points="39.2,222.4 50.2,216.5 61.3,190 72.3,210.2 83.4,195.5 94.4,213.2 105.4,216.5 116.5,217.4 127.5,198.1"/></g>
<polyline points="39.2,215.9 50.2,214.7 61.3,190 72.3,212.5 83.4,218.6 94.4,217 105.4,217 116.5,217 127.5,219.3" fill="none" stroke="#000" stroke-width="1.6" stroke-linejoin="round" stroke-linecap="round"/>
<g stroke="#333" stroke-width="0.95" fill="none"><path d="M39.2 181.5V234.5" /><path d="M35.7 234.5H39.2" /><path d="M35.7 223.9H39.2" /><path d="M35.7 213.3H39.2" /><path d="M35.7 202.7H39.2" /><path d="M35.7 192.1H39.2" /><path d="M35.7 181.5H39.2" /><path d="M39.2 234.5H127.5" /><path d="M39.2 234.5V239.1" /><path d="M50.2 234.5V239.1" /><path d="M61.3 234.5V239.1" /><path d="M72.3 234.5V239.1" /><path d="M83.4 234.5V239.1" /><path d="M94.4 234.5V239.1" /><path d="M105.4 234.5V239.1" /><path d="M116.5 234.5V239.1" /><path d="M127.5 234.5V239.1" /></g>
<text class="yl" transform="translate(31.8 180.4) rotate(-90) scale(1.14 1)">3</text>
<text class="yl" transform="translate(31.8 191) rotate(-90) scale(1.14 1)">2</text>
<text class="yl" transform="translate(31.8 201.6) rotate(-90) scale(1.14 1)">1</text>
<text class="yl" transform="translate(31.8 212.2) rotate(-90) scale(1.14 1)">0</text>
<text class="yl" transform="translate(31.8 232.4) rotate(-90) scale(1.14 1)">−2</text>
<text class="tt" x="43.6" y="174.8">C7 ,  66 metabolites</text>
</g>
<g>
<g fill="none" stroke="#84C436" stroke-width="0.85" stroke-linejoin="round"><polyline points="167.3,192.8 178.3,217.3 189.4,219.6 200.4,211.5 211.5,196.1 222.5,218.9 233.5,203.5 244.6,213.3 255.6,214.7"/><polyline points="167.3,194 178.3,217.2 189.4,197.5 200.4,213.6 211.5,217.3 222.5,219.7 233.5,218.4 244.6,210.1 255.6,219.8"/><polyline points="167.3,189.2 178.3,215.7 189.4,217.9 200.4,219 211.5,215.8 222.5,219 233.5,222.6 244.6,214.3 255.6,208.9"/><polyline points="167.3,188 178.3,212.6 189.4,214.5 200.4,212.7 211.5,214.5 222.5,221.9 233.5,213.5 244.6,215.8 255.6,195.9"/><polyline points="167.3,193.4 178.3,198.7 189.4,203.9 200.4,217.7 211.5,221.3 222.5,198.1 233.5,221.9 244.6,216.7 255.6,212.5"/><polyline points="167.3,187.5 178.3,214.5 189.4,212.8 200.4,213.6 211.5,213.2 222.5,220.4 233.5,216.2 244.6,203.6 255.6,217.8"/><polyline points="167.3,197.8 178.3,215.4 189.4,216.3 200.4,219.2 211.5,216.2 222.5,212.7 233.5,212.7 244.6,219.9 255.6,210.9"/><polyline points="167.3,190.7 178.3,218.1 189.4,217.8 200.4,215.5 211.5,222.1 222.5,200.6 233.5,200 244.6,213 255.6,211.5"/><polyline points="167.3,203.2 178.3,217.5 189.4,215.5 200.4,200.7 211.5,220 222.5,218.8 233.5,220.2 244.6,214.7 255.6,211.6"/><polyline points="167.3,190.1 178.3,215.9 189.4,216.8 200.4,214.6 211.5,212.5 222.5,219.5 233.5,218.6 244.6,221.4 255.6,213.6"/><polyline points="167.3,187.1 178.3,214.9 189.4,213.1 200.4,216.9 211.5,222.1 222.5,220.7 233.5,215.4 244.6,213.3 255.6,209.8"/><polyline points="167.3,191.7 178.3,195.9 189.4,211.4 200.4,211.5 211.5,208.8 222.5,215.5 233.5,216.8 244.6,201.7 255.6,215.5"/><polyline points="167.3,202.2 178.3,214.5 189.4,210.1 200.4,214.3 211.5,197.5 222.5,213.5 233.5,219 244.6,215.6 255.6,194.5"/><polyline points="167.3,198.3 178.3,210.7 189.4,214.3 200.4,203.5 211.5,212.5 222.5,216.9 233.5,217.8 244.6,217.5 255.6,214.2"/><polyline points="167.3,191.3 178.3,202.4 189.4,215.3 200.4,213 211.5,195.7 222.5,198.6 233.5,219.9 244.6,215.8 255.6,216"/><polyline points="167.3,184.9 178.3,218.1 189.4,212.7 200.4,219.6 211.5,211.7 222.5,197.2 233.5,212.8 244.6,216 255.6,201.6"/><polyline points="167.3,199.7 178.3,217 189.4,219.5 200.4,210.1 211.5,217 222.5,214.7 233.5,221.1 244.6,211.9 255.6,212.4"/><polyline points="167.3,184.4 178.3,213.8 189.4,222.1 200.4,215.9 211.5,206.8 222.5,215.6 233.5,214.8 244.6,210.9 255.6,214.2"/><polyline points="167.3,200.2 178.3,217.7 189.4,214.2 200.4,213.4 211.5,213.8 222.5,219.7 233.5,200.7 244.6,222.7 255.6,216.4"/><polyline points="167.3,192 178.3,219.8 189.4,213.2 200.4,219.9 211.5,216.7 222.5,216.5 233.5,215.1 244.6,216.1 255.6,216.5"/><polyline points="167.3,193.6 178.3,211.5 189.4,216.5 200.4,221.3 211.5,216.6 222.5,219.8 233.5,219.3 244.6,215.8 255.6,217.7"/><polyline points="167.3,192.5 178.3,222.2 189.4,214.8 200.4,214.1 211.5,215.1 222.5,206.1 233.5,215.2 244.6,216.5 255.6,215.7"/><polyline points="167.3,191.3 178.3,218.5 189.4,213 200.4,219.6 211.5,198.6 222.5,214.2 233.5,220.6 244.6,213.9 255.6,216.2"/><polyline points="167.3,190.8 178.3,214 189.4,219.3 200.4,218.6 211.5,201.3 222.5,217.7 233.5,207 244.6,211.2 255.6,215.7"/><polyline points="167.3,200.3 178.3,214.5 189.4,213.1 200.4,214.6 211.5,212.3 222.5,223.1 233.5,218.1 244.6,216.8 255.6,211.4"/><polyline points="167.3,192.2 178.3,217.9 189.4,213.3 200.4,217.9 211.5,199.5 222.5,216.3 233.5,217.9 244.6,216.1 255.6,219"/><polyline points="167.3,197.4 178.3,216.1 189.4,213.9 200.4,203.8 211.5,211.6 222.5,221.4 233.5,219.8 244.6,213.4 255.6,215.4"/><polyline points="167.3,196.9 178.3,218.3 189.4,218.7 200.4,215 211.5,192.4 222.5,220.7 233.5,216.8 244.6,216.1 255.6,213.6"/><polyline points="167.3,193.7 178.3,223.3 189.4,198 200.4,208.1 211.5,213.4 222.5,219.5 233.5,218.9 244.6,211.1 255.6,218.2"/><polyline points="167.3,188.6 178.3,219.4 189.4,211.9 200.4,218.3 211.5,219.2 222.5,216.4 233.5,214.8 244.6,218.7 255.6,211"/><polyline points="167.3,184.7 178.3,219 189.4,218.6 200.4,214.1 211.5,210.6 222.5,203.2 233.5,213.5 244.6,213.4 255.6,215.8"/><polyline points="167.3,195.8 178.3,218.1 189.4,214.6 200.4,220 211.5,220.5 222.5,219.5 233.5,216.2 244.6,194.1 255.6,218"/><polyline points="167.3,193.7 178.3,216.8 189.4,215.5 200.4,219.6 211.5,209.7 222.5,220.7 233.5,217.6 244.6,213 255.6,211.3"/><polyline points="167.3,203.6 178.3,205.4 189.4,222.7 200.4,218 211.5,214.2 222.5,218.5 233.5,217.2 244.6,206.1 255.6,200.6"/><polyline points="167.3,192.2 178.3,210.2 189.4,211.2 200.4,214.8 211.5,214.7 222.5,217.8 233.5,214.8 244.6,218.5 255.6,210.1"/><polyline points="167.3,189.5 178.3,215.1 189.4,223.2 200.4,203.3 211.5,213.5 222.5,220.2 233.5,216.2 244.6,213.2 255.6,211.7"/><polyline points="167.3,188 178.3,211.9 189.4,195 200.4,221.2 211.5,211.8 222.5,215.8 233.5,219.2 244.6,210.9 255.6,214"/><polyline points="167.3,192.3 178.3,216.8 189.4,195.7 200.4,215.9 211.5,208.1 222.5,217.2 233.5,218.6 244.6,215.5 255.6,217.8"/><polyline points="167.3,192.9 178.3,197.6 189.4,217.8 200.4,214.3 211.5,213.9 222.5,223.3 233.5,218.3 244.6,217 255.6,212.4"/><polyline points="167.3,184.2 178.3,218.3 189.4,216.9 200.4,215.9 211.5,215.7 222.5,220.3 233.5,216.4 244.6,211.6 255.6,215.4"/><polyline points="167.3,196.1 178.3,196.5 189.4,210.8 200.4,211.3 211.5,212.6 222.5,212.2 233.5,217.5 244.6,219.3 255.6,215.2"/><polyline points="167.3,200.2 178.3,220.5 189.4,212.4 200.4,217.1 211.5,211.9 222.5,213.5 233.5,219.8 244.6,217.2 255.6,214.5"/><polyline points="167.3,194.1 178.3,218.9 189.4,212.1 200.4,218.2 211.5,211.9 222.5,222.1 233.5,217.9 244.6,215.6 255.6,208.3"/><polyline points="167.3,188.9 178.3,223.3 189.4,213.8 200.4,223.2 211.5,198.6 222.5,223 233.5,219.1 244.6,216.3 255.6,197.1"/><polyline points="167.3,197.3 178.3,212.4 189.4,217.4 200.4,213.1 211.5,214.4 222.5,225.9 233.5,216.8 244.6,217.2 255.6,217.3"/><polyline points="167.3,195.1 178.3,218.2 189.4,211.9 200.4,216.9 211.5,217.1 222.5,216.8 233.5,200.5 244.6,222.7 255.6,211.4"/><polyline points="167.3,190.3 178.3,211.9 189.4,213.4 200.4,216.3 211.5,212.1 222.5,217.2 233.5,211.9 244.6,216.1 255.6,218.8"/><polyline points="167.3,198.9 178.3,216.2 189.4,205.8 200.4,221.5 211.5,211.3 222.5,223.6 233.5,212.6 244.6,209.2 255.6,220"/><polyline points="167.3,191.1 178.3,202.4 189.4,219 200.4,198.1 211.5,217.4 222.5,219.9 233.5,221.2 244.6,213.9 255.6,214.8"/><polyline points="167.3,189.1 178.3,221 189.4,195 200.4,217.7 211.5,217.2 222.5,220.9 233.5,220.5 244.6,214.3 255.6,216"/><polyline points="167.3,196.9 178.3,212.2 189.4,217.4 200.4,224.1 211.5,215 222.5,216 233.5,217.9 244.6,202.9 255.6,205"/><polyline points="167.3,188.1 178.3,215.8 189.4,210.8 200.4,216.4 211.5,222.7 222.5,221.9 233.5,221.1 244.6,217.1 255.6,210.2"/><polyline points="167.3,199.4 178.3,215.4 189.4,213.7 200.4,222.8 211.5,201.6 222.5,217.9 233.5,215 244.6,216.9 255.6,191.4"/><polyline points="167.3,197.4 178.3,217.1 189.4,220.5 200.4,198.8 211.5,215 222.5,217.6 233.5,194.5 244.6,214.2 255.6,210.7"/><polyline points="167.3,184.3 178.3,216.8 189.4,209.6 200.4,214.2 211.5,198.1 222.5,222 233.5,215.4 244.6,215.3 255.6,220.5"/><polyline points="167.3,197.5 178.3,219.7 189.4,215.8 200.4,216.8 211.5,212.2 222.5,220.1 233.5,213.5 244.6,214.1 255.6,213.6"/><polyline points="167.3,195.1 178.3,216.2 189.4,198.4 200.4,204.5 211.5,221.6 222.5,219 233.5,215.4 244.6,221 255.6,214.1"/><polyline points="167.3,204.3 178.3,204.1 189.4,201.7 200.4,218.1 211.5,214.6 222.5,217.5 233.5,222.6 244.6,218 255.6,215"/><polyline points="167.3,194.8 178.3,221.5 189.4,213.3 200.4,214.9 211.5,217.2 222.5,217.4 233.5,213.7 244.6,215.5 255.6,218.4"/><polyline points="167.3,190 178.3,191.5 189.4,209 200.4,213.3 211.5,213.2 222.5,197.8 233.5,218.8 244.6,219.6 255.6,216.6"/></g>
<polyline points="167.3,188.2 178.3,215.9 189.4,216.3 200.4,216.8 211.5,215.4 222.5,218.6 233.5,217.3 244.6,215.4 255.6,215" fill="none" stroke="#000" stroke-width="1.6" stroke-linejoin="round" stroke-linecap="round"/>
<g stroke="#333" stroke-width="0.95" fill="none"><path d="M167.3 181.5V234.5" /><path d="M163.8 234.5H167.3" /><path d="M163.8 223.9H167.3" /><path d="M163.8 213.3H167.3" /><path d="M163.8 202.7H167.3" /><path d="M163.8 192.1H167.3" /><path d="M163.8 181.5H167.3" /><path d="M167.3 234.5H255.6" /><path d="M167.3 234.5V239.1" /><path d="M178.3 234.5V239.1" /><path d="M189.4 234.5V239.1" /><path d="M200.4 234.5V239.1" /><path d="M211.5 234.5V239.1" /><path d="M222.5 234.5V239.1" /><path d="M233.5 234.5V239.1" /><path d="M244.6 234.5V239.1" /><path d="M255.6 234.5V239.1" /></g>
<text class="yl" transform="translate(159.9 180.4) rotate(-90) scale(1.14 1)">3</text>
<text class="yl" transform="translate(159.9 191) rotate(-90) scale(1.14 1)">2</text>
<text class="yl" transform="translate(159.9 201.6) rotate(-90) scale(1.14 1)">1</text>
<text class="yl" transform="translate(159.9 212.2) rotate(-90) scale(1.14 1)">0</text>
<text class="yl" transform="translate(159.9 232.4) rotate(-90) scale(1.14 1)">−2</text>
<text class="tt" x="169.7" y="174.5">C8 ,  60 metabolites</text>
</g>
<g>
<g fill="none" stroke="#4A87C4" stroke-width="0.85" stroke-linejoin="round"><polyline points="295.7,215.2 306.7,206.1 317.8,216.3 328.8,209.3 339.9,203.3 350.9,212.3 361.9,185.4 373,210 384,217.9"/><polyline points="295.7,204 306.7,213.2 317.8,218.4 328.8,218.5 339.9,225.2 350.9,212.5 361.9,190.2 373,207.1 384,213.8"/><polyline points="295.7,219.9 306.7,215.2 317.8,214.3 328.8,218.3 339.9,219.6 350.9,216.8 361.9,192.7 373,214.5 384,217"/><polyline points="295.7,203.3 306.7,204.1 317.8,203.8 328.8,210.2 339.9,210 350.9,216.5 361.9,190.1 373,206.9 384,215.6"/><polyline points="295.7,207.7 306.7,211.8 317.8,209.2 328.8,214.5 339.9,218.6 350.9,216.7 361.9,184.7 373,194.7 384,214.5"/><polyline points="295.7,219 306.7,213.5 317.8,214.5 328.8,214 339.9,197.7 350.9,207.9 361.9,196.8 373,212 384,209"/><polyline points="295.7,195.5 306.7,217.7 317.8,199.9 328.8,208.4 339.9,210.2 350.9,210.1 361.9,193.8 373,217.2 384,200.4"/><polyline points="295.7,209.8 306.7,215.7 317.8,204.9 328.8,216 339.9,216.2 350.9,214.1 361.9,189.6 373,216 384,206.1"/><polyline points="295.7,220.9 306.7,215.6 317.8,215.3 328.8,207.1 339.9,218.4 350.9,220 361.9,187.7 373,211.2 384,213.4"/><polyline points="295.7,214.5 306.7,210.8 317.8,215.8 328.8,212.8 339.9,211.6 350.9,207.9 361.9,190.1 373,207.4 384,217.4"/><polyline points="295.7,206.7 306.7,210.5 317.8,211.7 328.8,214.5 339.9,208.1 350.9,211.7 361.9,184.7 373,212.8 384,213.9"/><polyline points="295.7,204.7 306.7,214.6 317.8,199.7 328.8,212.4 339.9,218.5 350.9,214.3 361.9,187.5 373,212.2 384,209.3"/><polyline points="295.7,211.6 306.7,212 317.8,200.4 328.8,218 339.9,215.8 350.9,202.6 361.9,183.4 373,208.7 384,218.5"/><polyline points="295.7,210.3 306.7,210.4 317.8,207 328.8,222.9 339.9,213.6 350.9,209.2 361.9,187.7 373,217.2 384,219.4"/><polyline points="295.7,210.4 306.7,208.3 317.8,210.5 328.8,215 339.9,220.2 350.9,213.2 361.9,190.4 373,217.1 384,213.4"/><polyline points="295.7,213.7 306.7,218.5 317.8,197.2 328.8,223 339.9,214.3 350.9,216.9 361.9,186.6 373,209.9 384,198.1"/><polyline points="295.7,218.6 306.7,216.7 317.8,207.6 328.8,198.6 339.9,220 350.9,215.5 361.9,192.7 373,214.7 384,208.1"/><polyline points="295.7,206.2 306.7,215.6 317.8,212.1 328.8,213.6 339.9,220 350.9,219.3 361.9,186.4 373,208.3 384,203.8"/><polyline points="295.7,212.4 306.7,198.3 317.8,206.5 328.8,208.7 339.9,210.7 350.9,219.5 361.9,189.8 373,217.4 384,224.9"/><polyline points="295.7,215.1 306.7,208.6 317.8,211 328.8,219.6 339.9,218 350.9,208.9 361.9,198.3 373,216.5 384,212.5"/><polyline points="295.7,212.3 306.7,220.4 317.8,206 328.8,214.6 339.9,208.8 350.9,212.4 361.9,188.8 373,205.7 384,208.4"/><polyline points="295.7,204.5 306.7,205.7 317.8,209 328.8,210.4 339.9,206.8 350.9,211.9 361.9,185.7 373,201.1 384,209"/><polyline points="295.7,214.9 306.7,207.7 317.8,213.2 328.8,215.6 339.9,218.4 350.9,210 361.9,187.5 373,205.9 384,213.2"/><polyline points="295.7,211.3 306.7,210.1 317.8,209.6 328.8,220.5 339.9,214.4 350.9,208.6 361.9,194.2 373,215.6 384,199.7"/><polyline points="295.7,212.7 306.7,209.5 317.8,214.2 328.8,210 339.9,217.3 350.9,219.4 361.9,188.1 373,209.1 384,212.7"/><polyline points="295.7,194.5 306.7,206.7 317.8,208.1 328.8,218.2 339.9,209.6 350.9,207.4 361.9,193 373,214.9 384,212.7"/><polyline points="295.7,220.6 306.7,215.3 317.8,205.2 328.8,212.2 339.9,218.4 350.9,215.3 361.9,184.6 373,214 384,206.7"/><polyline points="295.7,215.8 306.7,208.6 317.8,212.5 328.8,205.9 339.9,205.6 350.9,215.4 361.9,183.4 373,186.8 384,196.3"/><polyline points="295.7,211 306.7,214.3 317.8,207.5 328.8,213.3 339.9,224 350.9,211.6 361.9,186.3 373,206 384,222.3"/><polyline points="295.7,203.1 306.7,213.4 317.8,211.3 328.8,211.8 339.9,212.7 350.9,207 361.9,190.6 373,214 384,219.5"/><polyline points="295.7,210.8 306.7,223 317.8,214.3 328.8,213.1 339.9,213.5 350.9,206 361.9,188.8 373,214.3 384,211.4"/><polyline points="295.7,212.3 306.7,212 317.8,215.8 328.8,222.2 339.9,212.7 350.9,233.6 361.9,192.5 373,207.5 384,219.6"/><polyline points="295.7,204.2 306.7,201.5 317.8,211.8 328.8,192.6 339.9,210.9 350.9,207.4 361.9,187.8 373,215.4 384,230.8"/><polyline points="295.7,208 306.7,219 317.8,212.9 328.8,209.6 339.9,205.7 350.9,213.8 361.9,195.6 373,218 384,215.8"/></g>
<polyline points="295.7,210.6 306.7,211.4 317.8,209.5 328.8,210.8 339.9,213.4 350.9,212.7 361.9,185.5 373,210.8 384,212.7" fill="none" stroke="#000" stroke-width="1.6" stroke-linejoin="round" stroke-linecap="round"/>
<g stroke="#333" stroke-width="0.95" fill="none"><path d="M295.7 180.7V234.5" /><path d="M292.2 234.5H295.7" /><path d="M292.2 223.7H295.7" /><path d="M292.2 213H295.7" /><path d="M292.2 202.2H295.7" /><path d="M292.2 191.5H295.7" /><path d="M292.2 180.7H295.7" /><path d="M295.7 234.5H384" /><path d="M295.7 234.5V239.1" /><path d="M306.7 234.5V239.1" /><path d="M317.8 234.5V239.1" /><path d="M328.8 234.5V239.1" /><path d="M339.9 234.5V239.1" /><path d="M350.9 234.5V239.1" /><path d="M361.9 234.5V239.1" /><path d="M373 234.5V239.1" /><path d="M384 234.5V239.1" /></g>
<text class="yl" transform="translate(288.3 179.6) rotate(-90) scale(1.14 1)">3</text>
<text class="yl" transform="translate(288.3 190.4) rotate(-90) scale(1.14 1)">2</text>
<text class="yl" transform="translate(288.3 201.1) rotate(-90) scale(1.14 1)">1</text>
<text class="yl" transform="translate(288.3 211.9) rotate(-90) scale(1.14 1)">0</text>
<text class="yl" transform="translate(288.3 232.4) rotate(-90) scale(1.14 1)">−2</text>
<text class="tt" x="301.7" y="174.5">C9 ,  34 metabolites</text>
</g>
<g>
<g fill="none" stroke="#60BDCA" stroke-width="0.85" stroke-linejoin="round"><polyline points="39.2,301.3 50.2,276.8 61.3,296.8 72.3,300.4 83.4,288.1 94.4,282.8 105.4,303.5 116.5,301.4 127.5,302"/><polyline points="39.2,300.3 50.2,273.9 61.3,296.6 72.3,296.9 83.4,299.5 94.4,277.4 105.4,287.4 116.5,297.6 127.5,300.6"/><polyline points="39.2,298.6 50.2,280.2 61.3,295.4 72.3,299 83.4,288.8 94.4,284.8 105.4,303.6 116.5,282.6 127.5,301"/><polyline points="39.2,301.1 50.2,283.1 61.3,299.9 72.3,299.5 83.4,299.3 94.4,284.4 105.4,303.1 116.5,295.1 127.5,300.6"/><polyline points="39.2,303.2 50.2,278.5 61.3,300 72.3,298 83.4,298.1 94.4,286.2 105.4,299.5 116.5,295.4 127.5,299.4"/><polyline points="39.2,301.8 50.2,282.1 61.3,302.2 72.3,298.9 83.4,296.7 94.4,280.9 105.4,298.1 116.5,302.5 127.5,297.5"/><polyline points="39.2,300.1 50.2,274.9 61.3,296.1 72.3,296.9 83.4,296.5 94.4,275.3 105.4,295 116.5,299.3 127.5,298.1"/><polyline points="39.2,299.3 50.2,278.4 61.3,301 72.3,298 83.4,296.2 94.4,280.6 105.4,300.5 116.5,299.7 127.5,299.9"/><polyline points="39.2,290.5 50.2,281.5 61.3,298 72.3,291 83.4,295.3 94.4,291.3 105.4,296.9 116.5,299.1 127.5,299.4"/><polyline points="39.2,299.3 50.2,280 61.3,300.3 72.3,299.8 83.4,297.7 94.4,277 105.4,299.3 116.5,297.2 127.5,300.7"/><polyline points="39.2,301 50.2,282.9 61.3,297.6 72.3,301.2 83.4,289.1 94.4,277.6 105.4,295.9 116.5,302 127.5,298.7"/><polyline points="39.2,283.4 50.2,276.9 61.3,298.3 72.3,297.1 83.4,297.5 94.4,281.6 105.4,299.2 116.5,296.8 127.5,297.9"/><polyline points="39.2,300.6 50.2,286.5 61.3,296.2 72.3,295.2 83.4,294 94.4,285.4 105.4,298.7 116.5,297.7 127.5,301.3"/><polyline points="39.2,300.4 50.2,280.6 61.3,301.1 72.3,299.3 83.4,299.1 94.4,285.1 105.4,297.7 116.5,295.9 127.5,293.9"/><polyline points="39.2,300.8 50.2,277.9 61.3,296.3 72.3,301.8 83.4,299.4 94.4,280.6 105.4,298.6 116.5,302.5 127.5,300.2"/><polyline points="39.2,304.5 50.2,273.8 61.3,295 72.3,297.9 83.4,297.8 94.4,276.6 105.4,298.1 116.5,300 127.5,301.1"/><polyline points="39.2,287.9 50.2,276.5 61.3,304.6 72.3,298 83.4,300.3 94.4,277.6 105.4,299.8 116.5,298.3 127.5,300.2"/><polyline points="39.2,300.9 50.2,275.5 61.3,284.6 72.3,300.4 83.4,287.7 94.4,281.8 105.4,297.8 116.5,298.4 127.5,298.7"/><polyline points="39.2,304 50.2,284.5 61.3,299.2 72.3,296.8 83.4,292.8 94.4,282.9 105.4,298.9 116.5,296.9 127.5,301.9"/><polyline points="39.2,289.4 50.2,278.9 61.3,281.6 72.3,300 83.4,298.4 94.4,279.9 105.4,294.9 116.5,293.9 127.5,297.8"/><polyline points="39.2,302.8 50.2,274.6 61.3,299.5 72.3,298.2 83.4,301.2 94.4,276.4 105.4,304 116.5,294.2 127.5,294.2"/><polyline points="39.2,301.7 50.2,272.3 61.3,298.3 72.3,298 83.4,283.8 94.4,278.9 105.4,300.6 116.5,297.2 127.5,298.4"/><polyline points="39.2,311.3 50.2,274.5 61.3,286.7 72.3,300.7 83.4,298.9 94.4,280 105.4,298.7 116.5,298.7 127.5,279.7"/><polyline points="39.2,291.5 50.2,284.9 61.3,297.1 72.3,299.6 83.4,300.2 94.4,282.2 105.4,301.9 116.5,300.9 127.5,302.4"/><polyline points="39.2,313.1 50.2,284.8 61.3,297 72.3,301.4 83.4,298 94.4,280.5 105.4,300.4 116.5,295.9 127.5,300.3"/><polyline points="39.2,300.6 50.2,278 61.3,294.5 72.3,303.4 83.4,297.2 94.4,280.5 105.4,286.8 116.5,293.8 127.5,299"/><polyline points="39.2,299.4 50.2,286 61.3,300.4 72.3,300.7 83.4,300.2 94.4,284.3 105.4,302.5 116.5,286.4 127.5,302.4"/><polyline points="39.2,302 50.2,282.1 61.3,299.1 72.3,300 83.4,302.2 94.4,284.2 105.4,303.6 116.5,300.6 127.5,304.9"/><polyline points="39.2,301.3 50.2,282.3 61.3,296.2 72.3,302.9 83.4,296.1 94.4,283.7 105.4,300.6 116.5,296.7 127.5,302.4"/><polyline points="39.2,287.7 50.2,280.1 61.3,300 72.3,296.6 83.4,301 94.4,285.7 105.4,303.6 116.5,297.8 127.5,298.9"/><polyline points="39.2,300.5 50.2,278.6 61.3,299.5 72.3,287.9 83.4,302.2 94.4,283.9 105.4,299 116.5,296.4 127.5,297.3"/><polyline points="39.2,299.7 50.2,286 61.3,300.2 72.3,295.3 83.4,295.9 94.4,285.1 105.4,297 116.5,295.1 127.5,299.9"/><polyline points="39.2,295.6 50.2,270.7 61.3,300.5 72.3,304.9 83.4,294.3 94.4,278.8 105.4,300.8 116.5,297.9 127.5,301.1"/><polyline points="39.2,298.6 50.2,281 61.3,297.1 72.3,298.2 83.4,301.4 94.4,283 105.4,298.6 116.5,301.1 127.5,293.6"/><polyline points="39.2,296.4 50.2,277.8 61.3,303.7 72.3,302.5 83.4,285.3 94.4,278.6 105.4,297.8 116.5,304.5 127.5,298.3"/><polyline points="39.2,301.7 50.2,282.5 61.3,297.1 72.3,298.8 83.4,299.9 94.4,283.6 105.4,300.2 116.5,297.6 127.5,300.5"/><polyline points="39.2,304.3 50.2,280.6 61.3,293.6 72.3,299.1 83.4,297.3 94.4,280 105.4,298.9 116.5,300.4 127.5,294.8"/><polyline points="39.2,306.2 50.2,275.6 61.3,295.3 72.3,297.6 83.4,295.9 94.4,285.2 105.4,301.1 116.5,297.4 127.5,299.2"/><polyline points="39.2,287 50.2,269.7 61.3,293.9 72.3,302.5 83.4,297.3 94.4,280.7 105.4,296.5 116.5,297.7 127.5,297"/><polyline points="39.2,301.5 50.2,284.1 61.3,314.6 72.3,298.7 83.4,297 94.4,282.6 105.4,283.4 116.5,301 127.5,302.1"/><polyline points="39.2,303.3 50.2,278.5 61.3,300.2 72.3,295.5 83.4,293.5 94.4,280 105.4,300.8 116.5,299.9 127.5,302.4"/><polyline points="39.2,298.7 50.2,277.8 61.3,297.5 72.3,298.1 83.4,296.7 94.4,281.4 105.4,299.3 116.5,302.7 127.5,297.3"/><polyline points="39.2,301.6 50.2,279.7 61.3,299.4 72.3,299.2 83.4,298.3 94.4,285.3 105.4,297.8 116.5,300.7 127.5,298.1"/><polyline points="39.2,300.2 50.2,281.9 61.3,302.8 72.3,282.3 83.4,297.7 94.4,286.2 105.4,302.1 116.5,301.4 127.5,300.3"/><polyline points="39.2,301.2 50.2,273.7 61.3,295.8 72.3,300.1 83.4,301.6 94.4,279.1 105.4,295.8 116.5,296.1 127.5,304.8"/><polyline points="39.2,299.8 50.2,276.8 61.3,296.1 72.3,297.3 83.4,295.1 94.4,287.1 105.4,299.8 116.5,299.9 127.5,302.9"/><polyline points="39.2,297.4 50.2,278.1 61.3,295.7 72.3,302.1 83.4,296.6 94.4,283.7 105.4,302.7 116.5,298.9 127.5,301.6"/><polyline points="39.2,300.7 50.2,281.1 61.3,298.7 72.3,304.9 83.4,301.1 94.4,278.1 105.4,300.6 116.5,293.5 127.5,298.6"/></g>
<polyline points="39.2,300.1 50.2,276.5 61.3,298.5 72.3,299 83.4,298.1 94.4,278.3 105.4,300.1 116.5,298.1 127.5,299.8" fill="none" stroke="#000" stroke-width="1.6" stroke-linejoin="round" stroke-linecap="round"/>
<g stroke="#333" stroke-width="0.95" fill="none"><path d="M39.2 262.3V315.5" /><path d="M35.7 315.5H39.2" /><path d="M35.7 304.9H39.2" /><path d="M35.7 294.2H39.2" /><path d="M35.7 283.6H39.2" /><path d="M35.7 272.9H39.2" /><path d="M35.7 262.3H39.2" /><path d="M39.2 315.5H127.5" /><path d="M39.2 315.5V320.1" /><path d="M50.2 315.5V320.1" /><path d="M61.3 315.5V320.1" /><path d="M72.3 315.5V320.1" /><path d="M83.4 315.5V320.1" /><path d="M94.4 315.5V320.1" /><path d="M105.4 315.5V320.1" /><path d="M116.5 315.5V320.1" /><path d="M127.5 315.5V320.1" /></g>
<text class="yl" transform="translate(31.8 261.2) rotate(-90) scale(1.14 1)">3</text>
<text class="yl" transform="translate(31.8 271.8) rotate(-90) scale(1.14 1)">2</text>
<text class="yl" transform="translate(31.8 282.5) rotate(-90) scale(1.14 1)">1</text>
<text class="yl" transform="translate(31.8 293.1) rotate(-90) scale(1.14 1)">0</text>
<text class="yl" transform="translate(31.8 313.4) rotate(-90) scale(1.14 1)">−2</text>
<text class="tt" x="43.6" y="256.1">C10,  48 metabolites</text>
</g>
<g>
<g fill="none" stroke="#6490D3" stroke-width="0.85" stroke-linejoin="round"><polyline points="167.6,295.6 178.6,272.3 189.7,299.8 200.7,298.7 211.8,285.2 222.8,299.7 233.8,299.2 244.9,297.5 255.9,294.5"/><polyline points="167.6,296.2 178.6,280.2 189.7,302.1 200.7,300.4 211.8,289.3 222.8,280.6 233.8,299.3 244.9,302.1 255.9,296.8"/><polyline points="167.6,287.2 178.6,274.6 189.7,294.4 200.7,294.7 211.8,278.1 222.8,299.2 233.8,302 244.9,282.6 255.9,294.7"/><polyline points="167.6,290.9 178.6,284.8 189.7,299.5 200.7,300.7 211.8,282.9 222.8,295.7 233.8,304 244.9,298.9 255.9,302.6"/><polyline points="167.6,299.4 178.6,272 189.7,299.8 200.7,298.7 211.8,288.2 222.8,302.2 233.8,292.2 244.9,302.9 255.9,287.6"/><polyline points="167.6,296.2 178.6,280.4 189.7,306.7 200.7,304.8 211.8,287.4 222.8,296.3 233.8,298.2 244.9,300.1 255.9,297"/><polyline points="167.6,300.1 178.6,281.3 189.7,299.4 200.7,303.6 211.8,286.6 222.8,297.4 233.8,294.5 244.9,296.5 255.9,298.8"/><polyline points="167.6,296.8 178.6,280.8 189.7,299.2 200.7,299.8 211.8,285.9 222.8,295.8 233.8,293.5 244.9,300.1 255.9,296.3"/><polyline points="167.6,294.4 178.6,276.4 189.7,296 200.7,300.8 211.8,279.1 222.8,299.6 233.8,297.2 244.9,300.7 255.9,295"/><polyline points="167.6,300.1 178.6,276.8 189.7,284.1 200.7,302.9 211.8,283.1 222.8,298.4 233.8,297.6 244.9,302 255.9,301.8"/><polyline points="167.6,295.4 178.6,274 189.7,297 200.7,304.2 211.8,279.1 222.8,295.2 233.8,303.5 244.9,276.6 255.9,288.8"/><polyline points="167.6,296.6 178.6,278.8 189.7,298.6 200.7,314.7 211.8,290.7 222.8,300.7 233.8,293 244.9,302.5 255.9,303.8"/><polyline points="167.6,298.3 178.6,277.3 189.7,298.5 200.7,296.2 211.8,285.4 222.8,298.3 233.8,298.9 244.9,300.3 255.9,298.9"/><polyline points="167.6,291.6 178.6,275.4 189.7,302.3 200.7,298.4 211.8,280.9 222.8,303 233.8,302.4 244.9,296.8 255.9,302.5"/><polyline points="167.6,298.3 178.6,271.4 189.7,308 200.7,294.9 211.8,280.9 222.8,300.8 233.8,292.7 244.9,301.6 255.9,301.1"/><polyline points="167.6,283.7 178.6,272.2 189.7,296.4 200.7,285.9 211.8,282.2 222.8,297.5 233.8,296.1 244.9,302.9 255.9,297.6"/><polyline points="167.6,299.2 178.6,277.8 189.7,304.7 200.7,300.6 211.8,286.1 222.8,298.5 233.8,299.3 244.9,298.5 255.9,307.2"/><polyline points="167.6,300 178.6,282.6 189.7,300.3 200.7,296.8 211.8,290.4 222.8,303.1 233.8,296.4 244.9,299 255.9,301.9"/><polyline points="167.6,298.2 178.6,277 189.7,302.2 200.7,302.3 211.8,288.8 222.8,297.1 233.8,295.8 244.9,301.8 255.9,301.3"/><polyline points="167.6,303.1 178.6,287.5 189.7,305.6 200.7,302.3 211.8,286.9 222.8,297.5 233.8,303 244.9,299.1 255.9,291.1"/><polyline points="167.6,295.4 178.6,278.3 189.7,298.5 200.7,301.6 211.8,284.4 222.8,286.5 233.8,298.1 244.9,300.7 255.9,297.7"/><polyline points="167.6,294.5 178.6,269.9 189.7,303 200.7,297.3 211.8,282.6 222.8,299.9 233.8,300.5 244.9,301.8 255.9,298.9"/><polyline points="167.6,300.2 178.6,274.5 189.7,298.7 200.7,293.5 211.8,284.6 222.8,302.9 233.8,294.9 244.9,287.8 255.9,301.4"/><polyline points="167.6,297.8 178.6,268.6 189.7,297.6 200.7,300.9 211.8,279.3 222.8,301.8 233.8,302.7 244.9,295.6 255.9,301.3"/><polyline points="167.6,304.1 178.6,277.6 189.7,299.5 200.7,297.1 211.8,284.5 222.8,303.7 233.8,292.7 244.9,301 255.9,304.4"/><polyline points="167.6,299.8 178.6,280.8 189.7,295.5 200.7,299.8 211.8,280.3 222.8,299.5 233.8,301.2 244.9,298.9 255.9,301.2"/><polyline points="167.6,300.6 178.6,287.8 189.7,304.1 200.7,300.4 211.8,289.7 222.8,299 233.8,296.8 244.9,303.6 255.9,298.5"/><polyline points="167.6,298.2 178.6,286.2 189.7,302.6 200.7,298.9 211.8,288.3 222.8,300.8 233.8,303.7 244.9,303.9 255.9,292.6"/><polyline points="167.6,298.2 178.6,278.7 189.7,284.5 200.7,302.6 211.8,283.5 222.8,298.1 233.8,282.2 244.9,302.5 255.9,301"/><polyline points="167.6,301.1 178.6,288.4 189.7,302.3 200.7,297.8 211.8,284.2 222.8,313.7 233.8,299.5 244.9,299.5 255.9,292.6"/><polyline points="167.6,295.5 178.6,272.6 189.7,301.5 200.7,302.6 211.8,280 222.8,293.2 233.8,299 244.9,285.3 255.9,307.2"/><polyline points="167.6,296.2 178.6,290.1 189.7,301.3 200.7,301.7 211.8,286.2 222.8,298.6 233.8,298.7 244.9,297.4 255.9,301.1"/><polyline points="167.6,295.3 178.6,270.7 189.7,304.7 200.7,297.8 211.8,287.5 222.8,300.5 233.8,294.4 244.9,296.8 255.9,294"/><polyline points="167.6,299.1 178.6,278.2 189.7,298.7 200.7,302.9 211.8,287.9 222.8,294.5 233.8,303 244.9,300.8 255.9,302.9"/><polyline points="167.6,295.9 178.6,278.9 189.7,281.8 200.7,291.6 211.8,288.5 222.8,300.2 233.8,292.6 244.9,297.8 255.9,301.3"/><polyline points="167.6,295.9 178.6,275.1 189.7,303.4 200.7,300.7 211.8,284.8 222.8,297.5 233.8,294.7 244.9,300.5 255.9,285.4"/><polyline points="167.6,299.9 178.6,272.6 189.7,300.5 200.7,296.9 211.8,279.7 222.8,300.1 233.8,298.3 244.9,297.4 255.9,288.8"/><polyline points="167.6,287.4 178.6,266 189.7,301.9 200.7,299.8 211.8,284.6 222.8,301 233.8,294.9 244.9,302.2 255.9,302.3"/><polyline points="167.6,303.6 178.6,278.9 189.7,288.9 200.7,294.2 211.8,285.1 222.8,293.1 233.8,297.6 244.9,298.5 255.9,299.5"/><polyline points="167.6,285.8 178.6,275.4 189.7,302.3 200.7,297.2 211.8,286.4 222.8,295.7 233.8,302.6 244.9,300.9 255.9,299.5"/><polyline points="167.6,302.1 178.6,276.8 189.7,304 200.7,301.6 211.8,282.6 222.8,301 233.8,301.1 244.9,300.2 255.9,298.1"/><polyline points="167.6,299.8 178.6,279.9 189.7,304.9 200.7,301.8 211.8,281.4 222.8,298.2 233.8,301.6 244.9,298.4 255.9,300.3"/><polyline points="167.6,301.9 178.6,275.3 189.7,306.1 200.7,297.9 211.8,284.4 222.8,294.2 233.8,295.8 244.9,300.6 255.9,300.1"/><polyline points="167.6,294.8 178.6,275.4 189.7,289.6 200.7,294.3 211.8,286.6 222.8,295.9 233.8,297.9 244.9,293.7 255.9,303.4"/><polyline points="167.6,299.5 178.6,279.9 189.7,298.1 200.7,298.2 211.8,288.6 222.8,283.6 233.8,297.1 244.9,296.3 255.9,302.8"/></g>
<polyline points="167.6,298.2 178.6,274.3 189.7,300.7 200.7,298.9 211.8,283.1 222.8,298.6 233.8,298.6 244.9,299.4 255.9,299.9" fill="none" stroke="#000" stroke-width="1.6" stroke-linejoin="round" stroke-linecap="round"/>
<g stroke="#333" stroke-width="0.95" fill="none"><path d="M167.6 262.7V315.5" /><path d="M164.1 315.5H167.6" /><path d="M164.1 304.9H167.6" /><path d="M164.1 294.4H167.6" /><path d="M164.1 283.8H167.6" /><path d="M164.1 273.3H167.6" /><path d="M164.1 262.7H167.6" /><path d="M167.6 315.5H255.9" /><path d="M167.6 315.5V320.1" /><path d="M178.6 315.5V320.1" /><path d="M189.7 315.5V320.1" /><path d="M200.7 315.5V320.1" /><path d="M211.8 315.5V320.1" /><path d="M222.8 315.5V320.1" /><path d="M233.8 315.5V320.1" /><path d="M244.9 315.5V320.1" /><path d="M255.9 315.5V320.1" /></g>
<text class="yl" transform="translate(160.2 261.6) rotate(-90) scale(1.14 1)">3</text>
<text class="yl" transform="translate(160.2 272.2) rotate(-90) scale(1.14 1)">2</text>
<text class="yl" transform="translate(160.2 282.7) rotate(-90) scale(1.14 1)">1</text>
<text class="yl" transform="translate(160.2 293.3) rotate(-90) scale(1.14 1)">0</text>
<text class="yl" transform="translate(160.2 313.4) rotate(-90) scale(1.14 1)">−2</text>
<text class="tt" x="169.7" y="259.3">C11,  45 metabolites</text>
</g>
<g>
<g fill="none" stroke="#EE9A2A" stroke-width="0.85" stroke-linejoin="round"><polyline points="297.7,291.3 308.7,313.7 319.8,293.3 330.8,279.4 341.9,294 352.9,302 363.9,276.9 375,292.9 386,313.7"/><polyline points="297.7,293.8 308.7,303.2 319.8,294.3 330.8,278.4 341.9,299.7 352.9,303.7 363.9,280.3 375,298.7 386,308.6"/><polyline points="297.7,292.5 308.7,299.3 319.8,287.9 330.8,284.5 341.9,305.7 352.9,308.3 363.9,279.2 375,303.1 386,304.8"/><polyline points="297.7,296.8 308.7,299.7 319.8,305.1 330.8,287.4 341.9,299.6 352.9,296.5 363.9,272.8 375,297.9 386,298.6"/><polyline points="297.7,290.4 308.7,296.6 319.8,301 330.8,289 341.9,293.5 352.9,288.4 363.9,272.8 375,290 386,292.6"/><polyline points="297.7,269.9 308.7,302.5 319.8,290.2 330.8,283.3 341.9,297.3 352.9,310.7 363.9,277.9 375,298.2 386,295.2"/><polyline points="297.7,287.4 308.7,301.7 319.8,292.9 330.8,283.1 341.9,294.5 352.9,291.2 363.9,276.8 375,293.8 386,299.2"/><polyline points="297.7,285.6 308.7,302.3 319.8,284.7 330.8,284.5 341.9,298.9 352.9,302.1 363.9,270.8 375,294.3 386,285.9"/><polyline points="297.7,288.2 308.7,297.3 319.8,297.3 330.8,277.7 341.9,304.8 352.9,298.4 363.9,284.4 375,291.1 386,300.9"/><polyline points="297.7,288.1 308.7,305.8 319.8,296.6 330.8,277.2 341.9,297.7 352.9,303 363.9,280 375,293 386,302.3"/><polyline points="297.7,287.9 308.7,302.5 319.8,298.1 330.8,283.5 341.9,296.2 352.9,297.4 363.9,279.5 375,295.9 386,306.9"/><polyline points="297.7,290.8 308.7,300 319.8,296.3 330.8,285.9 341.9,298.7 352.9,298.9 363.9,269.2 375,282.9 386,283.9"/><polyline points="297.7,284.8 308.7,313.7 319.8,293.8 330.8,289.4 341.9,303.5 352.9,304.5 363.9,279.6 375,304 386,301.2"/><polyline points="297.7,292 308.7,302.3 319.8,284.1 330.8,285.3 341.9,294.2 352.9,293.6 363.9,275.1 375,307.2 386,298.4"/><polyline points="297.7,291.7 308.7,304 319.8,293.8 330.8,280.3 341.9,297.2 352.9,291.7 363.9,285.4 375,277.8 386,310.6"/><polyline points="297.7,294.3 308.7,294.8 319.8,298.1 330.8,281 341.9,303 352.9,304.2 363.9,279.1 375,293.5 386,294.3"/><polyline points="297.7,287 308.7,297.5 319.8,298.7 330.8,270.8 341.9,300.6 352.9,302.1 363.9,274.8 375,303 386,300.5"/><polyline points="297.7,271.5 308.7,300.3 319.8,289.8 330.8,275.3 341.9,300.2 352.9,304 363.9,273.7 375,303 386,296.6"/><polyline points="297.7,288.3 308.7,293.1 319.8,286.7 330.8,286.3 341.9,289.4 352.9,296.9 363.9,276.1 375,297.9 386,299.3"/><polyline points="297.7,288 308.7,302 319.8,274 330.8,281.1 341.9,301 352.9,306 363.9,282.6 375,294.9 386,305.5"/><polyline points="297.7,287.4 308.7,305 319.8,287.6 330.8,286.6 341.9,299.7 352.9,302.9 363.9,286.3 375,293.3 386,301.7"/><polyline points="297.7,278.5 308.7,309.7 319.8,293.5 330.8,276.7 341.9,290.6 352.9,286.1 363.9,274.3 375,293.4 386,305.9"/><polyline points="297.7,292.9 308.7,295.6 319.8,297.5 330.8,284.5 341.9,284.3 352.9,302.1 363.9,279 375,302.9 386,302.4"/><polyline points="297.7,289.7 308.7,306.4 319.8,292.4 330.8,281.3 341.9,298.1 352.9,298.1 363.9,286.3 375,295.1 386,300.4"/><polyline points="297.7,294.2 308.7,298 319.8,293.2 330.8,279 341.9,287.5 352.9,308.6 363.9,279.8 375,291.2 386,291.4"/><polyline points="297.7,286.2 308.7,298 319.8,298.1 330.8,286.2 341.9,313.7 352.9,294.3 363.9,273.7 375,290.7 386,299.6"/><polyline points="297.7,277 308.7,277 319.8,294.2 330.8,276.4 341.9,289.4 352.9,299.9 363.9,279 375,295.6 386,308.3"/><polyline points="297.7,286.2 308.7,304.6 319.8,284.1 330.8,288.8 341.9,289.9 352.9,299.4 363.9,279.3 375,296.4 386,299.7"/><polyline points="297.7,279.4 308.7,306.6 319.8,296 330.8,281.5 341.9,296.9 352.9,297.8 363.9,281.6 375,286.8 386,305.7"/><polyline points="297.7,287.9 308.7,302.6 319.8,295.2 330.8,287.8 341.9,305.5 352.9,290.2 363.9,281 375,301.1 386,305.8"/><polyline points="297.7,289.8 308.7,285.4 319.8,296.5 330.8,285.8 341.9,295.8 352.9,298.6 363.9,283.5 375,292.7 386,306.6"/><polyline points="297.7,284.1 308.7,294.8 319.8,288.2 330.8,282.5 341.9,293.6 352.9,303.9 363.9,275.5 375,296.5 386,305.2"/><polyline points="297.7,290.5 308.7,308.1 319.8,293.2 330.8,288.7 341.9,290.2 352.9,294.5 363.9,281.8 375,287.4 386,305"/><polyline points="297.7,287.2 308.7,299.3 319.8,298 330.8,281.9 341.9,298.7 352.9,294 363.9,290.1 375,296.3 386,299"/><polyline points="297.7,290.1 308.7,308.4 319.8,295.7 330.8,283.3 341.9,292.7 352.9,300.4 363.9,289.6 375,297.9 386,305"/><polyline points="297.7,276.7 308.7,303.4 319.8,296.8 330.8,293.9 341.9,296.2 352.9,297.6 363.9,286.6 375,292.3 386,299.8"/><polyline points="297.7,294.5 308.7,302.6 319.8,288.1 330.8,288.6 341.9,289.5 352.9,303.1 363.9,282.1 375,292.7 386,296.7"/><polyline points="297.7,288.3 308.7,297.4 319.8,298.1 330.8,288.5 341.9,295 352.9,299.4 363.9,286.2 375,296.2 386,302"/><polyline points="297.7,286.7 308.7,294.1 319.8,299.6 330.8,285.1 341.9,297.3 352.9,301.4 363.9,276.7 375,290.3 386,301.7"/><polyline points="297.7,297.4 308.7,298.8 319.8,294.6 330.8,276.4 341.9,298 352.9,279.3 363.9,270.6 375,297.3 386,296"/><polyline points="297.7,274.9 308.7,305.9 319.8,291.3 330.8,278.8 341.9,297.4 352.9,301.7 363.9,284.6 375,294.9 386,296.1"/><polyline points="297.7,306.2 308.7,303.1 319.8,290 330.8,283.4 341.9,292.6 352.9,297.9 363.9,277.5 375,297.5 386,303.3"/><polyline points="297.7,295.9 308.7,296.8 319.8,294.3 330.8,280.7 341.9,298.3 352.9,292.5 363.9,282.6 375,297.2 386,307.6"/><polyline points="297.7,288.3 308.7,304.9 319.8,295.1 330.8,277.8 341.9,294 352.9,300.1 363.9,288.9 375,296.1 386,305.8"/><polyline points="297.7,294.6 308.7,297.2 319.8,289.2 330.8,282.1 341.9,292.9 352.9,289.7 363.9,275.1 375,298.2 386,298.4"/><polyline points="297.7,286.1 308.7,294.8 319.8,295.2 330.8,286.4 341.9,300.4 352.9,308.9 363.9,277.8 375,307.2 386,302.4"/><polyline points="297.7,289 308.7,293.9 319.8,293.3 330.8,282.6 341.9,300.9 352.9,303.3 363.9,278.7 375,292.8 386,297.5"/><polyline points="297.7,296.7 308.7,311.5 319.8,295.3 330.8,293.9 341.9,303.7 352.9,307.7 363.9,275.4 375,290 386,302.5"/><polyline points="297.7,282.3 308.7,299 319.8,303.9 330.8,287.9 341.9,307.5 352.9,303.3 363.9,285.7 375,298.2 386,300.7"/><polyline points="297.7,283.7 308.7,298.4 319.8,293.3 330.8,292.1 341.9,295.2 352.9,293.9 363.9,282.1 375,285.4 386,304"/><polyline points="297.7,281.5 308.7,291.4 319.8,296.8 330.8,286.8 341.9,287.7 352.9,290.6 363.9,284.1 375,295.3 386,302.9"/><polyline points="297.7,283.4 308.7,291.9 319.8,291.2 330.8,286.8 341.9,298.4 352.9,301.3 363.9,281.9 375,296.3 386,298"/><polyline points="297.7,277.8 308.7,294.8 319.8,301.6 330.8,277.9 341.9,291 352.9,295 363.9,282.7 375,293.5 386,304.8"/><polyline points="297.7,283.6 308.7,304.4 319.8,293 330.8,283.6 341.9,296 352.9,306.2 363.9,279 375,310.9 386,302.5"/><polyline points="297.7,292.9 308.7,308.9 319.8,295 330.8,292 341.9,306.1 352.9,292.1 363.9,287.7 375,295.7 386,306.8"/><polyline points="297.7,284.4 308.7,299 319.8,292.6 330.8,277.1 341.9,295.5 352.9,300 363.9,282.3 375,297.7 386,298.3"/><polyline points="297.7,288.2 308.7,307.3 319.8,292.2 330.8,283.4 341.9,300.5 352.9,299 363.9,272.4 375,306.5 386,287.5"/><polyline points="297.7,290.7 308.7,295.6 319.8,291 330.8,278.8 341.9,296 352.9,300.2 363.9,279.5 375,303.4 386,300.7"/><polyline points="297.7,286.2 308.7,299.7 319.8,292 330.8,287 341.9,300.4 352.9,301.9 363.9,284.2 375,294.9 386,294.1"/><polyline points="297.7,298.8 308.7,293 319.8,296.1 330.8,289.3 341.9,293.3 352.9,293.7 363.9,284.4 375,297.5 386,293.3"/><polyline points="297.7,303.3 308.7,298 319.8,294.5 330.8,284.7 341.9,303 352.9,289.1 363.9,276.9 375,298.3 386,303.4"/><polyline points="297.7,296.2 308.7,303.1 319.8,290.9 330.8,291.6 341.9,292.8 352.9,296.5 363.9,278.6 375,299.7 386,287.6"/><polyline points="297.7,293.2 308.7,301.1 319.8,297.3 330.8,286.1 341.9,299.8 352.9,298.9 363.9,286.5 375,290.1 386,296.5"/><polyline points="297.7,288.8 308.7,303.4 319.8,298.7 330.8,286.1 341.9,296 352.9,297.2 363.9,276.7 375,299 386,292.8"/><polyline points="297.7,284.7 308.7,299.8 319.8,301.2 330.8,289 341.9,302.4 352.9,292.8 363.9,278.7 375,300.5 386,300.7"/><polyline points="297.7,287.7 308.7,299 319.8,294 330.8,281.8 341.9,292.5 352.9,300 363.9,280 375,300.6 386,300.7"/><polyline points="297.7,285.8 308.7,298.4 319.8,298.1 330.8,289.9 341.9,299.9 352.9,299.4 363.9,276.1 375,276.1 386,305.6"/><polyline points="297.7,280.1 308.7,297.2 319.8,292.8 330.8,296.2 341.9,301.9 352.9,299.6 363.9,291.3 375,287.9 386,301.9"/></g>
<polyline points="297.7,287.9 308.7,300.6 319.8,295 330.8,282.3 341.9,296.7 352.9,299.8 363.9,278.3 375,296.3 386,302.3" fill="none" stroke="#000" stroke-width="1.6" stroke-linejoin="round" stroke-linecap="round"/>
<g stroke="#333" stroke-width="0.95" fill="none"><path d="M297.7 261.9V314.5" /><path d="M294.2 314.5H297.7" /><path d="M294.2 304H297.7" /><path d="M294.2 293.5H297.7" /><path d="M294.2 282.9H297.7" /><path d="M294.2 272.4H297.7" /><path d="M294.2 261.9H297.7" /><path d="M297.7 314.5H386" /><path d="M297.7 314.5V319.1" /><path d="M308.7 314.5V319.1" /><path d="M319.8 314.5V319.1" /><path d="M330.8 314.5V319.1" /><path d="M341.9 314.5V319.1" /><path d="M352.9 314.5V319.1" /><path d="M363.9 314.5V319.1" /><path d="M375 314.5V319.1" /><path d="M386 314.5V319.1" /></g>
<text class="yl" transform="translate(290.3 260.8) rotate(-90) scale(1.14 1)">3</text>
<text class="yl" transform="translate(290.3 271.3) rotate(-90) scale(1.14 1)">2</text>
<text class="yl" transform="translate(290.3 281.8) rotate(-90) scale(1.14 1)">1</text>
<text class="yl" transform="translate(290.3 292.4) rotate(-90) scale(1.14 1)">0</text>
<text class="yl" transform="translate(290.3 312.4) rotate(-90) scale(1.14 1)">−2</text>
<text class="tt" x="301.7" y="259.3">C12 ,  68 metabolites</text>
<text class="xl" transform="translate(301 322.1) rotate(-90)">T. domestica</text>
<text class="xl" transform="translate(312 322.1) rotate(-90)">P. flavescens</text>
<text class="xl" transform="translate(323.1 322.1) rotate(-90)">L. migratoria</text>
<text class="xl" transform="translate(334.1 322.1) rotate(-90)">P. americana</text>
<text class="xl" transform="translate(345.2 322.1) rotate(-90)">A. lucorum</text>
<text class="xl" transform="translate(356.2 322.1) rotate(-90)">A. mellifera</text>
<text class="xl" transform="translate(367.2 322.1) rotate(-90)">T. molitor</text>
<text class="xl" transform="translate(378.3 322.1) rotate(-90)">B. mori</text>
<text class="xl" transform="translate(389.3 322.1) rotate(-90)">D. melanogaster</text>
</g>
<g>
<g fill="none" stroke="#E0281E" stroke-width="0.85" stroke-linejoin="round"><polyline points="38.9,370.5 49.9,376.7 61,371.5 72,373.2 83.1,358.9 94.1,381.5 105.1,371.1 116.2,366.8 127.2,368.8"/><polyline points="38.9,370.6 49.9,373.2 61,368.4 72,374.3 83.1,355 94.1,375.2 105.1,375.9 116.2,357.3 127.2,377.4"/><polyline points="38.9,374 49.9,368.1 61,369.7 72,367.5 83.1,363 94.1,362.8 105.1,368.2 116.2,355.6 127.2,366.9"/><polyline points="38.9,358.9 49.9,366.9 61,369.9 72,372.4 83.1,366.3 94.1,365.3 105.1,357.5 116.2,362.2 127.2,367.9"/><polyline points="38.9,358.1 49.9,373 61,375 72,368.1 83.1,353.7 94.1,385.7 105.1,356.7 116.2,362.4 127.2,356.6"/><polyline points="38.9,363.7 49.9,373.6 61,363.9 72,358 83.1,359 94.1,376.6 105.1,367.5 116.2,363 127.2,364.9"/><polyline points="38.9,364.2 49.9,371.9 61,371.1 72,363.1 83.1,355 94.1,383.1 105.1,366.4 116.2,361.7 127.2,371.9"/><polyline points="38.9,370.9 49.9,369.9 61,378.3 72,365.6 83.1,358.9 94.1,376.9 105.1,360.6 116.2,347.9 127.2,367.1"/><polyline points="38.9,371.1 49.9,384.9 61,367 72,366.9 83.1,355.7 94.1,369 105.1,367.8 116.2,360.1 127.2,363.4"/><polyline points="38.9,371.4 49.9,376.1 61,367.1 72,365 83.1,353.2 94.1,373.8 105.1,363.7 116.2,361.3 127.2,367.6"/><polyline points="38.9,358.6 49.9,373 61,372.5 72,352.4 83.1,360.4 94.1,375.4 105.1,368 116.2,362 127.2,363.9"/><polyline points="38.9,360.6 49.9,370 61,358.6 72,365 83.1,363.5 94.1,378.1 105.1,365.8 116.2,359.6 127.2,364.8"/><polyline points="38.9,366.6 49.9,381.2 61,383.8 72,360.9 83.1,350.9 94.1,373.4 105.1,355.6 116.2,356.4 127.2,359"/><polyline points="38.9,373.1 49.9,381.7 61,382.4 72,367 83.1,354.5 94.1,381.9 105.1,367.9 116.2,356.8 127.2,367.2"/><polyline points="38.9,366.6 49.9,372 61,367.8 72,362.9 83.1,356.1 94.1,381.1 105.1,367.3 116.2,365.3 127.2,364.4"/><polyline points="38.9,370.2 49.9,374.9 61,365.5 72,377.5 83.1,351.1 94.1,378.6 105.1,362.9 116.2,373.9 127.2,360.7"/><polyline points="38.9,366 49.9,375.9 61,375.8 72,363.7 83.1,353.1 94.1,377.3 105.1,371.8 116.2,362.9 127.2,353.6"/><polyline points="38.9,366.3 49.9,371.8 61,380.6 72,365.1 83.1,350.2 94.1,382.5 105.1,362.5 116.2,360.8 127.2,374.4"/><polyline points="38.9,364.2 49.9,378.1 61,363.5 72,364.5 83.1,352.6 94.1,370.9 105.1,371.4 116.2,374.1 127.2,365.8"/><polyline points="38.9,362.5 49.9,369.1 61,373.3 72,364 83.1,359.6 94.1,372.3 105.1,366.9 116.2,358.5 127.2,365.4"/><polyline points="38.9,359.4 49.9,379.6 61,367.9 72,365.6 83.1,356 94.1,374 105.1,367.9 116.2,366.6 127.2,359.3"/><polyline points="38.9,370.3 49.9,375.2 61,359.6 72,368.7 83.1,358 94.1,366.5 105.1,368.1 116.2,363.1 127.2,352.2"/><polyline points="38.9,367.6 49.9,370.3 61,392.6 72,359.6 83.1,363.8 94.1,371.2 105.1,365.8 116.2,368.8 127.2,365.6"/><polyline points="38.9,359.1 49.9,374 61,370.9 72,367.9 83.1,355.4 94.1,379.1 105.1,381.4 116.2,371.5 127.2,361.4"/><polyline points="38.9,364.4 49.9,375.7 61,372.4 72,364.4 83.1,361 94.1,382.7 105.1,369.5 116.2,357.4 127.2,363.1"/><polyline points="38.9,366.2 49.9,365.8 61,378.8 72,366.5 83.1,353.3 94.1,370.2 105.1,356.1 116.2,364.7 127.2,360.4"/><polyline points="38.9,369.1 49.9,366.4 61,372.4 72,367.5 83.1,348.5 94.1,362.1 105.1,373.1 116.2,360.2 127.2,365"/><polyline points="38.9,360.7 49.9,373.4 61,369 72,367.8 83.1,356.4 94.1,375.5 105.1,368.9 116.2,369.3 127.2,370.5"/><polyline points="38.9,366.8 49.9,377.7 61,374.9 72,361.1 83.1,362.3 94.1,373.1 105.1,366.5 116.2,345.2 127.2,375.5"/><polyline points="38.9,359.6 49.9,382.8 61,364.9 72,372.2 83.1,354.9 94.1,378.6 105.1,363.9 116.2,362.4 127.2,370.7"/><polyline points="38.9,366.2 49.9,363.9 61,366.5 72,369 83.1,361.2 94.1,368.6 105.1,366 116.2,367.7 127.2,367.6"/><polyline points="38.9,372.6 49.9,382.6 61,371.3 72,355.5 83.1,358.9 94.1,374.4 105.1,367 116.2,359.9 127.2,357.1"/><polyline points="38.9,361.5 49.9,373.5 61,374.2 72,369.8 83.1,351.3 94.1,380.1 105.1,370.3 116.2,363.6 127.2,363.2"/><polyline points="38.9,365.8 49.9,376.1 61,378.5 72,364.4 83.1,357.2 94.1,365.5 105.1,358.8 116.2,357.5 127.2,353.6"/><polyline points="38.9,362.9 49.9,379.2 61,376 72,364.4 83.1,350.7 94.1,368.8 105.1,365.8 116.2,366.4 127.2,364.8"/><polyline points="38.9,369.4 49.9,376.6 61,369.4 72,362.9 83.1,355.3 94.1,381.3 105.1,354.2 116.2,358.1 127.2,361.4"/><polyline points="38.9,355.2 49.9,374.2 61,370.1 72,357.1 83.1,353 94.1,372.2 105.1,364.1 116.2,365.3 127.2,367.1"/><polyline points="38.9,372.3 49.9,367.8 61,367.2 72,366.3 83.1,356.9 94.1,373.4 105.1,356.6 116.2,362.6 127.2,361.4"/><polyline points="38.9,363.1 49.9,373.4 61,361.2 72,363.8 83.1,358.4 94.1,372.8 105.1,368.8 116.2,360.5 127.2,363"/><polyline points="38.9,375.6 49.9,365.5 61,371.5 72,371.2 83.1,353.4 94.1,383.1 105.1,373.5 116.2,359.8 127.2,367.9"/><polyline points="38.9,354.6 49.9,369.9 61,371.1 72,367.2 83.1,361.9 94.1,379.8 105.1,373.9 116.2,362.9 127.2,357.8"/><polyline points="38.9,370.2 49.9,369.8 61,367.7 72,362.8 83.1,352.8 94.1,368.2 105.1,376.1 116.2,361.4 127.2,358.5"/><polyline points="38.9,363.1 49.9,378.8 61,365.9 72,358.7 83.1,353.8 94.1,379.8 105.1,370.1 116.2,356.2 127.2,366.5"/><polyline points="38.9,362 49.9,388.5 61,370.4 72,364.2 83.1,357.1 94.1,378.9 105.1,360.7 116.2,358.3 127.2,358.8"/><polyline points="38.9,367.5 49.9,368.3 61,362.5 72,366 83.1,358.2 94.1,370.1 105.1,365 116.2,361.6 127.2,368.7"/><polyline points="38.9,361.8 49.9,372.1 61,362.3 72,368.6 83.1,353.1 94.1,375.6 105.1,373.3 116.2,359.6 127.2,359.8"/><polyline points="38.9,370.9 49.9,365.3 61,363.7 72,367.9 83.1,356.8 94.1,379.5 105.1,366.9 116.2,364.6 127.2,370.9"/><polyline points="38.9,369 49.9,371 61,375.1 72,363.5 83.1,351.7 94.1,377.5 105.1,362 116.2,364 127.2,368.9"/><polyline points="38.9,366.1 49.9,371.1 61,377.8 72,357.6 83.1,349.8 94.1,365.1 105.1,349 116.2,361.4 127.2,365.2"/><polyline points="38.9,363.7 49.9,381.6 61,374.4 72,378.3 83.1,346.2 94.1,370.6 105.1,376.5 116.2,352.8 127.2,373.9"/><polyline points="38.9,367.4 49.9,378.6 61,383.8 72,361.7 83.1,362.9 94.1,370.6 105.1,373.4 116.2,369.2 127.2,370.7"/></g>
<polyline points="38.9,367.2 49.9,373.5 61,371.2 72,365.3 83.1,354.6 94.1,375.4 105.1,366.6 116.2,361.5 127.2,364.8" fill="none" stroke="#000" stroke-width="1.6" stroke-linejoin="round" stroke-linecap="round"/>
<g stroke="#333" stroke-width="0.95" fill="none"><path d="M38.9 340.2V393.3" /><path d="M35.4 393.3H38.9" /><path d="M35.4 384.4H38.9" /><path d="M35.4 375.6H38.9" /><path d="M35.4 366.8H38.9" /><path d="M35.4 357.9H38.9" /><path d="M35.4 349.1H38.9" /><path d="M35.4 340.2H38.9" /><path d="M38.9 393.3H127.2" /><path d="M38.9 393.3V397.9" /><path d="M49.9 393.3V397.9" /><path d="M61 393.3V397.9" /><path d="M72 393.3V397.9" /><path d="M83.1 393.3V397.9" /><path d="M94.1 393.3V397.9" /><path d="M105.1 393.3V397.9" /><path d="M116.2 393.3V397.9" /><path d="M127.2 393.3V397.9" /></g>
<text class="yl" transform="translate(31.5 339.1) rotate(-90) scale(1.14 1)">3</text>
<text class="yl" transform="translate(31.5 356.8) rotate(-90) scale(1.14 1)">1</text>
<text class="yl" transform="translate(31.5 373.6) rotate(-90) scale(1.14 1)">−1</text>
<text class="yl" transform="translate(31.5 391.2) rotate(-90) scale(1.14 1)">−3</text>
<text class="tt" x="43.6" y="335">C13 ,  51 metabolites</text>
</g>
<g>
<g fill="none" stroke="#5B57A6" stroke-width="0.85" stroke-linejoin="round"><polyline points="167.3,380.3 178.3,368.2 189.4,378.6 200.4,379.6 211.5,367.1 222.5,366.7 233.5,370.2 244.6,380.7 255.6,375.2"/><polyline points="167.3,383.4 178.3,357.9 189.4,374.4 200.4,377.4 211.5,365.6 222.5,368 233.5,373.8 244.6,372.3 255.6,366.7"/><polyline points="167.3,383 178.3,365.4 189.4,369.1 200.4,364.7 211.5,362.5 222.5,363.7 233.5,384.1 244.6,375.6 255.6,374.9"/><polyline points="167.3,385.8 178.3,369.1 189.4,376.2 200.4,369.4 211.5,365.5 222.5,360.5 233.5,377.1 244.6,386.1 255.6,383"/><polyline points="167.3,384.5 178.3,377.6 189.4,372.8 200.4,365.4 211.5,356 222.5,357.8 233.5,373.9 244.6,369.7 255.6,370.9"/><polyline points="167.3,379.2 178.3,362.6 189.4,378.9 200.4,380.5 211.5,366.7 222.5,361.7 233.5,370.6 244.6,381.5 255.6,364"/><polyline points="167.3,359.2 178.3,355.9 189.4,378.3 200.4,380.4 211.5,374.5 222.5,362.8 233.5,380.8 244.6,366.4 255.6,376.6"/><polyline points="167.3,386.4 178.3,369.1 189.4,386.3 200.4,375.5 211.5,367.4 222.5,360.2 233.5,382.9 244.6,364.1 255.6,362.5"/><polyline points="167.3,378.9 178.3,370.6 189.4,367.9 200.4,373 211.5,354.7 222.5,356.8 233.5,370.7 244.6,373.7 255.6,359.1"/><polyline points="167.3,380.5 178.3,362.4 189.4,382.7 200.4,371.2 211.5,362.2 222.5,355.2 233.5,362.5 244.6,379.5 255.6,370.5"/><polyline points="167.3,381.1 178.3,370.7 189.4,373.9 200.4,371.2 211.5,365.2 222.5,363.2 233.5,380.6 244.6,380.9 255.6,382.6"/><polyline points="167.3,374.5 178.3,371.5 189.4,387.5 200.4,376.4 211.5,358.4 222.5,356.7 233.5,370.3 244.6,372.9 255.6,372.1"/><polyline points="167.3,380.4 178.3,370.1 189.4,384.1 200.4,375.7 211.5,365.4 222.5,361.2 233.5,373.7 244.6,368.4 255.6,369.2"/><polyline points="167.3,374.5 178.3,375.1 189.4,384.5 200.4,375.4 211.5,364.1 222.5,363.8 233.5,376.6 244.6,364.5 255.6,368.1"/><polyline points="167.3,386.2 178.3,369.7 189.4,392.5 200.4,373 211.5,360.3 222.5,360.9 233.5,378.6 244.6,367.9 255.6,381"/><polyline points="167.3,374 178.3,363.9 189.4,376.5 200.4,382.5 211.5,351.3 222.5,369.7 233.5,388.2 244.6,372.3 255.6,375.2"/><polyline points="167.3,375.5 178.3,374.7 189.4,380.2 200.4,389.2 211.5,361 222.5,355.9 233.5,375.9 244.6,384.4 255.6,377.6"/><polyline points="167.3,369.4 178.3,373.7 189.4,383.9 200.4,379.9 211.5,356.9 222.5,356.1 233.5,372.5 244.6,371.6 255.6,382.1"/><polyline points="167.3,388 178.3,362.2 189.4,382.1 200.4,368.3 211.5,357.6 222.5,371.7 233.5,371 244.6,386.1 255.6,372"/><polyline points="167.3,371.1 178.3,373.5 189.4,383.9 200.4,369.9 211.5,356.9 222.5,354.8 233.5,379.8 244.6,373.1 255.6,365.4"/><polyline points="167.3,384.4 178.3,355.8 189.4,388.2 200.4,374.8 211.5,363.9 222.5,356.7 233.5,367.1 244.6,376 255.6,374.1"/><polyline points="167.3,386.6 178.3,371.4 189.4,383.8 200.4,367.9 211.5,371.1 222.5,358.7 233.5,363.5 244.6,377.9 255.6,366.3"/><polyline points="167.3,379.6 178.3,369.2 189.4,386.5 200.4,373.3 211.5,362.8 222.5,365.6 233.5,369.8 244.6,370.4 255.6,355.6"/><polyline points="167.3,386.2 178.3,366.7 189.4,377.4 200.4,369.9 211.5,358.5 222.5,357.8 233.5,386.2 244.6,364.6 255.6,367.4"/><polyline points="167.3,382.9 178.3,371.6 189.4,376.4 200.4,368.7 211.5,369.9 222.5,355.4 233.5,384.1 244.6,375.2 255.6,371.3"/><polyline points="167.3,373.8 178.3,375.2 189.4,380.2 200.4,378.2 211.5,370.4 222.5,365.3 233.5,368 244.6,368 255.6,374.4"/><polyline points="167.3,378.9 178.3,369.7 189.4,386 200.4,385.1 211.5,368.4 222.5,354.9 233.5,377 244.6,371.5 255.6,370.5"/><polyline points="167.3,383.3 178.3,369.4 189.4,383.8 200.4,384.7 211.5,364.5 222.5,355.7 233.5,375.8 244.6,371 255.6,372.1"/><polyline points="167.3,370.1 178.3,362.2 189.4,391 200.4,386.5 211.5,358.1 222.5,362.4 233.5,379.4 244.6,370.2 255.6,374"/><polyline points="167.3,385.8 178.3,374.7 189.4,375 200.4,375.7 211.5,366.3 222.5,360.8 233.5,385.3 244.6,359.5 255.6,368.9"/><polyline points="167.3,385 178.3,368.1 189.4,368.6 200.4,373.6 211.5,347.9 222.5,368.4 233.5,368.1 244.6,379.3 255.6,368"/><polyline points="167.3,382.3 178.3,377.3 189.4,384.2 200.4,375.4 211.5,358.4 222.5,358.8 233.5,380.6 244.6,377.7 255.6,364.8"/><polyline points="167.3,378.2 178.3,368.5 189.4,382.7 200.4,372 211.5,358.9 222.5,353.5 233.5,373.4 244.6,376.7 255.6,360.9"/><polyline points="167.3,379 178.3,369.3 189.4,386.9 200.4,371 211.5,363.8 222.5,363.3 233.5,372.5 244.6,386.9 255.6,382.1"/><polyline points="167.3,377 178.3,370.3 189.4,383.5 200.4,380.3 211.5,368.2 222.5,365.1 233.5,374.5 244.6,374.1 255.6,374.6"/><polyline points="167.3,388 178.3,375.1 189.4,384 200.4,377.2 211.5,358.7 222.5,360.6 233.5,376.2 244.6,375.6 255.6,367.8"/><polyline points="167.3,373 178.3,360.3 189.4,374.8 200.4,383 211.5,363.9 222.5,358.2 233.5,373.4 244.6,371 255.6,380"/><polyline points="167.3,380.8 178.3,358.2 189.4,373.6 200.4,386.3 211.5,366.6 222.5,358.3 233.5,376.2 244.6,370.7 255.6,374.7"/><polyline points="167.3,383.3 178.3,376.1 189.4,376.4 200.4,371.2 211.5,366.3 222.5,365.8 233.5,376.2 244.6,374.7 255.6,383.5"/><polyline points="167.3,382.6 178.3,367.9 189.4,373.1 200.4,385.6 211.5,361.5 222.5,364.4 233.5,377.5 244.6,368.7 255.6,371.7"/><polyline points="167.3,378.7 178.3,375.5 189.4,376.5 200.4,355.7 211.5,360.5 222.5,363.3 233.5,372.9 244.6,371.9 255.6,365.5"/><polyline points="167.3,381.2 178.3,367.9 189.4,374.6 200.4,377.7 211.5,375.1 222.5,350.6 233.5,376 244.6,375.3 255.6,368.2"/><polyline points="167.3,392.5 178.3,369 189.4,374.4 200.4,375.9 211.5,363.5 222.5,363.1 233.5,370.6 244.6,380.5 255.6,361.6"/></g>
<polyline points="167.3,380.8 178.3,368 189.4,380.8 200.4,376.9 211.5,361.8 222.5,358.5 233.5,375.7 244.6,373.9 255.6,371.3" fill="none" stroke="#000" stroke-width="1.6" stroke-linejoin="round" stroke-linecap="round"/>
<g stroke="#333" stroke-width="0.95" fill="none"><path d="M167.3 340.2V393.3" /><path d="M163.8 393.3H167.3" /><path d="M163.8 382.7H167.3" /><path d="M163.8 372.1H167.3" /><path d="M163.8 361.4H167.3" /><path d="M163.8 350.8H167.3" /><path d="M163.8 340.2H167.3" /><path d="M167.3 393.3H255.6" /><path d="M167.3 393.3V397.9" /><path d="M178.3 393.3V397.9" /><path d="M189.4 393.3V397.9" /><path d="M200.4 393.3V397.9" /><path d="M211.5 393.3V397.9" /><path d="M222.5 393.3V397.9" /><path d="M233.5 393.3V397.9" /><path d="M244.6 393.3V397.9" /><path d="M255.6 393.3V397.9" /></g>
<text class="yl" transform="translate(159.9 339.1) rotate(-90) scale(1.14 1)">3</text>
<text class="yl" transform="translate(159.9 349.7) rotate(-90) scale(1.14 1)">2</text>
<text class="yl" transform="translate(159.9 360.3) rotate(-90) scale(1.14 1)">1</text>
<text class="yl" transform="translate(159.9 371) rotate(-90) scale(1.14 1)">0</text>
<text class="yl" transform="translate(159.9 391.2) rotate(-90) scale(1.14 1)">−2</text>
<text class="tt" x="169.7" y="335">C14,  43 metabolites</text>
</g>
<g>
<g fill="none" stroke="#A5CC52" stroke-width="0.85" stroke-linejoin="round"><polyline points="38.6,461.3 49.6,449.8 60.7,436.9 71.7,456.9 82.8,444.2 93.8,440.1 104.8,466.7 115.9,444.2 126.9,463.2"/><polyline points="38.6,462.8 49.6,448.3 60.7,444.8 71.7,453 82.8,439.8 93.8,451.6 104.8,451.1 115.9,451.1 126.9,459.7"/><polyline points="38.6,460.9 49.6,450.5 60.7,448.3 71.7,451.1 82.8,437.8 93.8,451.7 104.8,458.4 115.9,447.8 126.9,459.2"/><polyline points="38.6,458.2 49.6,453.8 60.7,434.2 71.7,451.9 82.8,442.8 93.8,444.3 104.8,449.1 115.9,445 126.9,463.1"/><polyline points="38.6,453.8 49.6,456.1 60.7,438.1 71.7,452 82.8,444.5 93.8,451.6 104.8,461 115.9,447.2 126.9,446.8"/><polyline points="38.6,464.5 49.6,443.1 60.7,447.7 71.7,452.7 82.8,446.3 93.8,452.2 104.8,449.6 115.9,440.4 126.9,458.5"/><polyline points="38.6,459.8 49.6,458.8 60.7,447.2 71.7,454.8 82.8,439.7 93.8,449.5 104.8,455.9 115.9,444.6 126.9,461.8"/><polyline points="38.6,458.9 49.6,444.4 60.7,437.8 71.7,456.8 82.8,438.5 93.8,446.5 104.8,453.3 115.9,445.2 126.9,451.9"/><polyline points="38.6,455 49.6,446.4 60.7,437 71.7,446.6 82.8,437.8 93.8,450.6 104.8,451 115.9,445.7 126.9,450.8"/><polyline points="38.6,461.2 49.6,450.1 60.7,439.9 71.7,449.2 82.8,441.7 93.8,452.4 104.8,461.9 115.9,447.8 126.9,462.4"/><polyline points="38.6,463.6 49.6,457.9 60.7,444.4 71.7,455.8 82.8,443.3 93.8,452.2 104.8,462.2 115.9,449.5 126.9,464.6"/><polyline points="38.6,465.1 49.6,449.9 60.7,441.5 71.7,451 82.8,448.6 93.8,446 104.8,455.2 115.9,458.8 126.9,454"/><polyline points="38.6,456.6 49.6,449.7 60.7,439.7 71.7,448.5 82.8,432.7 93.8,448.4 104.8,457.6 115.9,448.3 126.9,452.2"/><polyline points="38.6,467.1 49.6,452.7 60.7,431.2 71.7,454.9 82.8,434.5 93.8,445.3 104.8,453.8 115.9,446 126.9,469.2"/><polyline points="38.6,464.2 49.6,450.9 60.7,439.1 71.7,454.1 82.8,439.3 93.8,453.9 104.8,458.4 115.9,451.4 126.9,462"/><polyline points="38.6,461.1 49.6,449.7 60.7,435.2 71.7,446.8 82.8,436.9 93.8,453.7 104.8,450.6 115.9,440.6 126.9,457.5"/><polyline points="38.6,459.1 49.6,448.6 60.7,432.8 71.7,454.5 82.8,436.1 93.8,446.8 104.8,459.1 115.9,442 126.9,465.2"/><polyline points="38.6,464.1 49.6,456.6 60.7,440.8 71.7,448.3 82.8,445.5 93.8,449.3 104.8,460.7 115.9,445.9 126.9,468.1"/><polyline points="38.6,459.5 49.6,452.7 60.7,439.9 71.7,446.6 82.8,440.2 93.8,448.4 104.8,459.7 115.9,450.6 126.9,460"/><polyline points="38.6,464.7 49.6,447.8 60.7,435.5 71.7,453 82.8,440.4 93.8,453.4 104.8,462.9 115.9,444.8 126.9,456.9"/><polyline points="38.6,466.5 49.6,448 60.7,429.6 71.7,449.5 82.8,442.6 93.8,458.6 104.8,452.8 115.9,447 126.9,459.1"/><polyline points="38.6,462.1 49.6,458.5 60.7,435.4 71.7,456.5 82.8,447.4 93.8,445.6 104.8,461.8 115.9,450.4 126.9,456"/><polyline points="38.6,465.7 49.6,452.7 60.7,441.3 71.7,451.9 82.8,432.5 93.8,447.2 104.8,466.7 115.9,443 126.9,461.7"/><polyline points="38.6,462.7 49.6,447.6 60.7,448.3 71.7,451 82.8,431.5 93.8,444.6 104.8,460.2 115.9,427.4 126.9,459.7"/><polyline points="38.6,461.2 49.6,454.9 60.7,437.8 71.7,446.1 82.8,433.4 93.8,450.1 104.8,460 115.9,442.2 126.9,463.8"/><polyline points="38.6,457.2 49.6,448.4 60.7,441.3 71.7,460.3 82.8,453.9 93.8,452.3 104.8,456.5 115.9,446.1 126.9,461.6"/><polyline points="38.6,467.9 49.6,438.5 60.7,441.5 71.7,448.2 82.8,443.5 93.8,447.6 104.8,454.7 115.9,448.4 126.9,463.5"/><polyline points="38.6,459.6 49.6,450 60.7,447.7 71.7,451.3 82.8,442.5 93.8,454.6 104.8,456.9 115.9,447 126.9,460.6"/><polyline points="38.6,459.2 49.6,456.2 60.7,442.8 71.7,451.8 82.8,442.7 93.8,459.6 104.8,466.4 115.9,450.9 126.9,450.7"/><polyline points="38.6,465.9 49.6,450.6 60.7,451.1 71.7,452.7 82.8,435.1 93.8,453.2 104.8,449.1 115.9,437.1 126.9,463.6"/><polyline points="38.6,457.8 49.6,450.9 60.7,444.2 71.7,451.3 82.8,445.5 93.8,464.4 104.8,451.5 115.9,452.6 126.9,455.8"/><polyline points="38.6,454.4 49.6,450.5 60.7,435.9 71.7,442.5 82.8,438.5 93.8,457.2 104.8,453.2 115.9,453.9 126.9,447.4"/></g>
<polyline points="38.6,460.4 49.6,452.3 60.7,438.4 71.7,452.3 82.8,439.2 93.8,449.8 104.8,456.9 115.9,446 126.9,460.4" fill="none" stroke="#000" stroke-width="1.6" stroke-linejoin="round" stroke-linecap="round"/>
<g stroke="#333" stroke-width="0.95" fill="none"><path d="M38.6 419V472" /><path d="M35.1 472H38.6" /><path d="M35.1 461.4H38.6" /><path d="M35.1 450.8H38.6" /><path d="M35.1 440.2H38.6" /><path d="M35.1 429.6H38.6" /><path d="M35.1 419H38.6" /><path d="M38.6 472H126.9" /><path d="M38.6 472V476.6" /><path d="M49.6 472V476.6" /><path d="M60.7 472V476.6" /><path d="M71.7 472V476.6" /><path d="M82.8 472V476.6" /><path d="M93.8 472V476.6" /><path d="M104.8 472V476.6" /><path d="M115.9 472V476.6" /><path d="M126.9 472V476.6" /></g>
<text class="yl" transform="translate(31.2 417.9) rotate(-90) scale(1.14 1)">3</text>
<text class="yl" transform="translate(31.2 428.5) rotate(-90) scale(1.14 1)">2</text>
<text class="yl" transform="translate(31.2 439.1) rotate(-90) scale(1.14 1)">1</text>
<text class="yl" transform="translate(31.2 449.7) rotate(-90) scale(1.14 1)">0</text>
<text class="yl" transform="translate(31.2 469.9) rotate(-90) scale(1.14 1)">−2</text>
<text class="tt" x="43.6" y="416.6">C15 ,  32 metabolites</text>
<text class="xl" transform="translate(41.9 479.6) rotate(-90)">T. domestica</text>
<text class="xl" transform="translate(52.9 479.6) rotate(-90)">P. flavescens</text>
<text class="xl" transform="translate(64 479.6) rotate(-90)">L. migratoria</text>
<text class="xl" transform="translate(75 479.6) rotate(-90)">P. americana</text>
<text class="xl" transform="translate(86.1 479.6) rotate(-90)">A. lucorum</text>
<text class="xl" transform="translate(97.1 479.6) rotate(-90)">A. mellifera</text>
<text class="xl" transform="translate(108.1 479.6) rotate(-90)">T. molitor</text>
<text class="xl" transform="translate(119.2 479.6) rotate(-90)">B. mori</text>
<text class="xl" transform="translate(130.2 479.6) rotate(-90)">D. melanogaster</text>
</g>
<g>
<g fill="none" stroke="#3AA6DA" stroke-width="0.85" stroke-linejoin="round"><polyline points="167.3,431.5 178.3,431.4 189.4,449.9 200.4,435.7 211.5,443.8 222.5,446.5 233.5,450.9 244.6,455.6 255.6,452.1"/><polyline points="167.3,434.4 178.3,437.6 189.4,450.7 200.4,440.3 211.5,449.6 222.5,444.8 233.5,450 244.6,454.2 255.6,457.3"/><polyline points="167.3,431.5 178.3,431.7 189.4,455.9 200.4,433.5 211.5,442.7 222.5,437.4 233.5,454 244.6,453.6 255.6,450.3"/><polyline points="167.3,436.1 178.3,433.8 189.4,458.6 200.4,441.1 211.5,448.2 222.5,441 233.5,445.2 244.6,449.5 255.6,455.6"/><polyline points="167.3,441.5 178.3,437 189.4,446.3 200.4,445.9 211.5,445.8 222.5,441.4 233.5,457.6 244.6,450.5 255.6,444.5"/><polyline points="167.3,437.6 178.3,448.8 189.4,454.5 200.4,438 211.5,442.5 222.5,441.3 233.5,448.1 244.6,458.1 255.6,460.9"/><polyline points="167.3,438.7 178.3,435.8 189.4,448.7 200.4,437.7 211.5,449.4 222.5,448.9 233.5,448.3 244.6,445.8 255.6,449.8"/><polyline points="167.3,439.9 178.3,441.9 189.4,450.5 200.4,436.8 211.5,439.8 222.5,442.5 233.5,447 244.6,457.1 255.6,463.9"/><polyline points="167.3,436.2 178.3,426.4 189.4,449.8 200.4,437 211.5,442.8 222.5,437.1 233.5,457.4 244.6,460.8 255.6,456.3"/><polyline points="167.3,439 178.3,440.5 189.4,447.9 200.4,432.4 211.5,444.7 222.5,442.5 233.5,454.7 244.6,460.6 255.6,445.5"/><polyline points="167.3,445.1 178.3,446.4 189.4,458.6 200.4,439.7 211.5,455.7 222.5,440.9 233.5,451.5 244.6,446.3 255.6,450.7"/><polyline points="167.3,439.6 178.3,436.7 189.4,446.6 200.4,439.7 211.5,446.1 222.5,443 233.5,447.5 244.6,447 255.6,457.4"/><polyline points="167.3,446 178.3,436.6 189.4,447.6 200.4,444.8 211.5,444.1 222.5,440.5 233.5,456.3 244.6,457.2 255.6,452.8"/><polyline points="167.3,436.9 178.3,434.6 189.4,457.8 200.4,433.1 211.5,445 222.5,449.3 233.5,450.7 244.6,452 255.6,453.3"/><polyline points="167.3,438.6 178.3,439 189.4,448.3 200.4,438.3 211.5,444.6 222.5,442.7 233.5,449.6 244.6,444.8 255.6,457.7"/><polyline points="167.3,444.1 178.3,431.4 189.4,448.4 200.4,435.3 211.5,446.4 222.5,446.3 233.5,442.6 244.6,448.2 255.6,458.5"/><polyline points="167.3,443.6 178.3,442.4 189.4,454.2 200.4,436.1 211.5,441.5 222.5,452 233.5,455.8 244.6,463.2 255.6,445.6"/><polyline points="167.3,441.8 178.3,438.8 189.4,455 200.4,436.6 211.5,446.9 222.5,453.3 233.5,446.9 244.6,453.6 255.6,458.3"/><polyline points="167.3,436.2 178.3,444.6 189.4,451.4 200.4,436.5 211.5,453.9 222.5,440.7 233.5,448.5 244.6,452.9 255.6,453.6"/><polyline points="167.3,435.1 178.3,435.7 189.4,448.3 200.4,429.2 211.5,437.4 222.5,438.6 233.5,457.7 244.6,449.6 255.6,451.6"/><polyline points="167.3,444.3 178.3,442.6 189.4,452.2 200.4,431.5 211.5,453.2 222.5,447.8 233.5,449 244.6,461.2 255.6,452.2"/><polyline points="167.3,443.3 178.3,441.7 189.4,451.7 200.4,435.9 211.5,446.1 222.5,449.4 233.5,445.2 244.6,453.3 255.6,461.7"/><polyline points="167.3,436.3 178.3,437 189.4,452.8 200.4,439.2 211.5,443.9 222.5,441.2 233.5,454.3 244.6,458.5 255.6,449.6"/><polyline points="167.3,441 178.3,441.8 189.4,449.6 200.4,437.5 211.5,454.4 222.5,440.5 233.5,456.1 244.6,454.1 255.6,449.3"/><polyline points="167.3,439.2 178.3,439.3 189.4,448.4 200.4,441 211.5,438.8 222.5,437.7 233.5,451.2 244.6,441.6 255.6,460.4"/><polyline points="167.3,432.1 178.3,435.1 189.4,441.7 200.4,444.4 211.5,452 222.5,448.2 233.5,456.9 244.6,462.2 255.6,457.1"/><polyline points="167.3,439 178.3,434.4 189.4,445 200.4,439.4 211.5,442.1 222.5,445.3 233.5,452.2 244.6,451 255.6,454.6"/><polyline points="167.3,438.1 178.3,441.6 189.4,453.2 200.4,436.7 211.5,449 222.5,445.3 233.5,451 244.6,451 255.6,453.9"/><polyline points="167.3,442.6 178.3,439.8 189.4,447.2 200.4,442.3 211.5,443.6 222.5,437.7 233.5,453.8 244.6,451.2 255.6,463.2"/><polyline points="167.3,433 178.3,440.2 189.4,451 200.4,437.2 211.5,440.5 222.5,442.1 233.5,447.1 244.6,458.8 255.6,448.5"/><polyline points="167.3,432.8 178.3,437 189.4,454.3 200.4,438.1 211.5,452 222.5,447.5 233.5,448 244.6,449.2 255.6,451.5"/><polyline points="167.3,442.5 178.3,450.3 189.4,449 200.4,435.1 211.5,453.9 222.5,446.4 233.5,454.1 244.6,450.4 255.6,448.6"/><polyline points="167.3,440 178.3,437.6 189.4,451.1 200.4,446.4 211.5,444.4 222.5,436.1 233.5,447.7 244.6,451.9 255.6,449.2"/><polyline points="167.3,438.1 178.3,438.6 189.4,449.3 200.4,439.4 211.5,456.6 222.5,443 233.5,456.8 244.6,463.5 255.6,449.8"/><polyline points="167.3,438.3 178.3,434.4 189.4,446.7 200.4,437.5 211.5,454.8 222.5,440.3 233.5,455.7 244.6,462.4 255.6,452.5"/><polyline points="167.3,429.8 178.3,434.6 189.4,452.1 200.4,433.5 211.5,453.8 222.5,446.3 233.5,454.6 244.6,449.9 255.6,452.2"/><polyline points="167.3,440.4 178.3,435.4 189.4,451.8 200.4,437.7 211.5,444.5 222.5,447.5 233.5,450.9 244.6,457.9 255.6,453"/><polyline points="167.3,439.4 178.3,446.2 189.4,449.7 200.4,440.1 211.5,448.6 222.5,447.2 233.5,452.1 244.6,456.8 255.6,453.5"/><polyline points="167.3,432.7 178.3,435.8 189.4,457.4 200.4,441 211.5,450.2 222.5,441.6 233.5,452.3 244.6,454.5 255.6,457"/><polyline points="167.3,440.5 178.3,443.6 189.4,451.8 200.4,437.1 211.5,441 222.5,445.1 233.5,448.9 244.6,456.7 255.6,451.3"/></g>
<polyline points="167.3,437.6 178.3,437.6 189.4,449.7 200.4,437.6 211.5,447.7 222.5,444.6 233.5,452.2 244.6,454 255.6,454" fill="none" stroke="#000" stroke-width="1.6" stroke-linejoin="round" stroke-linecap="round"/>
<g stroke="#333" stroke-width="0.95" fill="none"><path d="M167.3 419.5V472.7" /><path d="M163.8 472.7H167.3" /><path d="M163.8 463.8H167.3" /><path d="M163.8 455H167.3" /><path d="M163.8 446.1H167.3" /><path d="M163.8 437.2H167.3" /><path d="M163.8 428.4H167.3" /><path d="M163.8 419.5H167.3" /><path d="M167.3 472.7H255.6" /><path d="M167.3 472.7V477.3" /><path d="M178.3 472.7V477.3" /><path d="M189.4 472.7V477.3" /><path d="M200.4 472.7V477.3" /><path d="M211.5 472.7V477.3" /><path d="M222.5 472.7V477.3" /><path d="M233.5 472.7V477.3" /><path d="M244.6 472.7V477.3" /><path d="M255.6 472.7V477.3" /></g>
<text class="yl" transform="translate(159.9 418.4) rotate(-90) scale(1.14 1)">3</text>
<text class="yl" transform="translate(159.9 436.1) rotate(-90) scale(1.14 1)">1</text>
<text class="yl" transform="translate(159.9 452.9) rotate(-90) scale(1.14 1)">−1</text>
<text class="yl" transform="translate(159.9 470.6) rotate(-90) scale(1.14 1)">−3</text>
<text class="tt" x="169.7" y="415.6">C16 ,  40 metabolites</text>
<text class="xl" transform="translate(170.6 480.3) rotate(-90)">T. domestica</text>
<text class="xl" transform="translate(181.6 480.3) rotate(-90)">P. flavescens</text>
<text class="xl" transform="translate(192.7 480.3) rotate(-90)">L. migratoria</text>
<text class="xl" transform="translate(203.7 480.3) rotate(-90)">P. americana</text>
<text class="xl" transform="translate(214.8 480.3) rotate(-90)">A. lucorum</text>
<text class="xl" transform="translate(225.8 480.3) rotate(-90)">A. mellifera</text>
<text class="xl" transform="translate(236.8 480.3) rotate(-90)">T. molitor</text>
<text class="xl" transform="translate(247.9 480.3) rotate(-90)">B. mori</text>
<text class="xl" transform="translate(258.9 480.3) rotate(-90)">D. melanogaster</text>
</g>
<text class="ylab" transform="translate(15.3 236.8) rotate(-90)">Standardised Intensity</text>
</svg>
</body></html>
